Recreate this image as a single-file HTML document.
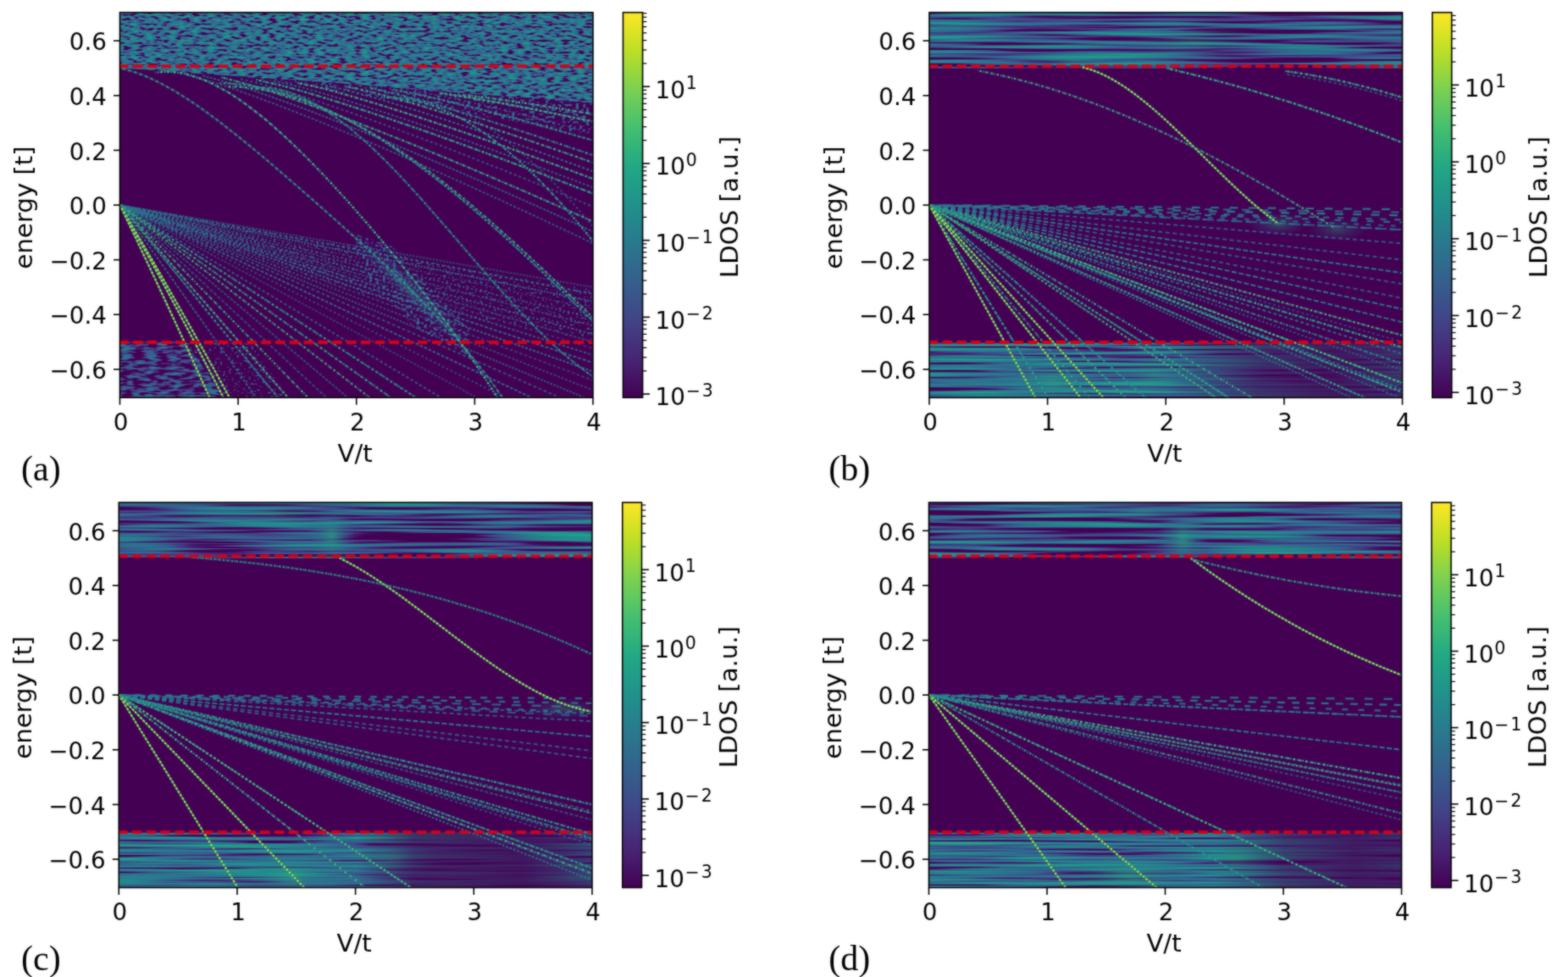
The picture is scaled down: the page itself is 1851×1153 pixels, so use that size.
<!DOCTYPE html>
<html><head><meta charset="utf-8"><title>LDOS</title>
<style>html,body{margin:0;padding:0;background:#fff;overflow:hidden}svg{display:block}</style>
</head><body>
<svg width="1851" height="1153" viewBox="0 0 1851 1153">
<defs><filter id="soft" x="0" y="0" width="1851" height="1153" filterUnits="userSpaceOnUse" color-interpolation-filters="sRGB"><feGaussianBlur stdDeviation="0.8" result="b"/><feComposite in="SourceGraphic" in2="b" operator="arithmetic" k2="0.4" k3="0.6"/></filter>
<linearGradient id="cba" x1="0" y1="1" x2="0" y2="0"><stop offset="0.0" stop-color="#440154"/><stop offset="0.1" stop-color="#482475"/><stop offset="0.2" stop-color="#414487"/><stop offset="0.3" stop-color="#355f8d"/><stop offset="0.4" stop-color="#2a788e"/><stop offset="0.5" stop-color="#21918c"/><stop offset="0.6" stop-color="#22a884"/><stop offset="0.7" stop-color="#44bf70"/><stop offset="0.8" stop-color="#7ad151"/><stop offset="0.9" stop-color="#bddf26"/><stop offset="1.0" stop-color="#fde725"/></linearGradient>
<clipPath id="clipa"><rect x="141.5" y="14.7" width="558.5" height="454.5"/></clipPath>
<linearGradient id="cbb" x1="0" y1="1" x2="0" y2="0"><stop offset="0.0" stop-color="#440154"/><stop offset="0.1" stop-color="#482475"/><stop offset="0.2" stop-color="#414487"/><stop offset="0.3" stop-color="#355f8d"/><stop offset="0.4" stop-color="#2a788e"/><stop offset="0.5" stop-color="#21918c"/><stop offset="0.6" stop-color="#22a884"/><stop offset="0.7" stop-color="#44bf70"/><stop offset="0.8" stop-color="#7ad151"/><stop offset="0.9" stop-color="#bddf26"/><stop offset="1.0" stop-color="#fde725"/></linearGradient>
<clipPath id="clipb"><rect x="1097.0" y="14.7" width="558.5" height="454.6"/></clipPath>
<linearGradient id="cbc" x1="0" y1="1" x2="0" y2="0"><stop offset="0.0" stop-color="#440154"/><stop offset="0.1" stop-color="#482475"/><stop offset="0.2" stop-color="#414487"/><stop offset="0.3" stop-color="#355f8d"/><stop offset="0.4" stop-color="#2a788e"/><stop offset="0.5" stop-color="#21918c"/><stop offset="0.6" stop-color="#22a884"/><stop offset="0.7" stop-color="#44bf70"/><stop offset="0.8" stop-color="#7ad151"/><stop offset="0.9" stop-color="#bddf26"/><stop offset="1.0" stop-color="#fde725"/></linearGradient>
<clipPath id="clipc"><rect x="140.3" y="593.0" width="558.7" height="454.5"/></clipPath>
<linearGradient id="cbd" x1="0" y1="1" x2="0" y2="0"><stop offset="0.0" stop-color="#440154"/><stop offset="0.1" stop-color="#482475"/><stop offset="0.2" stop-color="#414487"/><stop offset="0.3" stop-color="#355f8d"/><stop offset="0.4" stop-color="#2a788e"/><stop offset="0.5" stop-color="#21918c"/><stop offset="0.6" stop-color="#22a884"/><stop offset="0.7" stop-color="#44bf70"/><stop offset="0.8" stop-color="#7ad151"/><stop offset="0.9" stop-color="#bddf26"/><stop offset="1.0" stop-color="#fde725"/></linearGradient>
<clipPath id="clipd"><rect x="1096.5" y="593.0" width="558.0" height="454.5"/></clipPath>
<radialGradient id="glowA"><stop offset="0" stop-color="#2a9d8c" stop-opacity="0.8"/><stop offset="0.6" stop-color="#33638d" stop-opacity="0.35"/><stop offset="1" stop-color="#3b528b" stop-opacity="0"/></radialGradient>
<filter id="nzA" x="0" y="0" width="1" height="1" color-interpolation-filters="sRGB"><feTurbulence type="fractalNoise" baseFrequency="0.11 0.36" numOctaves="2" seed="7" result="t"/><feColorMatrix type="matrix" values="1 0 0 0 0  1 0 0 0 0  1 0 0 0 0  0 0 0 0 1"/><feComponentTransfer><feFuncR type="table" tableValues="0.267 0.267 0.267 0.267 0.267 0.267 0.267 0.267 0.275 0.267 0.224 0.189 0.171 0.155 0.146 0.136 0.129 0.123 0.120 0.120 0.123 0.128 0.137 0.150"/><feFuncG type="table" tableValues="0.005 0.005 0.005 0.005 0.005 0.005 0.005 0.005 0.038 0.228 0.335 0.411 0.453 0.493 0.515 0.541 0.563 0.585 0.604 0.622 0.637 0.648 0.662 0.677"/><feFuncB type="table" tableValues="0.329 0.329 0.329 0.329 0.329 0.329 0.329 0.329 0.365 0.514 0.548 0.556 0.558 0.558 0.557 0.554 0.551 0.547 0.541 0.535 0.529 0.523 0.516 0.507"/><feFuncA type="linear" slope="0" intercept="1"/></feComponentTransfer></filter>
<filter id="nzA2" x="0" y="0" width="1" height="1" color-interpolation-filters="sRGB"><feTurbulence type="fractalNoise" baseFrequency="0.07 0.3" numOctaves="2" seed="11" result="t"/><feColorMatrix type="matrix" values="1 0 0 0 0  1 0 0 0 0  1 0 0 0 0  0 0 0 0 1"/><feComponentTransfer><feFuncR type="table" tableValues="0.267 0.267 0.267 0.267 0.267 0.267 0.267 0.267 0.267 0.267 0.267 0.283 0.254 0.234 0.212 0.194 0.181 0.167 0.159 0.152 0.146 0.139 0.134 0.128"/><feFuncG type="table" tableValues="0.005 0.005 0.005 0.005 0.005 0.005 0.005 0.005 0.005 0.005 0.005 0.136 0.265 0.314 0.360 0.399 0.430 0.464 0.482 0.501 0.515 0.534 0.549 0.567"/><feFuncB type="table" tableValues="0.329 0.329 0.329 0.329 0.329 0.329 0.329 0.329 0.329 0.329 0.329 0.453 0.530 0.544 0.552 0.556 0.557 0.558 0.558 0.558 0.557 0.555 0.554 0.551"/><feFuncA type="linear" slope="0" intercept="1"/></feComponentTransfer></filter>
<filter id="nzH" x="0" y="0" width="1" height="1" color-interpolation-filters="sRGB"><feTurbulence type="fractalNoise" baseFrequency="0.3 0.4" numOctaves="1" seed="3" result="t"/><feColorMatrix type="matrix" values="1 0 0 0 0  1 0 0 0 0  1 0 0 0 0  0 0 0 0 1"/><feComponentTransfer><feFuncR type="table" tableValues="0.267 0.267 0.267 0.267 0.267 0.267 0.267 0.267 0.267 0.267 0.267 0.267 0.267 0.267 0.275 0.271 0.241 0.212 0.196 0.184 0.171 0.161 0.153 0.145"/><feFuncG type="table" tableValues="0.005 0.005 0.005 0.005 0.005 0.005 0.005 0.005 0.005 0.005 0.005 0.005 0.005 0.005 0.038 0.214 0.296 0.360 0.395 0.422 0.453 0.479 0.497 0.519"/><feFuncB type="table" tableValues="0.329 0.329 0.329 0.329 0.329 0.329 0.329 0.329 0.329 0.329 0.329 0.329 0.329 0.329 0.365 0.507 0.540 0.552 0.555 0.557 0.558 0.558 0.558 0.557"/><feFuncA type="linear" slope="0" intercept="1"/></feComponentTransfer></filter>
<filter id="nzH2" x="0" y="0" width="1" height="1" color-interpolation-filters="sRGB"><feTurbulence type="fractalNoise" baseFrequency="0.25 0.35" numOctaves="1" seed="4" result="t"/><feColorMatrix type="matrix" values="1 0 0 0 0  1 0 0 0 0  1 0 0 0 0  0 0 0 0 1"/><feComponentTransfer><feFuncR type="table" tableValues="0.267 0.267 0.267 0.267 0.267 0.267 0.267 0.267 0.267 0.267 0.267 0.267 0.269 0.281 0.249 0.222 0.194 0.182 0.171 0.162 0.152 0.143 0.135 0.128"/><feFuncG type="table" tableValues="0.005 0.005 0.005 0.005 0.005 0.005 0.005 0.005 0.005 0.005 0.005 0.005 0.010 0.156 0.279 0.339 0.399 0.426 0.453 0.475 0.501 0.523 0.545 0.567"/><feFuncB type="table" tableValues="0.329 0.329 0.329 0.329 0.329 0.329 0.329 0.329 0.329 0.329 0.329 0.329 0.335 0.469 0.535 0.549 0.556 0.557 0.558 0.558 0.558 0.556 0.554 0.551"/><feFuncA type="linear" slope="0" intercept="1"/></feComponentTransfer></filter>
<filter id="nzSb" x="0" y="0" width="1" height="1" color-interpolation-filters="sRGB"><feTurbulence type="fractalNoise" baseFrequency="0.005 0.26" numOctaves="2" seed="21" result="t"/><feColorMatrix type="matrix" values="1 0 0 0 0  1 0 0 0 0  1 0 0 0 0  0 0 0 0 1"/><feComponentTransfer><feFuncR type="table" tableValues="0.267 0.267 0.267 0.267 0.267 0.267 0.267 0.267 0.267 0.275 0.280 0.249 0.212 0.184 0.162 0.145 0.131 0.122 0.120 0.126 0.143 0.176 0.214 0.267"/><feFuncG type="table" tableValues="0.005 0.005 0.005 0.005 0.005 0.005 0.005 0.005 0.005 0.038 0.171 0.279 0.360 0.422 0.475 0.519 0.556 0.589 0.618 0.644 0.669 0.698 0.722 0.749"/><feFuncB type="table" tableValues="0.329 0.329 0.329 0.329 0.329 0.329 0.329 0.329 0.329 0.365 0.480 0.535 0.552 0.557 0.558 0.557 0.552 0.546 0.536 0.525 0.511 0.491 0.470 0.441"/><feFuncA type="linear" slope="0" intercept="1"/></feComponentTransfer></filter>
<filter id="nzLb" x="0" y="0" width="1" height="1" color-interpolation-filters="sRGB"><feTurbulence type="fractalNoise" baseFrequency="0.005 0.34" numOctaves="2" seed="26" result="t"/><feColorMatrix type="matrix" values="1 0 0 0 0  1 0 0 0 0  1 0 0 0 0  0 0 0 0 1"/><feComponentTransfer><feFuncR type="table" tableValues="0.267 0.267 0.267 0.267 0.267 0.267 0.267 0.270 0.282 0.254 0.222 0.192 0.171 0.155 0.139 0.128 0.120 0.120 0.126 0.140 0.166 0.202 0.246 0.304"/><feFuncG type="table" tableValues="0.005 0.005 0.005 0.005 0.005 0.005 0.005 0.015 0.146 0.265 0.339 0.403 0.453 0.493 0.534 0.567 0.600 0.622 0.644 0.666 0.691 0.715 0.739 0.765"/><feFuncB type="table" tableValues="0.329 0.329 0.329 0.329 0.329 0.329 0.329 0.341 0.462 0.530 0.549 0.556 0.558 0.558 0.555 0.551 0.543 0.535 0.525 0.513 0.497 0.476 0.452 0.420"/><feFuncA type="linear" slope="0" intercept="1"/></feComponentTransfer></filter>
<filter id="nzSc" x="0" y="0" width="1" height="1" color-interpolation-filters="sRGB"><feTurbulence type="fractalNoise" baseFrequency="0.005 0.26" numOctaves="2" seed="33" result="t"/><feColorMatrix type="matrix" values="1 0 0 0 0  1 0 0 0 0  1 0 0 0 0  0 0 0 0 1"/><feComponentTransfer><feFuncR type="table" tableValues="0.267 0.267 0.267 0.267 0.267 0.267 0.267 0.267 0.267 0.275 0.280 0.249 0.212 0.184 0.162 0.145 0.131 0.122 0.120 0.126 0.143 0.176 0.214 0.267"/><feFuncG type="table" tableValues="0.005 0.005 0.005 0.005 0.005 0.005 0.005 0.005 0.005 0.038 0.171 0.279 0.360 0.422 0.475 0.519 0.556 0.589 0.618 0.644 0.669 0.698 0.722 0.749"/><feFuncB type="table" tableValues="0.329 0.329 0.329 0.329 0.329 0.329 0.329 0.329 0.329 0.365 0.480 0.535 0.552 0.557 0.558 0.557 0.552 0.546 0.536 0.525 0.511 0.491 0.470 0.441"/><feFuncA type="linear" slope="0" intercept="1"/></feComponentTransfer></filter>
<filter id="nzLc" x="0" y="0" width="1" height="1" color-interpolation-filters="sRGB"><feTurbulence type="fractalNoise" baseFrequency="0.005 0.34" numOctaves="2" seed="38" result="t"/><feColorMatrix type="matrix" values="1 0 0 0 0  1 0 0 0 0  1 0 0 0 0  0 0 0 0 1"/><feComponentTransfer><feFuncR type="table" tableValues="0.267 0.267 0.267 0.267 0.267 0.267 0.267 0.270 0.282 0.254 0.222 0.192 0.171 0.155 0.139 0.128 0.120 0.120 0.126 0.140 0.166 0.202 0.246 0.304"/><feFuncG type="table" tableValues="0.005 0.005 0.005 0.005 0.005 0.005 0.005 0.015 0.146 0.265 0.339 0.403 0.453 0.493 0.534 0.567 0.600 0.622 0.644 0.666 0.691 0.715 0.739 0.765"/><feFuncB type="table" tableValues="0.329 0.329 0.329 0.329 0.329 0.329 0.329 0.341 0.462 0.530 0.549 0.556 0.558 0.558 0.555 0.551 0.543 0.535 0.525 0.513 0.497 0.476 0.452 0.420"/><feFuncA type="linear" slope="0" intercept="1"/></feComponentTransfer></filter>
<filter id="nzSd" x="0" y="0" width="1" height="1" color-interpolation-filters="sRGB"><feTurbulence type="fractalNoise" baseFrequency="0.005 0.26" numOctaves="2" seed="45" result="t"/><feColorMatrix type="matrix" values="1 0 0 0 0  1 0 0 0 0  1 0 0 0 0  0 0 0 0 1"/><feComponentTransfer><feFuncR type="table" tableValues="0.267 0.267 0.267 0.267 0.267 0.267 0.267 0.267 0.267 0.275 0.280 0.249 0.212 0.184 0.162 0.145 0.131 0.122 0.120 0.126 0.143 0.176 0.214 0.267"/><feFuncG type="table" tableValues="0.005 0.005 0.005 0.005 0.005 0.005 0.005 0.005 0.005 0.038 0.171 0.279 0.360 0.422 0.475 0.519 0.556 0.589 0.618 0.644 0.669 0.698 0.722 0.749"/><feFuncB type="table" tableValues="0.329 0.329 0.329 0.329 0.329 0.329 0.329 0.329 0.329 0.365 0.480 0.535 0.552 0.557 0.558 0.557 0.552 0.546 0.536 0.525 0.511 0.491 0.470 0.441"/><feFuncA type="linear" slope="0" intercept="1"/></feComponentTransfer></filter>
<filter id="nzLd" x="0" y="0" width="1" height="1" color-interpolation-filters="sRGB"><feTurbulence type="fractalNoise" baseFrequency="0.005 0.34" numOctaves="2" seed="50" result="t"/><feColorMatrix type="matrix" values="1 0 0 0 0  1 0 0 0 0  1 0 0 0 0  0 0 0 0 1"/><feComponentTransfer><feFuncR type="table" tableValues="0.267 0.267 0.267 0.267 0.267 0.267 0.267 0.270 0.282 0.254 0.222 0.192 0.171 0.155 0.139 0.128 0.120 0.120 0.126 0.140 0.166 0.202 0.246 0.304"/><feFuncG type="table" tableValues="0.005 0.005 0.005 0.005 0.005 0.005 0.005 0.015 0.146 0.265 0.339 0.403 0.453 0.493 0.534 0.567 0.600 0.622 0.644 0.666 0.691 0.715 0.739 0.765"/><feFuncB type="table" tableValues="0.329 0.329 0.329 0.329 0.329 0.329 0.329 0.341 0.462 0.530 0.549 0.556 0.558 0.558 0.555 0.551 0.543 0.535 0.525 0.513 0.497 0.476 0.452 0.420"/><feFuncA type="linear" slope="0" intercept="1"/></feComponentTransfer></filter>
<clipPath id="cl11"><path d="M141.5 9.4 L714.0 9.4 L714.0 122.5 L630.2 116.0 L560.4 111.1 L490.6 106.3 L420.8 99.8 L350.9 95.0 L281.1 90.1 L211.3 85.3 L169.4 82.1 L141.5 80.4 Z"/></clipPath>
<clipPath id="cl12"><path d="M281.1 90.1 L420.8 99.8 L560.4 111.1 L714.0 122.5 L714.0 161.2 L630.2 148.3 L560.4 135.4 L448.7 116.0 L350.9 99.8 Z"/></clipPath>
<clipPath id="cl13"><path d="M141.5 403.6 L219.7 403.6 L246.2 435.9 L283.9 474.6 L141.5 474.6 Z"/></clipPath>
<clipPath id="cl14"><path d="M219.7 403.6 L295.1 403.6 L344.0 474.6 L267.2 474.6 Z"/></clipPath>
<clipPath id="cl15"><path d="M141.5 242.0 L420.8 290.5 L560.4 319.5 L714.0 342.2 L714.0 403.6 L490.6 364.8 L350.9 326.0 L211.3 267.8 Z"/></clipPath>
<clipPath id="cl16"><path d="M141.5 242.0 L281.1 266.2 L420.8 290.5 L490.6 306.6 L350.9 306.6 L211.3 274.3 Z"/></clipPath>
<clipPath id="cl17"><path d="M413.8 274.3 L462.6 290.5 L553.4 387.4 L553.4 419.7 L490.6 387.4 L427.7 322.8 Z"/></clipPath>
<radialGradient id="glow"><stop offset="0" stop-color="#26ad81" stop-opacity="0.75"/><stop offset="0.5" stop-color="#21918c" stop-opacity="0.35"/><stop offset="1" stop-color="#25848e" stop-opacity="0"/></radialGradient>
<clipPath id="cl19"><path d="M1097.0 9.4 L1669.5 9.4 L1669.5 80.6 L1097.0 80.6 Z"/></clipPath>
<clipPath id="cl20"><path d="M1097.0 404.5 L1669.5 404.5 L1669.5 474.6 L1097.0 474.6 Z"/></clipPath>
<linearGradient id="fdb" x1="0" x2="1" y1="0" y2="0"><stop offset="0" stop-color="#440154" stop-opacity="0.0"/><stop offset="0.5" stop-color="#440154" stop-opacity="0.0"/><stop offset="0.7" stop-color="#440154" stop-opacity="0.6"/><stop offset="0.85" stop-color="#440154" stop-opacity="0.8"/><stop offset="1" stop-color="#440154" stop-opacity="0.6"/></linearGradient>
<clipPath id="cbb"><rect x="1097.0" y="404.5" width="558.5" height="70.1"/></clipPath>
<clipPath id="cub"><rect x="1097.0" y="9.4" width="558.5" height="71.2"/></clipPath>
<clipPath id="cl24"><path d="M140.3 587.6 L713.0 587.6 L713.0 658.8 L140.3 658.8 Z"/></clipPath>
<clipPath id="cl25"><path d="M140.3 982.7 L713.0 982.7 L713.0 1052.8 L140.3 1052.8 Z"/></clipPath>
<linearGradient id="fdc" x1="0" x2="1" y1="0" y2="0"><stop offset="0" stop-color="#440154" stop-opacity="0.0"/><stop offset="0.5" stop-color="#440154" stop-opacity="0.0"/><stop offset="0.62" stop-color="#440154" stop-opacity="0.65"/><stop offset="0.85" stop-color="#440154" stop-opacity="0.8"/><stop offset="1" stop-color="#440154" stop-opacity="0.45"/></linearGradient>
<clipPath id="cbc"><rect x="140.3" y="982.7" width="558.7" height="70.1"/></clipPath>
<clipPath id="cuc"><rect x="140.3" y="587.6" width="558.7" height="71.2"/></clipPath>
<clipPath id="cl29"><path d="M1096.5 587.6 L1668.4 587.6 L1668.4 658.8 L1096.5 658.8 Z"/></clipPath>
<clipPath id="cl30"><path d="M1096.5 982.7 L1668.4 982.7 L1668.4 1052.8 L1096.5 1052.8 Z"/></clipPath>
<linearGradient id="fdd" x1="0" x2="1" y1="0" y2="0"><stop offset="0" stop-color="#440154" stop-opacity="0.0"/><stop offset="0.6" stop-color="#440154" stop-opacity="0.0"/><stop offset="0.75" stop-color="#440154" stop-opacity="0.55"/><stop offset="0.9" stop-color="#440154" stop-opacity="0.75"/><stop offset="1" stop-color="#440154" stop-opacity="0.65"/></linearGradient>
<clipPath id="cbd"><rect x="1096.5" y="982.7" width="558.0" height="70.1"/></clipPath>
<clipPath id="cud"><rect x="1096.5" y="587.6" width="558.0" height="71.2"/></clipPath></defs><g filter="url(#soft)">
<rect width="1851" height="1153" fill="#fff"/>
<g clip-path="url(#clipa)">
<rect x="141.5" y="14.7" width="558.5" height="454.5" fill="#440154"/>
<g clip-path="url(#cl11)"><rect x="141.5" y="14.7" width="558.5" height="454.5" filter="url(#nzA)" /></g>
<g clip-path="url(#cl12)"><rect x="141.5" y="14.7" width="558.5" height="454.5" filter="url(#nzH2)" /></g>
<g clip-path="url(#cl13)"><rect x="141.5" y="14.7" width="558.5" height="454.5" filter="url(#nzA2)" /></g>
<g clip-path="url(#cl14)"><rect x="141.5" y="14.7" width="558.5" height="454.5" filter="url(#nzH)" /></g>
<g clip-path="url(#cl15)"><rect x="141.5" y="14.7" width="558.5" height="454.5" filter="url(#nzH)" /></g>
<g clip-path="url(#cl16)"><rect x="141.5" y="14.7" width="558.5" height="454.5" filter="url(#nzH)" /></g>
<g clip-path="url(#cl17)"><rect x="141.5" y="14.7" width="558.5" height="454.5" filter="url(#nzH2)" /></g>
<ellipse cx="483.6" cy="342.2" rx="100" ry="13" transform="rotate(44.3 483.6 342.2)" fill="url(#glowA)" opacity="0.6"/>
<path d="M546.4 112.0 C548.8 112.3 556.1 113.0 561.0 113.6 C565.8 114.1 570.7 114.8 575.5 115.4 C580.3 116.0 585.2 116.7 590.0 117.4 C594.9 118.1 599.7 118.8 604.6 119.5 C609.4 120.2 614.3 120.9 619.1 121.6 C624.0 122.4 628.8 123.1 633.7 123.9 C638.5 124.6 643.4 125.4 648.2 126.2 C653.1 127.0 657.9 127.7 662.8 128.5 C667.6 129.3 672.5 130.1 677.3 130.9 C682.2 131.7 687.0 132.5 691.9 133.4 C696.7 134.2 701.6 135.0 706.4 135.8 C711.2 136.6 718.5 137.9 720.9 138.3" fill="none" stroke="#228d8d" stroke-width="2.3" stroke-opacity="0.9542301210811697" stroke-dasharray="2.5 1.5" stroke-dashoffset="2.2"/><path d="M546.4 112.0 C548.8 112.3 556.1 113.0 561.0 113.6 C565.8 114.1 570.7 114.8 575.5 115.4 C580.3 116.0 585.2 116.7 590.0 117.4 C594.9 118.1 599.7 118.8 604.6 119.5 C609.4 120.2 614.3 120.9 619.1 121.6 C624.0 122.4 628.8 123.1 633.7 123.9 C638.5 124.6 643.4 125.4 648.2 126.2 C653.1 127.0 657.9 127.7 662.8 128.5 C667.6 129.3 672.5 130.1 677.3 130.9 C682.2 131.7 687.0 132.5 691.9 133.4 C696.7 134.2 701.6 135.0 706.4 135.8 C711.2 136.6 718.5 137.9 720.9 138.3" fill="none" stroke="#42be71" stroke-width="2.3" stroke-opacity="0.9542301210811697" stroke-dasharray="2 5.4" stroke-dashoffset="0.5"/>
<path d="M518.5 110.0 C521.3 110.3 529.7 111.4 535.4 112.2 C541.0 113.0 546.6 113.9 552.2 114.8 C557.9 115.7 563.5 116.7 569.1 117.7 C574.7 118.7 580.3 119.7 586.0 120.7 C591.6 121.7 597.2 122.8 602.8 123.8 C608.5 124.9 614.1 126.0 619.7 127.1 C625.3 128.2 631.0 129.3 636.6 130.4 C642.2 131.5 647.8 132.6 653.5 133.8 C659.1 134.9 664.7 136.1 670.3 137.2 C676.0 138.4 681.6 139.6 687.2 140.8 C692.8 141.9 698.4 143.1 704.1 144.3 C709.7 145.5 718.1 147.3 720.9 147.9" fill="none" stroke="#26828e" stroke-width="2.3" stroke-opacity="0.9507295311759609" stroke-dasharray="3.5 1.0" stroke-dashoffset="2.2"/><path d="M518.5 110.0 C521.3 110.3 529.7 111.4 535.4 112.2 C541.0 113.0 546.6 113.9 552.2 114.8 C557.9 115.7 563.5 116.7 569.1 117.7 C574.7 118.7 580.3 119.7 586.0 120.7 C591.6 121.7 597.2 122.8 602.8 123.8 C608.5 124.9 614.1 126.0 619.7 127.1 C625.3 128.2 631.0 129.3 636.6 130.4 C642.2 131.5 647.8 132.6 653.5 133.8 C659.1 134.9 664.7 136.1 670.3 137.2 C676.0 138.4 681.6 139.6 687.2 140.8 C692.8 141.9 698.4 143.1 704.1 144.3 C709.7 145.5 718.1 147.3 720.9 147.9" fill="none" stroke="#48c16e" stroke-width="2.3" stroke-opacity="0.9507295311759609" stroke-dasharray="2 3.7" stroke-dashoffset="4.7"/>
<path d="M490.6 107.9 C493.8 108.4 503.4 109.9 509.8 111.1 C516.2 112.3 522.6 113.6 529.0 114.9 C535.4 116.3 541.8 117.7 548.2 119.1 C554.6 120.5 561.0 122.0 567.4 123.5 C573.8 125.0 580.2 126.5 586.6 128.1 C593.0 129.6 599.4 131.2 605.8 132.8 C612.2 134.4 618.6 136.0 625.0 137.6 C631.4 139.2 637.8 140.9 644.2 142.5 C650.5 144.2 656.9 145.8 663.3 147.5 C669.7 149.2 676.1 150.9 682.5 152.6 C688.9 154.4 695.3 156.1 701.7 157.8 C708.1 159.6 717.7 162.2 720.9 163.1" fill="none" stroke="#306a8e" stroke-width="2.0" stroke-opacity="0.6076337582980382" stroke-dasharray="3.1 2.9" stroke-dashoffset="1.9"/>
<path d="M462.6 105.8 C466.2 106.5 477.0 108.2 484.2 109.6 C491.3 111.0 498.5 112.7 505.7 114.3 C512.9 115.9 520.0 117.5 527.2 119.3 C534.4 121.0 541.6 122.7 548.7 124.5 C555.9 126.3 563.1 128.1 570.3 130.0 C577.4 131.8 584.6 133.7 591.8 135.6 C599.0 137.5 606.1 139.4 613.3 141.4 C620.5 143.3 627.7 145.3 634.8 147.3 C642.0 149.2 649.2 151.3 656.4 153.3 C663.5 155.3 670.7 157.3 677.9 159.4 C685.1 161.4 692.2 163.5 699.4 165.6 C706.6 167.7 717.4 170.8 720.9 171.9" fill="none" stroke="#2b748e" stroke-width="2.3" stroke-opacity="0.8266349726748151" stroke-dasharray="2.4 1.4" stroke-dashoffset="2.5"/><path d="M462.6 105.8 C466.2 106.5 477.0 108.2 484.2 109.6 C491.3 111.0 498.5 112.7 505.7 114.3 C512.9 115.9 520.0 117.5 527.2 119.3 C534.4 121.0 541.6 122.7 548.7 124.5 C555.9 126.3 563.1 128.1 570.3 130.0 C577.4 131.8 584.6 133.7 591.8 135.6 C599.0 137.5 606.1 139.4 613.3 141.4 C620.5 143.3 627.7 145.3 634.8 147.3 C642.0 149.2 649.2 151.3 656.4 153.3 C663.5 155.3 670.7 157.3 677.9 159.4 C685.1 161.4 692.2 163.5 699.4 165.6 C706.6 167.7 717.4 170.8 720.9 171.9" fill="none" stroke="#2ab07f" stroke-width="2.3" stroke-opacity="0.8266349726748151" stroke-dasharray="2 3.7" stroke-dashoffset="1.1"/>
<path d="M434.7 103.8 C438.7 104.6 450.6 106.9 458.6 108.8 C466.5 110.6 474.5 112.7 482.4 114.8 C490.4 116.9 498.3 119.1 506.3 121.4 C514.2 123.6 522.2 125.9 530.1 128.3 C538.1 130.6 546.0 133.0 554.0 135.4 C561.9 137.9 569.9 140.3 577.8 142.8 C585.8 145.3 593.7 147.9 601.7 150.4 C609.6 153.0 617.6 155.5 625.5 158.1 C633.5 160.8 641.4 163.4 649.4 166.0 C657.3 168.7 665.3 171.4 673.2 174.1 C681.2 176.7 689.1 179.5 697.1 182.2 C705.0 184.9 717.0 189.1 720.9 190.4" fill="none" stroke="#2b748e" stroke-width="2.3" stroke-opacity="0.7869344843771456" stroke-dasharray="3.7 1.6" stroke-dashoffset="3.2"/><path d="M434.7 103.8 C438.7 104.6 450.6 106.9 458.6 108.8 C466.5 110.6 474.5 112.7 482.4 114.8 C490.4 116.9 498.3 119.1 506.3 121.4 C514.2 123.6 522.2 125.9 530.1 128.3 C538.1 130.6 546.0 133.0 554.0 135.4 C561.9 137.9 569.9 140.3 577.8 142.8 C585.8 145.3 593.7 147.9 601.7 150.4 C609.6 153.0 617.6 155.5 625.5 158.1 C633.5 160.8 641.4 163.4 649.4 166.0 C657.3 168.7 665.3 171.4 673.2 174.1 C681.2 176.7 689.1 179.5 697.1 182.2 C705.0 184.9 717.0 189.1 720.9 190.4" fill="none" stroke="#28ae80" stroke-width="2.3" stroke-opacity="0.7869344843771456" stroke-dasharray="2 6.0" stroke-dashoffset="4.3"/>
<path d="M406.8 101.7 C411.2 102.6 424.2 105.2 433.0 107.3 C441.7 109.4 450.4 111.8 459.1 114.2 C467.9 116.5 476.6 119.0 485.3 121.5 C494.1 124.1 502.8 126.7 511.5 129.3 C520.2 132.0 529.0 134.7 537.7 137.4 C546.4 140.1 555.1 142.9 563.9 145.7 C572.6 148.5 581.3 151.4 590.0 154.3 C598.8 157.1 607.5 160.0 616.2 163.0 C625.0 165.9 633.7 168.9 642.4 171.9 C651.1 174.8 659.9 177.9 668.6 180.9 C677.3 183.9 686.0 187.0 694.8 190.1 C703.5 193.1 716.6 197.8 720.9 199.4" fill="none" stroke="#228c8d" stroke-width="2.3" stroke-opacity="0.7998085556080387" stroke-dasharray="3.4 1.9" stroke-dashoffset="2.1"/><path d="M406.8 101.7 C411.2 102.6 424.2 105.2 433.0 107.3 C441.7 109.4 450.4 111.8 459.1 114.2 C467.9 116.5 476.6 119.0 485.3 121.5 C494.1 124.1 502.8 126.7 511.5 129.3 C520.2 132.0 529.0 134.7 537.7 137.4 C546.4 140.1 555.1 142.9 563.9 145.7 C572.6 148.5 581.3 151.4 590.0 154.3 C598.8 157.1 607.5 160.0 616.2 163.0 C625.0 165.9 633.7 168.9 642.4 171.9 C651.1 174.8 659.9 177.9 668.6 180.9 C677.3 183.9 686.0 187.0 694.8 190.1 C703.5 193.1 716.6 197.8 720.9 199.4" fill="none" stroke="#50c46a" stroke-width="2.3" stroke-opacity="0.7998085556080387" stroke-dasharray="2 5.0" stroke-dashoffset="1.5"/>
<path d="M378.9 99.6 C383.6 100.7 397.9 103.6 407.4 106.0 C416.9 108.3 426.4 111.0 435.9 113.7 C445.4 116.4 454.9 119.2 464.4 122.1 C473.9 124.9 483.4 127.9 492.9 130.8 C502.4 133.8 511.9 136.9 521.4 140.0 C530.9 143.1 540.4 146.2 549.9 149.4 C559.4 152.5 568.9 155.8 578.4 159.0 C587.9 162.3 597.4 165.6 606.9 168.9 C616.4 172.2 625.9 175.5 635.4 178.9 C644.9 182.3 654.4 185.7 663.9 189.1 C673.4 192.5 682.9 196.0 692.4 199.5 C701.9 203.0 716.2 208.2 720.9 210.0" fill="none" stroke="#25838e" stroke-width="2.0" stroke-opacity="0.8538592255284938" stroke-dasharray="3.0 2.4" stroke-dashoffset="0.2"/>
<path d="M350.9 97.6 C356.1 98.7 371.5 102.0 381.8 104.5 C392.0 107.1 402.3 110.1 412.6 113.0 C422.9 116.0 433.2 119.1 443.4 122.2 C453.7 125.3 464.0 128.6 474.3 131.9 C484.6 135.1 494.8 138.5 505.1 141.9 C515.4 145.3 525.7 148.7 535.9 152.2 C546.2 155.7 556.5 159.2 566.8 162.8 C577.1 166.4 587.3 170.0 597.6 173.6 C607.9 177.3 618.2 181.0 628.4 184.7 C638.7 188.4 649.0 192.1 659.3 195.9 C669.6 199.7 679.8 203.5 690.1 207.3 C700.4 211.1 715.8 216.9 720.9 218.8" fill="none" stroke="#26828e" stroke-width="2.3" stroke-opacity="0.9392212742662908" stroke-dasharray="2.3 1.5" stroke-dashoffset="3.5"/><path d="M350.9 97.6 C356.1 98.7 371.5 102.0 381.8 104.5 C392.0 107.1 402.3 110.1 412.6 113.0 C422.9 116.0 433.2 119.1 443.4 122.2 C453.7 125.3 464.0 128.6 474.3 131.9 C484.6 135.1 494.8 138.5 505.1 141.9 C515.4 145.3 525.7 148.7 535.9 152.2 C546.2 155.7 556.5 159.2 566.8 162.8 C577.1 166.4 587.3 170.0 597.6 173.6 C607.9 177.3 618.2 181.0 628.4 184.7 C638.7 188.4 649.0 192.1 659.3 195.9 C669.6 199.7 679.8 203.5 690.1 207.3 C700.4 211.1 715.8 216.9 720.9 218.8" fill="none" stroke="#44bf70" stroke-width="2.3" stroke-opacity="0.9392212742662908" stroke-dasharray="2 4.1" stroke-dashoffset="2.2"/>
<path d="M323.0 95.5 C328.5 96.8 345.1 100.3 356.2 103.2 C367.2 106.0 378.3 109.3 389.3 112.6 C400.4 115.8 411.4 119.2 422.5 122.7 C433.5 126.2 444.6 129.7 455.7 133.4 C466.7 137.0 477.8 140.7 488.8 144.4 C499.9 148.2 510.9 152.0 522.0 155.8 C533.0 159.7 544.1 163.6 555.1 167.5 C566.2 171.5 577.2 175.5 588.3 179.5 C599.4 183.5 610.4 187.6 621.5 191.7 C632.5 195.8 643.6 199.9 654.6 204.1 C665.7 208.2 676.7 212.4 687.8 216.6 C698.8 220.9 715.4 227.3 720.9 229.4" fill="none" stroke="#27808e" stroke-width="2.0" stroke-opacity="0.7562815252839435" stroke-dasharray="2.8 2.2" stroke-dashoffset="0.1"/>
<path d="M302.1 94.0 C307.9 95.3 325.3 99.1 337.0 102.1 C348.6 105.2 360.2 108.7 371.9 112.1 C383.5 115.6 395.2 119.2 406.8 122.9 C418.4 126.6 430.1 130.4 441.7 134.3 C453.3 138.1 465.0 142.1 476.6 146.1 C488.2 150.1 499.9 154.1 511.5 158.2 C523.1 162.3 534.8 166.5 546.4 170.7 C558.0 174.9 569.7 179.2 581.3 183.4 C593.0 187.7 604.6 192.1 616.2 196.4 C627.9 200.8 639.5 205.2 651.1 209.6 C662.8 214.1 674.4 218.5 686.0 223.0 C697.7 227.5 715.1 234.3 720.9 236.6" fill="none" stroke="#1f948c" stroke-width="2.3" stroke-opacity="0.9110146265811507" stroke-dasharray="3.2 1.4" stroke-dashoffset="0.9"/><path d="M302.1 94.0 C307.9 95.3 325.3 99.1 337.0 102.1 C348.6 105.2 360.2 108.7 371.9 112.1 C383.5 115.6 395.2 119.2 406.8 122.9 C418.4 126.6 430.1 130.4 441.7 134.3 C453.3 138.1 465.0 142.1 476.6 146.1 C488.2 150.1 499.9 154.1 511.5 158.2 C523.1 162.3 534.8 166.5 546.4 170.7 C558.0 174.9 569.7 179.2 581.3 183.4 C593.0 187.7 604.6 192.1 616.2 196.4 C627.9 200.8 639.5 205.2 651.1 209.6 C662.8 214.1 674.4 218.5 686.0 223.0 C697.7 227.5 715.1 234.3 720.9 236.6" fill="none" stroke="#38b977" stroke-width="2.3" stroke-opacity="0.9110146265811507" stroke-dasharray="2 5.9" stroke-dashoffset="3.9"/>
<path d="M281.1 92.4 C287.2 93.9 305.6 98.2 317.8 101.6 C330.0 105.0 342.2 108.9 354.4 112.8 C366.6 116.7 378.9 120.8 391.1 125.0 C403.3 129.1 415.5 133.4 427.7 137.7 C439.9 142.1 452.2 146.5 464.4 151.0 C476.6 155.5 488.8 160.0 501.0 164.6 C513.3 169.2 525.5 173.9 537.7 178.6 C549.9 183.4 562.1 188.1 574.3 193.0 C586.6 197.8 598.8 202.6 611.0 207.5 C623.2 212.4 635.4 217.4 647.6 222.4 C659.9 227.3 672.1 232.4 684.3 237.4 C696.5 242.5 714.8 250.1 720.9 252.7" fill="none" stroke="#26828e" stroke-width="2.0" stroke-opacity="0.6696528384189043" stroke-dasharray="3.0 2.9" stroke-dashoffset="2.9"/>
<path d="M260.2 90.9 C266.6 92.6 285.8 97.4 298.6 101.2 C311.4 105.0 324.2 109.4 337.0 113.8 C349.8 118.1 362.6 122.7 375.4 127.4 C388.2 132.0 401.0 136.8 413.8 141.7 C426.6 146.6 439.4 151.6 452.2 156.6 C465.0 161.6 477.8 166.7 490.6 171.9 C503.4 177.1 516.2 182.3 529.0 187.6 C541.8 192.9 554.6 198.3 567.4 203.7 C580.2 209.1 593.0 214.6 605.8 220.1 C618.6 225.6 631.4 231.1 644.2 236.7 C656.9 242.3 669.7 248.0 682.5 253.6 C695.3 259.3 714.5 267.9 720.9 270.8" fill="none" stroke="#25858e" stroke-width="2.3" stroke-opacity="0.7807838432324263" stroke-dasharray="3.9 1.0" stroke-dashoffset="3.9"/><path d="M260.2 90.9 C266.6 92.6 285.8 97.4 298.6 101.2 C311.4 105.0 324.2 109.4 337.0 113.8 C349.8 118.1 362.6 122.7 375.4 127.4 C388.2 132.0 401.0 136.8 413.8 141.7 C426.6 146.6 439.4 151.6 452.2 156.6 C465.0 161.6 477.8 166.7 490.6 171.9 C503.4 177.1 516.2 182.3 529.0 187.6 C541.8 192.9 554.6 198.3 567.4 203.7 C580.2 209.1 593.0 214.6 605.8 220.1 C618.6 225.6 631.4 231.1 644.2 236.7 C656.9 242.3 669.7 248.0 682.5 253.6 C695.3 259.3 714.5 267.9 720.9 270.8" fill="none" stroke="#50c46a" stroke-width="2.3" stroke-opacity="0.7807838432324263" stroke-dasharray="2 5.7" stroke-dashoffset="3.7"/>
<path d="M239.2 89.3 C245.9 91.2 266.0 96.3 279.4 100.4 C292.8 104.5 306.1 109.3 319.5 114.0 C332.9 118.7 346.3 123.6 359.7 128.6 C373.0 133.6 386.4 138.8 399.8 144.1 C413.2 149.3 426.6 154.7 439.9 160.1 C453.3 165.5 466.7 171.0 480.1 176.6 C493.5 182.2 506.9 187.8 520.2 193.5 C533.6 199.2 547.0 205.0 560.4 210.8 C573.8 216.6 587.1 222.5 600.5 228.4 C613.9 234.4 627.3 240.3 640.7 246.4 C654.0 252.4 667.4 258.4 680.8 264.6 C694.2 270.7 714.3 279.9 720.9 283.0" fill="none" stroke="#2a788e" stroke-width="2.0" stroke-opacity="0.7684073594335137" stroke-dasharray="2.9 1.6" stroke-dashoffset="4.4"/>
<path d="M218.3 87.8 C225.3 89.8 246.2 95.3 260.2 99.8 C274.1 104.2 288.1 109.4 302.1 114.4 C316.0 119.5 330.0 124.9 344.0 130.3 C357.9 135.7 371.9 141.3 385.8 147.0 C399.8 152.6 413.8 158.4 427.7 164.3 C441.7 170.2 455.7 176.1 469.6 182.2 C483.6 188.2 497.5 194.3 511.5 200.5 C525.5 206.6 539.4 212.9 553.4 219.2 C567.4 225.5 581.3 231.8 595.3 238.2 C609.2 244.6 623.2 251.1 637.2 257.6 C651.1 264.1 665.1 270.7 679.1 277.3 C693.0 283.9 714.0 293.9 720.9 297.2" fill="none" stroke="#2d708e" stroke-width="2.0" stroke-opacity="0.751416140228659" stroke-dasharray="3.0 2.0" stroke-dashoffset="1.7"/>
<path d="M141.5 242.0 C149.4 243.4 172.9 247.5 188.6 250.2 C204.3 252.9 220.0 255.6 235.7 258.4 C251.5 261.1 267.2 263.8 282.9 266.5 C298.6 269.3 314.3 272.0 330.0 274.7 C345.7 277.4 361.4 280.2 377.1 282.9 C392.8 285.6 408.5 288.3 424.2 291.1 C439.9 293.8 455.7 296.5 471.4 299.2 C487.1 302.0 502.8 304.7 518.5 307.4 C534.2 310.2 549.9 312.9 565.6 315.6 C581.3 318.3 597.0 321.1 612.7 323.8 C628.4 326.5 644.2 329.2 659.9 332.0 C675.6 334.7 699.1 338.8 707.0 340.1" fill="none" stroke="#2d718e" stroke-width="1.9" stroke-opacity="0.6337357394348178" stroke-dasharray="2.4 1.6" stroke-dashoffset="1.1"/>
<path d="M141.5 242.0 C149.4 243.5 172.9 247.9 188.6 250.8 C204.3 253.8 220.0 256.7 235.7 259.7 C251.5 262.6 267.2 265.6 282.9 268.5 C298.6 271.4 314.3 274.4 330.0 277.3 C345.7 280.3 361.4 283.2 377.1 286.2 C392.8 289.1 408.5 292.1 424.2 295.0 C439.9 297.9 455.7 300.9 471.4 303.8 C487.1 306.8 502.8 309.7 518.5 312.7 C534.2 315.6 549.9 318.6 565.6 321.5 C581.3 324.4 597.0 327.4 612.7 330.3 C628.4 333.3 644.2 336.2 659.9 339.2 C675.6 342.1 699.1 346.5 707.0 348.0" fill="none" stroke="#297a8e" stroke-width="2.0" stroke-opacity="0.8583026582559974" stroke-dasharray="3.6 2.7" stroke-dashoffset="4.1"/>
<path d="M141.5 242.0 C149.4 243.6 172.9 248.4 188.6 251.6 C204.3 254.8 220.0 258.0 235.7 261.2 C251.5 264.4 267.2 267.6 282.9 270.8 C298.6 274.0 314.3 277.2 330.0 280.4 C345.7 283.6 361.4 286.8 377.1 290.0 C392.8 293.2 408.5 296.4 424.2 299.6 C439.9 302.8 455.7 306.0 471.4 309.2 C487.1 312.4 502.8 315.6 518.5 318.8 C534.2 322.0 549.9 325.2 565.6 328.4 C581.3 331.6 597.0 334.8 612.7 338.0 C628.4 341.2 644.2 344.4 659.9 347.6 C675.6 350.8 699.1 355.6 707.0 357.2" fill="none" stroke="#26828e" stroke-width="2.0" stroke-opacity="0.8019340576316121" stroke-dasharray="2.2 1.5" stroke-dashoffset="0.1"/>
<path d="M141.5 242.0 C149.4 243.7 172.9 248.9 188.6 252.4 C204.3 255.8 220.0 259.3 235.7 262.7 C251.5 266.2 267.2 269.6 282.9 273.1 C298.6 276.5 314.3 280.0 330.0 283.4 C345.7 286.9 361.4 290.3 377.1 293.8 C392.8 297.3 408.5 300.7 424.2 304.2 C439.9 307.6 455.7 311.1 471.4 314.5 C487.1 318.0 502.8 321.4 518.5 324.9 C534.2 328.3 549.9 331.8 565.6 335.2 C581.3 338.7 597.0 342.1 612.7 345.6 C628.4 349.0 644.2 352.5 659.9 356.0 C675.6 359.4 699.1 364.6 707.0 366.3" fill="none" stroke="#33638d" stroke-width="1.9" stroke-opacity="0.48284658818830783" stroke-dasharray="2.7 2.2" stroke-dashoffset="0.3"/>
<path d="M141.5 242.0 C149.4 243.9 172.9 249.5 188.6 253.2 C204.3 257.0 220.0 260.7 235.7 264.5 C251.5 268.2 267.2 272.0 282.9 275.7 C298.6 279.4 314.3 283.2 330.0 286.9 C345.7 290.7 361.4 294.4 377.1 298.2 C392.8 301.9 408.5 305.6 424.2 309.4 C439.9 313.1 455.7 316.9 471.4 320.6 C487.1 324.4 502.8 328.1 518.5 331.9 C534.2 335.6 549.9 339.3 565.6 343.1 C581.3 346.8 597.0 350.6 612.7 354.3 C628.4 358.1 644.2 361.8 659.9 365.5 C675.6 369.3 699.1 374.9 707.0 376.8" fill="none" stroke="#29798e" stroke-width="2.0" stroke-opacity="0.6504434838667285" stroke-dasharray="2.5 2.6" stroke-dashoffset="2.3"/>
<path d="M141.5 242.0 C149.4 244.0 172.9 250.0 188.6 254.0 C204.3 258.0 220.0 262.0 235.7 266.0 C251.5 270.0 267.2 274.0 282.9 278.0 C298.6 282.0 314.3 286.0 330.0 290.0 C345.7 294.0 361.4 298.0 377.1 302.0 C392.8 306.0 408.5 310.0 424.2 314.0 C439.9 318.0 455.7 322.0 471.4 326.0 C487.1 330.0 502.8 334.0 518.5 338.0 C534.2 342.0 549.9 346.0 565.6 350.0 C581.3 354.0 597.0 358.0 612.7 362.0 C628.4 365.9 644.2 369.9 659.9 373.9 C675.6 377.9 699.1 383.9 707.0 385.9" fill="none" stroke="#2a778e" stroke-width="2.0" stroke-opacity="0.6070903732895961" stroke-dasharray="2.8 2.1" stroke-dashoffset="0.9"/>
<path d="M141.5 242.0 C149.4 244.1 172.9 250.6 188.6 254.9 C204.3 259.2 220.0 263.4 235.7 267.7 C251.5 272.0 267.2 276.3 282.9 280.6 C298.6 284.9 314.3 289.2 330.0 293.5 C345.7 297.8 361.4 302.0 377.1 306.3 C392.8 310.6 408.5 314.9 424.2 319.2 C439.9 323.5 455.7 327.8 471.4 332.1 C487.1 336.4 502.8 340.7 518.5 344.9 C534.2 349.2 549.9 353.5 565.6 357.8 C581.3 362.1 597.0 366.4 612.7 370.7 C628.4 375.0 644.2 379.3 659.9 383.5 C675.6 387.8 699.1 394.3 707.0 396.4" fill="none" stroke="#25838e" stroke-width="2.0" stroke-opacity="0.7530347942786029" stroke-dasharray="2.4 2.4" stroke-dashoffset="4.1"/>
<path d="M141.5 242.0 C149.4 244.3 172.9 251.1 188.6 255.6 C204.3 260.2 220.0 264.7 235.7 269.3 C251.5 273.8 267.2 278.3 282.9 282.9 C298.6 287.4 314.3 292.0 330.0 296.5 C345.7 301.1 361.4 305.6 377.1 310.2 C392.8 314.7 408.5 319.2 424.2 323.8 C439.9 328.3 455.7 332.9 471.4 337.4 C487.1 342.0 502.8 346.5 518.5 351.0 C534.2 355.6 549.9 360.1 565.6 364.7 C581.3 369.2 597.0 373.8 612.7 378.3 C628.4 382.9 644.2 387.4 659.9 391.9 C675.6 396.5 699.1 403.3 707.0 405.6" fill="none" stroke="#306a8e" stroke-width="2.0" stroke-opacity="0.6439385221198037" stroke-dasharray="3.4 1.7" stroke-dashoffset="3.5"/>
<path d="M141.5 242.0 C149.4 244.4 172.9 251.5 188.6 256.3 C204.3 261.0 220.0 265.8 235.7 270.6 C251.5 275.3 267.2 280.1 282.9 284.9 C298.6 289.6 314.3 294.4 330.0 299.1 C345.7 303.9 361.4 308.7 377.1 313.4 C392.8 318.2 408.5 322.9 424.2 327.7 C439.9 332.5 455.7 337.2 471.4 342.0 C487.1 346.8 502.8 351.5 518.5 356.3 C534.2 361.0 549.9 365.8 565.6 370.6 C581.3 375.3 597.0 380.1 612.7 384.9 C628.4 389.6 644.2 394.4 659.9 399.1 C675.6 403.9 699.1 411.0 707.0 413.4" fill="none" stroke="#2e6e8e" stroke-width="1.9" stroke-opacity="0.5161799244068029" stroke-dasharray="3.5 3.1" stroke-dashoffset="2.6"/>
<path d="M141.5 242.0 C149.4 244.5 172.9 252.0 188.6 256.9 C204.3 261.9 220.0 266.9 235.7 271.9 C251.5 276.9 267.2 281.8 282.9 286.8 C298.6 291.8 314.3 296.8 330.0 301.8 C345.7 306.7 361.4 311.7 377.1 316.7 C392.8 321.7 408.5 326.7 424.2 331.6 C439.9 336.6 455.7 341.6 471.4 346.6 C487.1 351.6 502.8 356.5 518.5 361.5 C534.2 366.5 549.9 371.5 565.6 376.5 C581.3 381.4 597.0 386.4 612.7 391.4 C628.4 396.4 644.2 401.4 659.9 406.3 C675.6 411.3 699.1 418.8 707.0 421.3" fill="none" stroke="#287c8e" stroke-width="2.0" stroke-opacity="0.7184694029574898" stroke-dasharray="3.2 2.0" stroke-dashoffset="3.2"/>
<path d="M141.5 242.0 C149.4 244.6 172.9 252.5 188.6 257.7 C204.3 262.9 220.0 268.2 235.7 273.4 C251.5 278.6 267.2 283.9 282.9 289.1 C298.6 294.3 314.3 299.6 330.0 304.8 C345.7 310.0 361.4 315.3 377.1 320.5 C392.8 325.7 408.5 331.0 424.2 336.2 C439.9 341.5 455.7 346.7 471.4 351.9 C487.1 357.2 502.8 362.4 518.5 367.6 C534.2 372.9 549.9 378.1 565.6 383.3 C581.3 388.6 597.0 393.8 612.7 399.0 C628.4 404.3 644.2 409.5 659.9 414.7 C675.6 420.0 699.1 427.8 707.0 430.4" fill="none" stroke="#2c728e" stroke-width="2.0" stroke-opacity="0.8903709930452668" stroke-dasharray="3.8 2.0" stroke-dashoffset="4.3"/>
<path d="M141.5 242.0 C149.4 244.8 172.9 253.1 188.6 258.6 C204.3 264.1 220.0 269.6 235.7 275.2 C251.5 280.7 267.2 286.2 282.9 291.7 C298.6 297.3 314.3 302.8 330.0 308.3 C345.7 313.8 361.4 319.4 377.1 324.9 C392.8 330.4 408.5 335.9 424.2 341.5 C439.9 347.0 455.7 352.5 471.4 358.0 C487.1 363.6 502.8 369.1 518.5 374.6 C534.2 380.1 549.9 385.7 565.6 391.2 C581.3 396.7 597.0 402.2 612.7 407.8 C628.4 413.3 644.2 418.8 659.9 424.3 C675.6 429.9 699.1 438.1 707.0 440.9" fill="none" stroke="#25848e" stroke-width="2.0" stroke-opacity="0.8231526356001363" stroke-dasharray="2.8 1.9" stroke-dashoffset="0.0"/>
<path d="M141.5 242.0 C149.4 244.9 172.9 253.6 188.6 259.4 C204.3 265.3 220.0 271.1 235.7 276.9 C251.5 282.7 267.2 288.5 282.9 294.3 C298.6 300.2 314.3 306.0 330.0 311.8 C345.7 317.6 361.4 323.4 377.1 329.2 C392.8 335.1 408.5 340.9 424.2 346.7 C439.9 352.5 455.7 358.3 471.4 364.1 C487.1 369.9 502.8 375.8 518.5 381.6 C534.2 387.4 549.9 393.2 565.6 399.0 C581.3 404.8 597.0 410.7 612.7 416.5 C628.4 422.3 644.2 428.1 659.9 433.9 C675.6 439.7 699.1 448.5 707.0 451.4" fill="none" stroke="#365c8d" stroke-width="1.9" stroke-opacity="0.6958242331838391" stroke-dasharray="3.4 2.6" stroke-dashoffset="0.9"/>
<path d="M141.5 242.0 C149.4 245.1 172.9 254.3 188.6 260.4 C204.3 266.6 220.0 272.7 235.7 278.9 C251.5 285.0 267.2 291.1 282.9 297.3 C298.6 303.4 314.3 309.6 330.0 315.7 C345.7 321.9 361.4 328.0 377.1 334.1 C392.8 340.3 408.5 346.4 424.2 352.6 C439.9 358.7 455.7 364.9 471.4 371.0 C487.1 377.1 502.8 383.3 518.5 389.4 C534.2 395.6 549.9 401.7 565.6 407.9 C581.3 414.0 597.0 420.1 612.7 426.3 C628.4 432.4 644.2 438.6 659.9 444.7 C675.6 450.9 699.1 460.1 707.0 463.1" fill="none" stroke="#287c8e" stroke-width="1.9" stroke-opacity="0.6612069426990215" stroke-dasharray="2.5 2.3" stroke-dashoffset="1.7"/>
<path d="M141.5 242.0 C149.4 245.3 172.9 255.0 188.6 261.5 C204.3 268.0 220.0 274.5 235.7 281.0 C251.5 287.5 267.2 294.1 282.9 300.6 C298.6 307.1 314.3 313.6 330.0 320.1 C345.7 326.6 361.4 333.1 377.1 339.6 C392.8 346.1 408.5 352.6 424.2 359.1 C439.9 365.6 455.7 372.1 471.4 378.6 C487.1 385.1 502.8 391.6 518.5 398.2 C534.2 404.7 549.9 411.2 565.6 417.7 C581.3 424.2 597.0 430.7 612.7 437.2 C628.4 443.7 644.2 450.2 659.9 456.7 C675.6 463.2 699.1 473.0 707.0 476.2" fill="none" stroke="#287d8e" stroke-width="2.0" stroke-opacity="0.7298850363300948" stroke-dasharray="2.4 1.7" stroke-dashoffset="3.3"/>
<path d="M141.5 242.0 C149.2 245.4 172.3 255.5 187.7 262.2 C203.1 268.9 218.5 275.7 233.8 282.4 C249.2 289.1 264.6 295.9 280.0 302.6 C295.4 309.3 310.8 316.0 326.2 322.8 C341.6 329.5 357.0 336.2 372.4 343.0 C387.8 349.7 403.1 356.4 418.5 363.2 C433.9 369.9 449.3 376.6 464.7 383.4 C480.1 390.1 495.5 396.8 510.9 403.6 C526.3 410.3 541.7 417.0 557.1 423.7 C572.4 430.5 587.8 437.2 603.2 443.9 C618.6 450.7 634.0 457.4 649.4 464.1 C664.8 470.9 687.9 481.0 695.6 484.3" fill="none" stroke="#2a788e" stroke-width="2.0" stroke-opacity="0.6976036964627989" stroke-dasharray="3.7 2.8" stroke-dashoffset="0.1"/>
<path d="M141.5 242.0 C148.7 245.4 170.3 255.5 184.7 262.2 C199.1 268.9 213.5 275.7 227.9 282.4 C242.3 289.1 256.7 295.9 271.1 302.6 C285.5 309.3 299.9 316.0 314.3 322.8 C328.7 329.5 343.1 336.2 357.5 343.0 C371.9 349.7 386.3 356.4 400.7 363.2 C415.1 369.9 429.5 376.6 443.9 383.4 C458.3 390.1 472.7 396.8 487.1 403.6 C501.5 410.3 515.9 417.0 530.3 423.7 C544.7 430.5 559.1 437.2 573.5 443.9 C587.9 450.7 602.3 457.4 616.7 464.1 C631.1 470.9 652.7 481.0 659.9 484.3" fill="none" stroke="#2c738e" stroke-width="2.0" stroke-opacity="0.8961149153784078" stroke-dasharray="3.6 2.0" stroke-dashoffset="1.1"/>
<path d="M141.5 242.0 C148.2 245.4 168.4 255.5 181.9 262.2 C195.4 268.9 208.8 275.7 222.3 282.4 C235.8 289.1 249.2 295.9 262.7 302.6 C276.2 309.3 289.6 316.0 303.1 322.8 C316.6 329.5 330.0 336.2 343.5 343.0 C357.0 349.7 370.4 356.4 383.9 363.2 C397.4 369.9 410.8 376.6 424.3 383.4 C437.8 390.1 451.2 396.8 464.7 403.6 C478.2 410.3 491.6 417.0 505.1 423.7 C518.6 430.5 532.0 437.2 545.5 443.9 C559.0 450.7 572.4 457.4 585.9 464.1 C599.4 470.9 619.6 481.0 626.3 484.3" fill="none" stroke="#2a778e" stroke-width="1.9" stroke-opacity="0.7296562415680882" stroke-dasharray="2.2 3.3" stroke-dashoffset="3.4"/>
<path d="M141.5 242.0 C147.7 245.4 166.5 255.5 179.0 262.2 C191.4 268.9 203.9 275.7 216.4 282.4 C228.9 289.1 241.4 295.9 253.9 302.6 C266.3 309.3 278.8 316.0 291.3 322.8 C303.8 329.5 316.3 336.2 328.8 343.0 C341.2 349.7 353.7 356.4 366.2 363.2 C378.7 369.9 391.2 376.6 403.7 383.4 C416.2 390.1 428.6 396.8 441.1 403.6 C453.6 410.3 466.1 417.0 478.6 423.7 C491.1 430.5 503.5 437.2 516.0 443.9 C528.5 450.7 541.0 457.4 553.5 464.1 C566.0 470.9 584.7 481.0 590.9 484.3" fill="none" stroke="#287d8e" stroke-width="1.9" stroke-opacity="0.5203921304613115" stroke-dasharray="3.0 1.7" stroke-dashoffset="0.8"/>
<path d="M141.5 242.0 C147.1 245.4 164.0 255.5 175.2 262.2 C186.4 268.9 197.7 275.7 208.9 282.4 C220.1 289.1 231.3 295.9 242.6 302.6 C253.8 309.3 265.0 316.0 276.3 322.8 C287.5 329.5 298.7 336.2 310.0 343.0 C321.2 349.7 332.4 356.4 343.7 363.2 C354.9 369.9 366.1 376.6 377.4 383.4 C388.6 390.1 399.8 396.8 411.0 403.6 C422.3 410.3 433.5 417.0 444.7 423.7 C456.0 430.5 467.2 437.2 478.4 443.9 C489.7 450.7 500.9 457.4 512.1 464.1 C523.4 470.9 540.2 481.0 545.8 484.3" fill="none" stroke="#2d708e" stroke-width="2.0" stroke-opacity="0.827734854814932" stroke-dasharray="3.2 2.8" stroke-dashoffset="1.8"/>
<path d="M141.5 242.0 C146.7 245.4 162.2 255.5 172.6 262.2 C182.9 268.9 193.3 275.7 203.6 282.4 C214.0 289.1 224.3 295.9 234.7 302.6 C245.0 309.3 255.4 316.0 265.7 322.8 C276.1 329.5 286.4 336.2 296.8 343.0 C307.1 349.7 317.5 356.4 327.8 363.2 C338.2 369.9 348.5 376.6 358.9 383.4 C369.2 390.1 379.6 396.8 389.9 403.6 C400.3 410.3 410.6 417.0 421.0 423.7 C431.4 430.5 441.7 437.2 452.1 443.9 C462.4 450.7 472.8 457.4 483.1 464.1 C493.5 470.9 509.0 481.0 514.2 484.3" fill="none" stroke="#21918c" stroke-width="2.3" stroke-opacity="0.7873645862233404" stroke-dasharray="3.2 2.0" stroke-dashoffset="4.4"/><path d="M141.5 242.0 C146.7 245.4 162.2 255.5 172.6 262.2 C182.9 268.9 193.3 275.7 203.6 282.4 C214.0 289.1 224.3 295.9 234.7 302.6 C245.0 309.3 255.4 316.0 265.7 322.8 C276.1 329.5 286.4 336.2 296.8 343.0 C307.1 349.7 317.5 356.4 327.8 363.2 C338.2 369.9 348.5 376.6 358.9 383.4 C369.2 390.1 379.6 396.8 389.9 403.6 C400.3 410.3 410.6 417.0 421.0 423.7 C431.4 430.5 441.7 437.2 452.1 443.9 C462.4 450.7 472.8 457.4 483.1 464.1 C493.5 470.9 509.0 481.0 514.2 484.3" fill="none" stroke="#26ad81" stroke-width="2.3" stroke-opacity="0.7873645862233404" stroke-dasharray="2 4.7" stroke-dashoffset="0.5"/>
<path d="M141.5 242.0 C146.2 245.4 160.5 255.5 169.9 262.2 C179.4 268.9 188.9 275.7 198.4 282.4 C207.8 289.1 217.3 295.9 226.8 302.6 C236.3 309.3 245.7 316.0 255.2 322.8 C264.7 329.5 274.2 336.2 283.6 343.0 C293.1 349.7 302.6 356.4 312.1 363.2 C321.5 369.9 331.0 376.6 340.5 383.4 C350.0 390.1 359.4 396.8 368.9 403.6 C378.4 410.3 387.9 417.0 397.3 423.7 C406.8 430.5 416.3 437.2 425.8 443.9 C435.2 450.7 444.7 457.4 454.2 464.1 C463.7 470.9 477.9 481.0 482.6 484.3" fill="none" stroke="#21918c" stroke-width="2.3" stroke-opacity="0.7219580256497045" stroke-dasharray="3.6 1.8" stroke-dashoffset="1.7"/><path d="M141.5 242.0 C146.2 245.4 160.5 255.5 169.9 262.2 C179.4 268.9 188.9 275.7 198.4 282.4 C207.8 289.1 217.3 295.9 226.8 302.6 C236.3 309.3 245.7 316.0 255.2 322.8 C264.7 329.5 274.2 336.2 283.6 343.0 C293.1 349.7 302.6 356.4 312.1 363.2 C321.5 369.9 331.0 376.6 340.5 383.4 C350.0 390.1 359.4 396.8 368.9 403.6 C378.4 410.3 387.9 417.0 397.3 423.7 C406.8 430.5 416.3 437.2 425.8 443.9 C435.2 450.7 444.7 457.4 454.2 464.1 C463.7 470.9 477.9 481.0 482.6 484.3" fill="none" stroke="#40bd72" stroke-width="2.3" stroke-opacity="0.7219580256497045" stroke-dasharray="2 5.3" stroke-dashoffset="1.9"/>
<path d="M141.5 242.0 C145.9 245.4 159.0 255.5 167.7 262.2 C176.4 268.9 185.2 275.7 193.9 282.4 C202.6 289.1 211.4 295.9 220.1 302.6 C228.9 309.3 237.6 316.0 246.3 322.8 C255.1 329.5 263.8 336.2 272.5 343.0 C281.3 349.7 290.0 356.4 298.7 363.2 C307.5 369.9 316.2 376.6 324.9 383.4 C333.7 390.1 342.4 396.8 351.1 403.6 C359.9 410.3 368.6 417.0 377.4 423.7 C386.1 430.5 394.8 437.2 403.6 443.9 C412.3 450.7 421.0 457.4 429.8 464.1 C438.5 470.9 451.6 481.0 456.0 484.3" fill="none" stroke="#2a768e" stroke-width="2.3" stroke-opacity="0.7671142218246307" stroke-dasharray="2.5 1.9" stroke-dashoffset="2.8"/><path d="M141.5 242.0 C145.9 245.4 159.0 255.5 167.7 262.2 C176.4 268.9 185.2 275.7 193.9 282.4 C202.6 289.1 211.4 295.9 220.1 302.6 C228.9 309.3 237.6 316.0 246.3 322.8 C255.1 329.5 263.8 336.2 272.5 343.0 C281.3 349.7 290.0 356.4 298.7 363.2 C307.5 369.9 316.2 376.6 324.9 383.4 C333.7 390.1 342.4 396.8 351.1 403.6 C359.9 410.3 368.6 417.0 377.4 423.7 C386.1 430.5 394.8 437.2 403.6 443.9 C412.3 450.7 421.0 457.4 429.8 464.1 C438.5 470.9 451.6 481.0 456.0 484.3" fill="none" stroke="#58c765" stroke-width="2.3" stroke-opacity="0.7671142218246307" stroke-dasharray="2 4.4" stroke-dashoffset="1.4"/>
<path d="M141.5 242.0 C145.5 245.4 157.4 255.5 165.4 262.2 C173.4 268.9 181.3 275.7 189.3 282.4 C197.3 289.1 205.3 295.9 213.2 302.6 C221.2 309.3 229.2 316.0 237.1 322.8 C245.1 329.5 253.1 336.2 261.0 343.0 C269.0 349.7 277.0 356.4 285.0 363.2 C292.9 369.9 300.9 376.6 308.9 383.4 C316.8 390.1 324.8 396.8 332.8 403.6 C340.7 410.3 348.7 417.0 356.7 423.7 C364.6 430.5 372.6 437.2 380.6 443.9 C388.6 450.7 396.5 457.4 404.5 464.1 C412.5 470.9 424.4 481.0 428.4 484.3" fill="none" stroke="#26828e" stroke-width="2.0" stroke-opacity="0.603714523346" stroke-dasharray="3.3 1.6" stroke-dashoffset="0.6"/>
<path d="M141.5 242.0 C145.1 245.4 155.9 255.5 163.2 262.2 C170.4 268.9 177.6 275.7 184.8 282.4 C192.0 289.1 199.2 295.9 206.5 302.6 C213.7 309.3 220.9 316.0 228.1 322.8 C235.3 329.5 242.6 336.2 249.8 343.0 C257.0 349.7 264.2 356.4 271.4 363.2 C278.6 369.9 285.9 376.6 293.1 383.4 C300.3 390.1 307.5 396.8 314.7 403.6 C322.0 410.3 329.2 417.0 336.4 423.7 C343.6 430.5 350.8 437.2 358.0 443.9 C365.3 450.7 372.5 457.4 379.7 464.1 C386.9 470.9 397.7 481.0 401.3 484.3" fill="none" stroke="#2f6b8e" stroke-width="2.0" stroke-opacity="0.6718900094602528" stroke-dasharray="4.0 2.1" stroke-dashoffset="0.6"/>
<path d="M141.5 242.0 C144.8 245.4 154.7 255.5 161.2 262.2 C167.8 268.9 174.4 275.7 181.0 282.4 C187.6 289.1 194.1 295.9 200.7 302.6 C207.3 309.3 213.9 316.0 220.5 322.8 C227.1 329.5 233.6 336.2 240.2 343.0 C246.8 349.7 253.4 356.4 260.0 363.2 C266.5 369.9 273.1 376.6 279.7 383.4 C286.3 390.1 292.9 396.8 299.4 403.6 C306.0 410.3 312.6 417.0 319.2 423.7 C325.8 430.5 332.4 437.2 338.9 443.9 C345.5 450.7 352.1 457.4 358.7 464.1 C365.3 470.9 375.1 481.0 378.4 484.3" fill="none" stroke="#228c8d" stroke-width="2.3" stroke-opacity="0.7724260855293529" stroke-dasharray="2.2 1.9" stroke-dashoffset="1.9"/><path d="M141.5 242.0 C144.8 245.4 154.7 255.5 161.2 262.2 C167.8 268.9 174.4 275.7 181.0 282.4 C187.6 289.1 194.1 295.9 200.7 302.6 C207.3 309.3 213.9 316.0 220.5 322.8 C227.1 329.5 233.6 336.2 240.2 343.0 C246.8 349.7 253.4 356.4 260.0 363.2 C266.5 369.9 273.1 376.6 279.7 383.4 C286.3 390.1 292.9 396.8 299.4 403.6 C306.0 410.3 312.6 417.0 319.2 423.7 C325.8 430.5 332.4 437.2 338.9 443.9 C345.5 450.7 352.1 457.4 358.7 464.1 C365.3 470.9 375.1 481.0 378.4 484.3" fill="none" stroke="#5ac864" stroke-width="2.3" stroke-opacity="0.7724260855293529" stroke-dasharray="2 5.7" stroke-dashoffset="1.5"/>
<path d="M141.5 242.0 C144.4 245.4 153.3 255.5 159.1 262.2 C165.0 268.9 170.9 275.7 176.8 282.4 C182.6 289.1 188.5 295.9 194.4 302.6 C200.3 309.3 206.1 316.0 212.0 322.8 C217.9 329.5 223.8 336.2 229.6 343.0 C235.5 349.7 241.4 356.4 247.3 363.2 C253.2 369.9 259.0 376.6 264.9 383.4 C270.8 390.1 276.7 396.8 282.5 403.6 C288.4 410.3 294.3 417.0 300.2 423.7 C306.0 430.5 311.9 437.2 317.8 443.9 C323.7 450.7 329.5 457.4 335.4 464.1 C341.3 470.9 350.1 481.0 353.1 484.3" fill="none" stroke="#2a768e" stroke-width="2.3" stroke-opacity="0.8431030287916803" stroke-dasharray="3.3 1.0" stroke-dashoffset="0.1"/><path d="M141.5 242.0 C144.4 245.4 153.3 255.5 159.1 262.2 C165.0 268.9 170.9 275.7 176.8 282.4 C182.6 289.1 188.5 295.9 194.4 302.6 C200.3 309.3 206.1 316.0 212.0 322.8 C217.9 329.5 223.8 336.2 229.6 343.0 C235.5 349.7 241.4 356.4 247.3 363.2 C253.2 369.9 259.0 376.6 264.9 383.4 C270.8 390.1 276.7 396.8 282.5 403.6 C288.4 410.3 294.3 417.0 300.2 423.7 C306.0 430.5 311.9 437.2 317.8 443.9 C323.7 450.7 329.5 457.4 335.4 464.1 C341.3 470.9 350.1 481.0 353.1 484.3" fill="none" stroke="#5cc863" stroke-width="2.3" stroke-opacity="0.8431030287916803" stroke-dasharray="2 3.9" stroke-dashoffset="3.0"/>
<path d="M141.5 242.0 C144.3 245.4 152.6 255.5 158.1 262.2 C163.6 268.9 169.2 275.7 174.7 282.4 C180.2 289.1 185.7 295.9 191.3 302.6 C196.8 309.3 202.3 316.0 207.9 322.8 C213.4 329.5 218.9 336.2 224.5 343.0 C230.0 349.7 235.5 356.4 241.0 363.2 C246.6 369.9 252.1 376.6 257.6 383.4 C263.2 390.1 268.7 396.8 274.2 403.6 C279.8 410.3 285.3 417.0 290.8 423.7 C296.3 430.5 301.9 437.2 307.4 443.9 C312.9 450.7 318.5 457.4 324.0 464.1 C329.5 470.9 337.8 481.0 340.6 484.3" fill="none" stroke="#2b758e" stroke-width="2.3" stroke-opacity="0.7939842583206783" stroke-dasharray="3.8 2.0" stroke-dashoffset="4.8"/><path d="M141.5 242.0 C144.3 245.4 152.6 255.5 158.1 262.2 C163.6 268.9 169.2 275.7 174.7 282.4 C180.2 289.1 185.7 295.9 191.3 302.6 C196.8 309.3 202.3 316.0 207.9 322.8 C213.4 329.5 218.9 336.2 224.5 343.0 C230.0 349.7 235.5 356.4 241.0 363.2 C246.6 369.9 252.1 376.6 257.6 383.4 C263.2 390.1 268.7 396.8 274.2 403.6 C279.8 410.3 285.3 417.0 290.8 423.7 C296.3 430.5 301.9 437.2 307.4 443.9 C312.9 450.7 318.5 457.4 324.0 464.1 C329.5 470.9 337.8 481.0 340.6 484.3" fill="none" stroke="#25ac82" stroke-width="2.3" stroke-opacity="0.7939842583206783" stroke-dasharray="2 3.6" stroke-dashoffset="3.1"/>
<path d="M141.5 242.0 C143.9 245.4 151.0 255.5 155.8 262.2 C160.6 268.9 165.3 275.7 170.1 282.4 C174.9 289.1 179.6 295.9 184.4 302.6 C189.2 309.3 194.0 316.0 198.7 322.8 C203.5 329.5 208.3 336.2 213.0 343.0 C217.8 349.7 222.6 356.4 227.3 363.2 C232.1 369.9 236.9 376.6 241.6 383.4 C246.4 390.1 251.2 396.8 255.9 403.6 C260.7 410.3 265.5 417.0 270.3 423.7 C275.0 430.5 279.8 437.2 284.6 443.9 C289.3 450.7 294.1 457.4 298.9 464.1 C303.6 470.9 310.8 481.0 313.2 484.3" fill="none" stroke="#29798e" stroke-width="2.0" stroke-opacity="0.8064569424143138" stroke-dasharray="3.3 1.9" stroke-dashoffset="2.7"/>
<path d="M141.5 242.0 C143.4 245.2 149.2 255.0 153.1 261.5 C156.9 268.0 160.8 274.5 164.6 281.1 C168.5 287.7 172.3 294.3 176.2 300.9 C180.0 307.5 183.9 314.2 187.7 320.8 C191.6 327.5 195.4 334.2 199.3 340.9 C203.1 347.7 207.0 354.4 210.8 361.2 C214.7 368.0 218.5 374.8 222.4 381.6 C226.2 388.5 230.1 395.3 233.9 402.2 C237.8 409.1 241.6 416.0 245.5 423.0 C249.3 429.9 253.2 436.9 257.1 443.9 C260.9 450.9 264.8 457.9 268.6 465.0 C272.5 472.0 278.2 482.6 280.2 486.2" fill="none" stroke="#21918c" stroke-width="2.3" stroke-opacity="0.95" /><path d="M141.5 242.0 C143.4 245.2 149.2 255.0 153.1 261.5 C156.9 268.0 160.8 274.5 164.6 281.1 C168.5 287.7 172.3 294.3 176.2 300.9 C180.0 307.5 183.9 314.2 187.7 320.8 C191.6 327.5 195.4 334.2 199.3 340.9 C203.1 347.7 207.0 354.4 210.8 361.2 C214.7 368.0 218.5 374.8 222.4 381.6 C226.2 388.5 230.1 395.3 233.9 402.2 C237.8 409.1 241.6 416.0 245.5 423.0 C249.3 429.9 253.2 436.9 257.1 443.9 C260.9 450.9 264.8 457.9 268.6 465.0 C272.5 472.0 278.2 482.6 280.2 486.2" fill="none" stroke="#d2e21b" stroke-width="2.3" stroke-dasharray="2 2.6" />
<path d="M141.5 242.0 C143.3 245.2 148.8 254.9 152.4 261.5 C156.0 268.0 159.7 274.5 163.3 281.1 C166.9 287.6 170.6 294.2 174.2 300.8 C177.8 307.5 181.4 314.1 185.1 320.8 C188.7 327.4 192.3 334.1 196.0 340.8 C199.6 347.5 203.2 354.3 206.9 361.0 C210.5 367.8 214.1 374.6 217.8 381.4 C221.4 388.2 225.0 395.1 228.7 401.9 C232.3 408.8 235.9 415.7 239.5 422.6 C243.2 429.5 246.8 436.5 250.4 443.4 C254.1 450.4 257.7 457.4 261.3 464.4 C265.0 471.4 270.4 482.0 272.2 485.5" fill="none" stroke="#21918c" stroke-width="2.3" stroke-opacity="0.95" /><path d="M141.5 242.0 C143.3 245.2 148.8 254.9 152.4 261.5 C156.0 268.0 159.7 274.5 163.3 281.1 C166.9 287.6 170.6 294.2 174.2 300.8 C177.8 307.5 181.4 314.1 185.1 320.8 C188.7 327.4 192.3 334.1 196.0 340.8 C199.6 347.5 203.2 354.3 206.9 361.0 C210.5 367.8 214.1 374.6 217.8 381.4 C221.4 388.2 225.0 395.1 228.7 401.9 C232.3 408.8 235.9 415.7 239.5 422.6 C243.2 429.5 246.8 436.5 250.4 443.4 C254.1 450.4 257.7 457.4 261.3 464.4 C265.0 471.4 270.4 482.0 272.2 485.5" fill="none" stroke="#d2e21b" stroke-width="2.3" stroke-dasharray="2 2.6" />
<path d="M141.5 242.0 C143.1 245.2 147.8 254.9 150.9 261.5 C154.0 268.0 157.1 274.5 160.3 281.0 C163.4 287.6 166.5 294.2 169.6 300.7 C172.8 307.3 175.9 314.0 179.0 320.6 C182.2 327.2 185.3 333.9 188.4 340.6 C191.5 347.2 194.7 353.9 197.8 360.7 C200.9 367.4 204.0 374.1 207.2 380.9 C210.3 387.7 213.4 394.4 216.6 401.3 C219.7 408.1 222.8 414.9 225.9 421.7 C229.1 428.6 232.2 435.5 235.3 442.4 C238.4 449.3 241.6 456.2 244.7 463.1 C247.8 470.1 252.5 480.5 254.1 484.0" fill="none" stroke="#21918c" stroke-width="2.3" stroke-opacity="0.95" /><path d="M141.5 242.0 C143.1 245.2 147.8 254.9 150.9 261.5 C154.0 268.0 157.1 274.5 160.3 281.0 C163.4 287.6 166.5 294.2 169.6 300.7 C172.8 307.3 175.9 314.0 179.0 320.6 C182.2 327.2 185.3 333.9 188.4 340.6 C191.5 347.2 194.7 353.9 197.8 360.7 C200.9 367.4 204.0 374.1 207.2 380.9 C210.3 387.7 213.4 394.4 216.6 401.3 C219.7 408.1 222.8 414.9 225.9 421.7 C229.1 428.6 232.2 435.5 235.3 442.4 C238.4 449.3 241.6 456.2 244.7 463.1 C247.8 470.1 252.5 480.5 254.1 484.0" fill="none" stroke="#d2e21b" stroke-width="2.3" stroke-dasharray="2 2.6" />
<path d="M141.5 80.2 C144.7 81.2 154.3 83.5 160.7 85.7 C167.1 87.9 173.5 90.5 179.9 93.5 C186.3 96.5 192.7 99.8 199.1 103.4 C205.5 107.0 211.9 110.9 218.3 115.0 C224.7 119.0 231.1 123.4 237.5 127.9 C243.9 132.4 250.3 137.1 256.7 141.9 C263.1 146.8 269.5 151.8 275.9 156.9 C282.3 161.9 288.7 167.1 295.1 172.4 C301.5 177.7 307.9 183.0 314.3 188.4 C320.7 193.8 327.1 199.3 333.5 204.8 C339.9 210.3 346.3 215.9 352.7 221.4 C359.1 227.0 365.5 232.6 371.9 238.2 C378.3 243.9 384.7 249.5 391.1 255.2 C397.5 260.9 403.9 266.6 410.3 272.4 C416.7 278.1 423.1 283.9 429.5 289.8 C435.9 295.6 442.3 301.5 448.7 307.5 C455.1 313.4 461.5 319.5 467.9 325.6 C474.3 331.7 480.7 338.0 487.1 344.3 C493.5 350.7 499.9 357.2 506.3 363.8 C512.7 370.5 519.1 377.3 525.5 384.4 C531.9 391.4 538.3 398.6 544.7 406.2 C551.1 413.7 557.5 421.4 563.9 429.6 C570.3 437.7 576.7 446.1 583.1 454.9 C589.5 463.7 599.1 477.9 602.3 482.5" fill="none" stroke="#287c8e" stroke-width="2.3" stroke-opacity="0.792196335343754" stroke-dasharray="2.2 1.3" stroke-dashoffset="4.9"/><path d="M141.5 80.2 C144.7 81.2 154.3 83.5 160.7 85.7 C167.1 87.9 173.5 90.5 179.9 93.5 C186.3 96.5 192.7 99.8 199.1 103.4 C205.5 107.0 211.9 110.9 218.3 115.0 C224.7 119.0 231.1 123.4 237.5 127.9 C243.9 132.4 250.3 137.1 256.7 141.9 C263.1 146.8 269.5 151.8 275.9 156.9 C282.3 161.9 288.7 167.1 295.1 172.4 C301.5 177.7 307.9 183.0 314.3 188.4 C320.7 193.8 327.1 199.3 333.5 204.8 C339.9 210.3 346.3 215.9 352.7 221.4 C359.1 227.0 365.5 232.6 371.9 238.2 C378.3 243.9 384.7 249.5 391.1 255.2 C397.5 260.9 403.9 266.6 410.3 272.4 C416.7 278.1 423.1 283.9 429.5 289.8 C435.9 295.6 442.3 301.5 448.7 307.5 C455.1 313.4 461.5 319.5 467.9 325.6 C474.3 331.7 480.7 338.0 487.1 344.3 C493.5 350.7 499.9 357.2 506.3 363.8 C512.7 370.5 519.1 377.3 525.5 384.4 C531.9 391.4 538.3 398.6 544.7 406.2 C551.1 413.7 557.5 421.4 563.9 429.6 C570.3 437.7 576.7 446.1 583.1 454.9 C589.5 463.7 599.1 477.9 602.3 482.5" fill="none" stroke="#35b779" stroke-width="2.3" stroke-opacity="0.792196335343754" stroke-dasharray="2 5.0" stroke-dashoffset="3.2"/>
<path d="M183.4 85.4 C186.3 85.3 195.0 84.5 200.8 84.8 C206.7 85.1 212.5 86.0 218.3 87.2 C224.1 88.5 229.9 90.3 235.7 92.4 C241.6 94.6 247.4 97.2 253.2 100.1 C259.0 103.0 264.8 106.3 270.7 109.8 C276.5 113.4 282.3 117.3 288.1 121.5 C293.9 125.6 299.7 130.1 305.6 134.7 C311.4 139.3 317.2 144.2 323.0 149.3 C328.8 154.4 334.6 159.7 340.5 165.1 C346.3 170.6 352.1 176.2 357.9 182.0 C363.7 187.7 369.6 193.7 375.4 199.7 C381.2 205.7 387.0 211.9 392.8 218.2 C398.6 224.5 404.5 230.9 410.3 237.4 C416.1 243.9 421.9 250.5 427.7 257.2 C433.5 263.9 439.4 270.7 445.2 277.5 C451.0 284.4 456.8 291.4 462.6 298.5 C468.5 305.6 474.3 312.7 480.1 320.0 C485.9 327.3 491.7 334.7 497.5 342.2 C503.4 349.7 509.2 357.3 515.0 365.0 C520.8 372.8 526.6 380.6 532.5 388.6 C538.3 396.7 544.1 404.8 549.9 413.2 C555.7 421.5 561.5 430.0 567.4 438.8 C573.2 447.5 579.0 456.4 584.8 465.6 C590.6 474.7 599.4 489.1 602.3 493.8" fill="none" stroke="#26818e" stroke-width="2.3" stroke-opacity="0.9822203566746999" stroke-dasharray="2.6 1.3" stroke-dashoffset="1.6"/><path d="M183.4 85.4 C186.3 85.3 195.0 84.5 200.8 84.8 C206.7 85.1 212.5 86.0 218.3 87.2 C224.1 88.5 229.9 90.3 235.7 92.4 C241.6 94.6 247.4 97.2 253.2 100.1 C259.0 103.0 264.8 106.3 270.7 109.8 C276.5 113.4 282.3 117.3 288.1 121.5 C293.9 125.6 299.7 130.1 305.6 134.7 C311.4 139.3 317.2 144.2 323.0 149.3 C328.8 154.4 334.6 159.7 340.5 165.1 C346.3 170.6 352.1 176.2 357.9 182.0 C363.7 187.7 369.6 193.7 375.4 199.7 C381.2 205.7 387.0 211.9 392.8 218.2 C398.6 224.5 404.5 230.9 410.3 237.4 C416.1 243.9 421.9 250.5 427.7 257.2 C433.5 263.9 439.4 270.7 445.2 277.5 C451.0 284.4 456.8 291.4 462.6 298.5 C468.5 305.6 474.3 312.7 480.1 320.0 C485.9 327.3 491.7 334.7 497.5 342.2 C503.4 349.7 509.2 357.3 515.0 365.0 C520.8 372.8 526.6 380.6 532.5 388.6 C538.3 396.7 544.1 404.8 549.9 413.2 C555.7 421.5 561.5 430.0 567.4 438.8 C573.2 447.5 579.0 456.4 584.8 465.6 C590.6 474.7 599.4 489.1 602.3 493.8" fill="none" stroke="#52c569" stroke-width="2.3" stroke-opacity="0.9822203566746999" stroke-dasharray="2 5.7" stroke-dashoffset="1.5"/>
<path d="M259.6 98.2 C262.8 98.3 272.2 98.6 278.6 99.1 C284.9 99.7 291.2 100.5 297.5 101.5 C303.8 102.5 310.1 103.7 316.4 105.2 C322.7 106.6 329.0 108.3 335.3 110.2 C341.7 112.1 348.0 114.2 354.3 116.4 C360.6 118.7 366.9 121.2 373.2 123.9 C379.5 126.5 385.8 129.4 392.1 132.4 C398.4 135.5 404.8 138.7 411.1 142.0 C417.4 145.4 423.7 149.0 430.0 152.7 C436.3 156.4 442.6 160.2 448.9 164.2 C455.2 168.2 461.6 172.4 467.9 176.7 C474.2 181.0 480.5 185.4 486.8 190.0 C493.1 194.6 499.4 199.3 505.7 204.1 C512.0 208.9 518.3 213.8 524.7 218.8 C531.0 223.9 537.3 229.0 543.6 234.3 C549.9 239.5 556.2 244.9 562.5 250.3 C568.8 255.7 575.1 261.3 581.4 266.9 C587.8 272.5 594.1 278.2 600.4 283.9 C606.7 289.7 613.0 295.5 619.3 301.4 C625.6 307.3 631.9 313.2 638.2 319.2 C644.5 325.2 650.9 331.3 657.2 337.4 C663.5 343.5 669.8 349.6 676.1 355.8 C682.4 361.9 688.7 368.1 695.0 374.3 C701.3 380.6 710.8 389.9 714.0 393.0" fill="none" stroke="#25858e" stroke-width="2.3" stroke-opacity="0.8003000216952285" stroke-dasharray="3.2 1.6" stroke-dashoffset="1.2"/><path d="M259.6 98.2 C262.8 98.3 272.2 98.6 278.6 99.1 C284.9 99.7 291.2 100.5 297.5 101.5 C303.8 102.5 310.1 103.7 316.4 105.2 C322.7 106.6 329.0 108.3 335.3 110.2 C341.7 112.1 348.0 114.2 354.3 116.4 C360.6 118.7 366.9 121.2 373.2 123.9 C379.5 126.5 385.8 129.4 392.1 132.4 C398.4 135.5 404.8 138.7 411.1 142.0 C417.4 145.4 423.7 149.0 430.0 152.7 C436.3 156.4 442.6 160.2 448.9 164.2 C455.2 168.2 461.6 172.4 467.9 176.7 C474.2 181.0 480.5 185.4 486.8 190.0 C493.1 194.6 499.4 199.3 505.7 204.1 C512.0 208.9 518.3 213.8 524.7 218.8 C531.0 223.9 537.3 229.0 543.6 234.3 C549.9 239.5 556.2 244.9 562.5 250.3 C568.8 255.7 575.1 261.3 581.4 266.9 C587.8 272.5 594.1 278.2 600.4 283.9 C606.7 289.7 613.0 295.5 619.3 301.4 C625.6 307.3 631.9 313.2 638.2 319.2 C644.5 325.2 650.9 331.3 657.2 337.4 C663.5 343.5 669.8 349.6 676.1 355.8 C682.4 361.9 688.7 368.1 695.0 374.3 C701.3 380.6 710.8 389.9 714.0 393.0" fill="none" stroke="#23a983" stroke-width="2.3" stroke-opacity="0.8003000216952285" stroke-dasharray="2 3.7" stroke-dashoffset="0.4"/>
<path d="M268.0 102.1 C271.2 102.2 280.6 102.5 286.9 103.0 C293.2 103.6 299.6 104.3 305.9 105.4 C312.2 106.4 318.5 107.6 324.8 109.1 C331.1 110.5 337.4 112.2 343.7 114.1 C350.0 116.0 356.3 118.0 362.7 120.3 C369.0 122.6 375.3 125.1 381.6 127.8 C387.9 130.4 394.2 133.3 400.5 136.3 C406.8 139.3 413.1 142.6 419.4 145.9 C425.8 149.3 432.1 152.9 438.4 156.6 C444.7 160.2 451.0 164.1 457.3 168.1 C463.6 172.1 469.9 176.3 476.2 180.6 C482.5 184.9 488.9 189.3 495.2 193.9 C501.5 198.4 507.8 203.1 514.1 207.9 C520.4 212.7 526.7 217.7 533.0 222.7 C539.3 227.8 545.7 232.9 552.0 238.1 C558.3 243.4 564.6 248.7 570.9 254.2 C577.2 259.6 583.5 265.1 589.8 270.8 C596.1 276.4 602.4 282.0 608.8 287.8 C615.1 293.6 621.4 299.4 627.7 305.3 C634.0 311.2 640.3 317.1 646.6 323.1 C652.9 329.1 659.2 335.2 665.5 341.3 C671.9 347.3 678.2 353.5 684.5 359.6 C690.8 365.8 697.1 372.0 703.4 378.2 C709.7 384.4 719.2 393.8 722.3 396.9" fill="none" stroke="#2b758e" stroke-width="2.3" stroke-opacity="0.8653614264746518" stroke-dasharray="2.2 1.6" stroke-dashoffset="1.5"/><path d="M268.0 102.1 C271.2 102.2 280.6 102.5 286.9 103.0 C293.2 103.6 299.6 104.3 305.9 105.4 C312.2 106.4 318.5 107.6 324.8 109.1 C331.1 110.5 337.4 112.2 343.7 114.1 C350.0 116.0 356.3 118.0 362.7 120.3 C369.0 122.6 375.3 125.1 381.6 127.8 C387.9 130.4 394.2 133.3 400.5 136.3 C406.8 139.3 413.1 142.6 419.4 145.9 C425.8 149.3 432.1 152.9 438.4 156.6 C444.7 160.2 451.0 164.1 457.3 168.1 C463.6 172.1 469.9 176.3 476.2 180.6 C482.5 184.9 488.9 189.3 495.2 193.9 C501.5 198.4 507.8 203.1 514.1 207.9 C520.4 212.7 526.7 217.7 533.0 222.7 C539.3 227.8 545.7 232.9 552.0 238.1 C558.3 243.4 564.6 248.7 570.9 254.2 C577.2 259.6 583.5 265.1 589.8 270.8 C596.1 276.4 602.4 282.0 608.8 287.8 C615.1 293.6 621.4 299.4 627.7 305.3 C634.0 311.2 640.3 317.1 646.6 323.1 C652.9 329.1 659.2 335.2 665.5 341.3 C671.9 347.3 678.2 353.5 684.5 359.6 C690.8 365.8 697.1 372.0 703.4 378.2 C709.7 384.4 719.2 393.8 722.3 396.9" fill="none" stroke="#4ec36b" stroke-width="2.3" stroke-opacity="0.8653614264746518" stroke-dasharray="2 4.5" stroke-dashoffset="4.3"/>
<path d="M300.0 103.2 C302.8 103.3 311.5 103.1 317.2 103.8 C323.0 104.4 328.7 105.6 334.5 107.1 C340.2 108.7 346.0 110.7 351.7 113.0 C357.5 115.4 363.2 118.2 369.0 121.2 C374.7 124.3 380.5 127.8 386.2 131.6 C392.0 135.3 397.7 139.5 403.5 143.8 C409.2 148.2 415.0 152.9 420.7 157.8 C426.5 162.7 432.2 167.9 438.0 173.2 C443.7 178.6 449.5 184.2 455.2 189.9 C461.0 195.7 466.7 201.7 472.5 207.8 C478.2 213.8 484.0 220.1 489.7 226.4 C495.5 232.8 501.2 239.2 507.0 245.8 C512.7 252.3 518.5 258.9 524.2 265.5 C530.0 272.2 535.7 278.9 541.5 285.5 C547.2 292.2 553.0 298.9 558.7 305.6 C564.5 312.3 570.2 318.9 576.0 325.5 C581.7 332.0 587.5 338.6 593.2 345.0 C599.0 351.4 604.7 357.7 610.5 363.8 C616.2 370.0 622.0 376.1 627.7 381.9 C633.5 387.8 639.2 393.5 645.0 399.0 C650.7 404.5 656.5 409.8 662.2 414.9 C668.0 419.9 673.7 424.8 679.5 429.3 C685.2 433.8 691.0 438.1 696.7 442.1 C702.5 446.0 711.1 451.2 714.0 453.0" fill="none" stroke="#25848e" stroke-width="2.3" stroke-opacity="0.7462538788488532" stroke-dasharray="3.6 1.1" stroke-dashoffset="4.7"/><path d="M300.0 103.2 C302.8 103.3 311.5 103.1 317.2 103.8 C323.0 104.4 328.7 105.6 334.5 107.1 C340.2 108.7 346.0 110.7 351.7 113.0 C357.5 115.4 363.2 118.2 369.0 121.2 C374.7 124.3 380.5 127.8 386.2 131.6 C392.0 135.3 397.7 139.5 403.5 143.8 C409.2 148.2 415.0 152.9 420.7 157.8 C426.5 162.7 432.2 167.9 438.0 173.2 C443.7 178.6 449.5 184.2 455.2 189.9 C461.0 195.7 466.7 201.7 472.5 207.8 C478.2 213.8 484.0 220.1 489.7 226.4 C495.5 232.8 501.2 239.2 507.0 245.8 C512.7 252.3 518.5 258.9 524.2 265.5 C530.0 272.2 535.7 278.9 541.5 285.5 C547.2 292.2 553.0 298.9 558.7 305.6 C564.5 312.3 570.2 318.9 576.0 325.5 C581.7 332.0 587.5 338.6 593.2 345.0 C599.0 351.4 604.7 357.7 610.5 363.8 C616.2 370.0 622.0 376.1 627.7 381.9 C633.5 387.8 639.2 393.5 645.0 399.0 C650.7 404.5 656.5 409.8 662.2 414.9 C668.0 419.9 673.7 424.8 679.5 429.3 C685.2 433.8 691.0 438.1 696.7 442.1 C702.5 446.0 711.1 451.2 714.0 453.0" fill="none" stroke="#28ae80" stroke-width="2.3" stroke-opacity="0.7462538788488532" stroke-dasharray="2 5.3" stroke-dashoffset="4.9"/>
<path d="M449.9 115.2 C451.8 115.1 457.3 115.0 460.9 115.1 C464.6 115.2 468.3 115.5 471.9 115.9 C475.6 116.3 479.3 116.8 482.9 117.5 C486.6 118.1 490.3 118.9 493.9 119.8 C497.6 120.7 501.3 121.8 504.9 122.9 C508.6 124.1 512.3 125.4 515.9 126.8 C519.6 128.2 523.3 129.7 526.9 131.4 C530.6 133.0 534.3 134.8 537.9 136.7 C541.6 138.5 545.3 140.5 548.9 142.6 C552.6 144.7 556.3 147.0 559.9 149.3 C563.6 151.6 567.3 154.0 570.9 156.6 C574.6 159.1 578.3 161.8 581.9 164.5 C585.6 167.3 589.3 170.1 592.9 173.1 C596.6 176.0 600.3 179.1 603.9 182.2 C607.6 185.4 611.3 188.6 615.0 191.9 C618.6 195.3 622.3 198.7 626.0 202.2 C629.6 205.7 633.3 209.4 637.0 213.1 C640.6 216.8 644.3 220.5 648.0 224.4 C651.6 228.3 655.3 232.2 659.0 236.3 C662.6 240.3 666.3 244.4 670.0 248.6 C673.6 252.8 677.3 257.1 681.0 261.4 C684.6 265.8 688.3 270.2 692.0 274.7 C695.6 279.2 699.3 283.7 703.0 288.4 C706.6 293.0 712.1 300.1 714.0 302.5" fill="none" stroke="#277e8e" stroke-width="2.3" stroke-opacity="0.9464650434230543" stroke-dasharray="2.2 1.5" stroke-dashoffset="4.6"/><path d="M449.9 115.2 C451.8 115.1 457.3 115.0 460.9 115.1 C464.6 115.2 468.3 115.5 471.9 115.9 C475.6 116.3 479.3 116.8 482.9 117.5 C486.6 118.1 490.3 118.9 493.9 119.8 C497.6 120.7 501.3 121.8 504.9 122.9 C508.6 124.1 512.3 125.4 515.9 126.8 C519.6 128.2 523.3 129.7 526.9 131.4 C530.6 133.0 534.3 134.8 537.9 136.7 C541.6 138.5 545.3 140.5 548.9 142.6 C552.6 144.7 556.3 147.0 559.9 149.3 C563.6 151.6 567.3 154.0 570.9 156.6 C574.6 159.1 578.3 161.8 581.9 164.5 C585.6 167.3 589.3 170.1 592.9 173.1 C596.6 176.0 600.3 179.1 603.9 182.2 C607.6 185.4 611.3 188.6 615.0 191.9 C618.6 195.3 622.3 198.7 626.0 202.2 C629.6 205.7 633.3 209.4 637.0 213.1 C640.6 216.8 644.3 220.5 648.0 224.4 C651.6 228.3 655.3 232.2 659.0 236.3 C662.6 240.3 666.3 244.4 670.0 248.6 C673.6 252.8 677.3 257.1 681.0 261.4 C684.6 265.8 688.3 270.2 692.0 274.7 C695.6 279.2 699.3 283.7 703.0 288.4 C706.6 293.0 712.1 300.1 714.0 302.5" fill="none" stroke="#2db27d" stroke-width="2.3" stroke-opacity="0.9464650434230543" stroke-dasharray="2 5.7" stroke-dashoffset="0.7"/>
<path d="M463.9 115.2 C465.7 115.1 471.2 115.0 474.9 115.1 C478.6 115.2 482.2 115.5 485.9 115.9 C489.6 116.3 493.2 116.8 496.9 117.5 C500.6 118.1 504.2 118.9 507.9 119.8 C511.6 120.7 515.2 121.8 518.9 122.9 C522.6 124.1 526.2 125.4 529.9 126.8 C533.6 128.2 537.2 129.7 540.9 131.4 C544.6 133.0 548.2 134.8 551.9 136.7 C555.6 138.5 559.2 140.5 562.9 142.6 C566.6 144.7 570.2 147.0 573.9 149.3 C577.6 151.6 581.2 154.0 584.9 156.6 C588.6 159.1 592.2 161.8 595.9 164.5 C599.6 167.3 603.2 170.1 606.9 173.1 C610.6 176.0 614.2 179.1 617.9 182.2 C621.6 185.4 625.2 188.6 628.9 191.9 C632.6 195.3 636.2 198.7 639.9 202.2 C643.6 205.7 647.2 209.4 650.9 213.1 C654.6 216.8 658.3 220.5 661.9 224.4 C665.6 228.3 669.3 232.2 672.9 236.3 C676.6 240.3 680.3 244.4 683.9 248.6 C687.6 252.8 691.3 257.1 694.9 261.4 C698.6 265.8 702.3 270.2 705.9 274.7 C709.6 279.2 713.3 283.7 716.9 288.4 C720.6 293.0 726.1 300.1 727.9 302.5" fill="none" stroke="#25848e" stroke-width="2.0" stroke-opacity="0.6095279837692009" stroke-dasharray="2.6 2.9" stroke-dashoffset="4.0"/>
<line x1="140.2" x2="702.0" y1="78.2" y2="78.2" stroke="#d80018" stroke-width="3.8" stroke-dasharray="11.6 5.2"/>
<line x1="140.2" x2="702.0" y1="404.0" y2="404.0" stroke="#d80018" stroke-width="3.8" stroke-dasharray="11.6 5.2"/>
</g>
<rect x="141.5" y="14.7" width="558.5" height="454.5" fill="none" stroke="#000" stroke-width="1.6"/>
<line x1="134.0" x2="141.5" y1="48.14" y2="48.14" stroke="#000" stroke-width="1.6"/>
<text x="126.0" y="59.3" text-anchor="end" style="font-family:'DejaVu Sans',sans-serif;font-size:27.8px">0.6</text>
<line x1="134.0" x2="141.5" y1="112.76" y2="112.76" stroke="#000" stroke-width="1.6"/>
<text x="126.0" y="124.0" text-anchor="end" style="font-family:'DejaVu Sans',sans-serif;font-size:27.8px">0.4</text>
<line x1="134.0" x2="141.5" y1="177.38" y2="177.38" stroke="#000" stroke-width="1.6"/>
<text x="126.0" y="188.6" text-anchor="end" style="font-family:'DejaVu Sans',sans-serif;font-size:27.8px">0.2</text>
<line x1="134.0" x2="141.5" y1="242.00" y2="242.00" stroke="#000" stroke-width="1.6"/>
<text x="126.0" y="253.2" text-anchor="end" style="font-family:'DejaVu Sans',sans-serif;font-size:27.8px">0.0</text>
<line x1="134.0" x2="141.5" y1="306.62" y2="306.62" stroke="#000" stroke-width="1.6"/>
<text x="126.0" y="317.8" text-anchor="end" style="font-family:'DejaVu Sans',sans-serif;font-size:27.8px">−0.2</text>
<line x1="134.0" x2="141.5" y1="371.24" y2="371.24" stroke="#000" stroke-width="1.6"/>
<text x="126.0" y="382.4" text-anchor="end" style="font-family:'DejaVu Sans',sans-serif;font-size:27.8px">−0.4</text>
<line x1="134.0" x2="141.5" y1="435.86" y2="435.86" stroke="#000" stroke-width="1.6"/>
<text x="126.0" y="447.1" text-anchor="end" style="font-family:'DejaVu Sans',sans-serif;font-size:27.8px">−0.6</text>
<line x1="141.50" x2="141.50" y1="469.2" y2="477.7" stroke="#000" stroke-width="1.6"/>
<text x="142.50" y="507.7" text-anchor="middle" style="font-family:'DejaVu Sans',sans-serif;font-size:27.8px">0</text>
<line x1="281.12" x2="281.12" y1="469.2" y2="477.7" stroke="#000" stroke-width="1.6"/>
<text x="282.12" y="507.7" text-anchor="middle" style="font-family:'DejaVu Sans',sans-serif;font-size:27.8px">1</text>
<line x1="420.75" x2="420.75" y1="469.2" y2="477.7" stroke="#000" stroke-width="1.6"/>
<text x="421.75" y="507.7" text-anchor="middle" style="font-family:'DejaVu Sans',sans-serif;font-size:27.8px">2</text>
<line x1="560.38" x2="560.38" y1="469.2" y2="477.7" stroke="#000" stroke-width="1.6"/>
<text x="561.38" y="507.7" text-anchor="middle" style="font-family:'DejaVu Sans',sans-serif;font-size:27.8px">3</text>
<line x1="700.00" x2="700.00" y1="469.2" y2="477.7" stroke="#000" stroke-width="1.6"/>
<text x="701.00" y="507.7" text-anchor="middle" style="font-family:'DejaVu Sans',sans-serif;font-size:27.8px">4</text>
<text x="419.2" y="544.8" text-anchor="middle" style="font-family:'DejaVu Sans',sans-serif;font-size:29.2px">V/t</text>
<text transform="translate(38.1,244.9) rotate(-90)" text-anchor="middle" style="font-family:'DejaVu Sans',sans-serif;font-size:29.2px">energy [t]</text>
<rect x="735.5" y="14.7" width="23.1" height="454.5" fill="url(#cba)" stroke="#000" stroke-width="1.6"/>
<line x1="758.6" x2="767.1" y1="465.00" y2="465.00" stroke="#000" stroke-width="1.6"/>
<text x="773.6" y="478.4" style="font-family:'DejaVu Sans',sans-serif;font-size:27.8px">10<tspan dx="0.7" dy="-10.3" style="font-size:20.5px">−</tspan><tspan dx="2" style="font-size:20.5px">3</tspan></text>
<line x1="758.6" x2="763.4" y1="437.70" y2="437.70" stroke="#000" stroke-width="1.2"/>
<line x1="758.6" x2="763.4" y1="421.73" y2="421.73" stroke="#000" stroke-width="1.2"/>
<line x1="758.6" x2="763.4" y1="410.39" y2="410.39" stroke="#000" stroke-width="1.2"/>
<line x1="758.6" x2="763.4" y1="401.60" y2="401.60" stroke="#000" stroke-width="1.2"/>
<line x1="758.6" x2="763.4" y1="394.42" y2="394.42" stroke="#000" stroke-width="1.2"/>
<line x1="758.6" x2="763.4" y1="388.35" y2="388.35" stroke="#000" stroke-width="1.2"/>
<line x1="758.6" x2="763.4" y1="383.09" y2="383.09" stroke="#000" stroke-width="1.2"/>
<line x1="758.6" x2="763.4" y1="378.45" y2="378.45" stroke="#000" stroke-width="1.2"/>
<line x1="758.6" x2="767.1" y1="374.30" y2="374.30" stroke="#000" stroke-width="1.6"/>
<text x="773.6" y="387.7" style="font-family:'DejaVu Sans',sans-serif;font-size:27.8px">10<tspan dx="0.7" dy="-10.3" style="font-size:20.5px">−</tspan><tspan dx="2" style="font-size:20.5px">2</tspan></text>
<line x1="758.6" x2="763.4" y1="347.00" y2="347.00" stroke="#000" stroke-width="1.2"/>
<line x1="758.6" x2="763.4" y1="331.03" y2="331.03" stroke="#000" stroke-width="1.2"/>
<line x1="758.6" x2="763.4" y1="319.69" y2="319.69" stroke="#000" stroke-width="1.2"/>
<line x1="758.6" x2="763.4" y1="310.90" y2="310.90" stroke="#000" stroke-width="1.2"/>
<line x1="758.6" x2="763.4" y1="303.72" y2="303.72" stroke="#000" stroke-width="1.2"/>
<line x1="758.6" x2="763.4" y1="297.65" y2="297.65" stroke="#000" stroke-width="1.2"/>
<line x1="758.6" x2="763.4" y1="292.39" y2="292.39" stroke="#000" stroke-width="1.2"/>
<line x1="758.6" x2="763.4" y1="287.75" y2="287.75" stroke="#000" stroke-width="1.2"/>
<line x1="758.6" x2="767.1" y1="283.60" y2="283.60" stroke="#000" stroke-width="1.6"/>
<text x="773.6" y="297.0" style="font-family:'DejaVu Sans',sans-serif;font-size:27.8px">10<tspan dx="0.7" dy="-10.3" style="font-size:20.5px">−</tspan><tspan dx="2" style="font-size:20.5px">1</tspan></text>
<line x1="758.6" x2="763.4" y1="256.30" y2="256.30" stroke="#000" stroke-width="1.2"/>
<line x1="758.6" x2="763.4" y1="240.33" y2="240.33" stroke="#000" stroke-width="1.2"/>
<line x1="758.6" x2="763.4" y1="228.99" y2="228.99" stroke="#000" stroke-width="1.2"/>
<line x1="758.6" x2="763.4" y1="220.20" y2="220.20" stroke="#000" stroke-width="1.2"/>
<line x1="758.6" x2="763.4" y1="213.02" y2="213.02" stroke="#000" stroke-width="1.2"/>
<line x1="758.6" x2="763.4" y1="206.95" y2="206.95" stroke="#000" stroke-width="1.2"/>
<line x1="758.6" x2="763.4" y1="201.69" y2="201.69" stroke="#000" stroke-width="1.2"/>
<line x1="758.6" x2="763.4" y1="197.05" y2="197.05" stroke="#000" stroke-width="1.2"/>
<line x1="758.6" x2="767.1" y1="192.90" y2="192.90" stroke="#000" stroke-width="1.6"/>
<text x="773.6" y="206.3" style="font-family:'DejaVu Sans',sans-serif;font-size:27.8px">10<tspan dx="0.8" dy="-10.3" style="font-size:20.5px">0</tspan></text>
<line x1="758.6" x2="763.4" y1="165.60" y2="165.60" stroke="#000" stroke-width="1.2"/>
<line x1="758.6" x2="763.4" y1="149.63" y2="149.63" stroke="#000" stroke-width="1.2"/>
<line x1="758.6" x2="763.4" y1="138.29" y2="138.29" stroke="#000" stroke-width="1.2"/>
<line x1="758.6" x2="763.4" y1="129.50" y2="129.50" stroke="#000" stroke-width="1.2"/>
<line x1="758.6" x2="763.4" y1="122.32" y2="122.32" stroke="#000" stroke-width="1.2"/>
<line x1="758.6" x2="763.4" y1="116.25" y2="116.25" stroke="#000" stroke-width="1.2"/>
<line x1="758.6" x2="763.4" y1="110.99" y2="110.99" stroke="#000" stroke-width="1.2"/>
<line x1="758.6" x2="763.4" y1="106.35" y2="106.35" stroke="#000" stroke-width="1.2"/>
<line x1="758.6" x2="767.1" y1="102.20" y2="102.20" stroke="#000" stroke-width="1.6"/>
<text x="773.6" y="115.6" style="font-family:'DejaVu Sans',sans-serif;font-size:27.8px">10<tspan dx="0.8" dy="-10.3" style="font-size:20.5px">1</tspan></text>
<line x1="758.6" x2="763.4" y1="74.90" y2="74.90" stroke="#000" stroke-width="1.2"/>
<line x1="758.6" x2="763.4" y1="58.93" y2="58.93" stroke="#000" stroke-width="1.2"/>
<line x1="758.6" x2="763.4" y1="47.59" y2="47.59" stroke="#000" stroke-width="1.2"/>
<line x1="758.6" x2="763.4" y1="38.80" y2="38.80" stroke="#000" stroke-width="1.2"/>
<line x1="758.6" x2="763.4" y1="31.62" y2="31.62" stroke="#000" stroke-width="1.2"/>
<line x1="758.6" x2="763.4" y1="25.55" y2="25.55" stroke="#000" stroke-width="1.2"/>
<line x1="758.6" x2="763.4" y1="20.29" y2="20.29" stroke="#000" stroke-width="1.2"/>
<line x1="758.6" x2="763.4" y1="15.65" y2="15.65" stroke="#000" stroke-width="1.2"/>
<text transform="translate(870.6,244.3) rotate(-90)" text-anchor="middle" style="font-family:'DejaVu Sans',sans-serif;font-size:29.2px">LDOS [a.u.]</text>
<text x="25.0" y="567" style="font-family:'Liberation Serif',serif;font-size:42px">(a)</text>
<g clip-path="url(#clipb)">
<rect x="1097.0" y="14.7" width="558.5" height="454.6" fill="#440154"/>
<g clip-path="url(#cl19)"><rect x="1097.0" y="14.7" width="558.5" height="454.6" filter="url(#nzSb)" /></g>
<g clip-path="url(#cl20)"><rect x="1097.0" y="14.7" width="558.5" height="454.6" filter="url(#nzLb)" /></g>
<rect x="1097.0" y="404.5" width="561.3" height="70.1" fill="url(#fdb)"/>
<g clip-path="url(#cbb)"><ellipse cx="1243.6" cy="452.0" rx="69.8" ry="32.3" fill="url(#glow)" opacity="0.7"/><ellipse cx="1362.3" cy="442.3" rx="55.8" ry="25.8" fill="url(#glow)" opacity="0.5"/></g>
<g clip-path="url(#cub)"><ellipse cx="1264.5" cy="74.0" rx="48.9" ry="12.9" fill="url(#glow)" opacity="0.5"/><ellipse cx="1404.2" cy="48.1" rx="83.8" ry="25.8" fill="url(#glow)" opacity="0.35"/></g>
<path d="M1097.0 242.0 C1104.8 242.1 1128.0 242.3 1143.5 242.4 C1159.1 242.6 1174.6 242.7 1190.1 242.8 C1205.6 243.0 1221.1 243.1 1236.6 243.3 C1252.1 243.4 1267.7 243.5 1283.2 243.7 C1298.7 243.8 1314.2 244.0 1329.7 244.1 C1345.2 244.2 1360.7 244.4 1376.2 244.5 C1391.8 244.7 1407.3 244.8 1422.8 244.9 C1438.3 245.1 1453.8 245.2 1469.3 245.4 C1484.8 245.5 1500.4 245.6 1515.9 245.8 C1531.4 245.9 1546.9 246.1 1562.4 246.2 C1577.9 246.3 1593.4 246.5 1609.0 246.6 C1624.5 246.8 1647.7 247.0 1655.5 247.0" fill="none" stroke="#23888e" stroke-width="2.2" stroke-opacity="0.85" stroke-dasharray="9.5 12.9" stroke-dashoffset="3.6"/>
<path d="M1097.0 242.0 C1104.8 242.1 1128.0 242.5 1143.5 242.7 C1159.1 243.0 1174.6 243.2 1190.1 243.4 C1205.6 243.7 1221.1 243.9 1236.6 244.1 C1252.1 244.4 1267.7 244.6 1283.2 244.9 C1298.7 245.1 1314.2 245.3 1329.7 245.6 C1345.2 245.8 1360.7 246.0 1376.2 246.3 C1391.8 246.5 1407.3 246.8 1422.8 247.0 C1438.3 247.2 1453.8 247.5 1469.3 247.7 C1484.8 248.0 1500.4 248.2 1515.9 248.4 C1531.4 248.7 1546.9 248.9 1562.4 249.1 C1577.9 249.4 1593.4 249.6 1609.0 249.9 C1624.5 250.1 1647.7 250.5 1655.5 250.6" fill="none" stroke="#31678e" stroke-width="2.2" stroke-opacity="0.85" stroke-dasharray="9.3 12.7" stroke-dashoffset="5.1"/>
<path d="M1097.0 242.0 C1104.8 242.2 1128.0 242.7 1143.5 243.0 C1159.1 243.4 1174.6 243.7 1190.1 244.0 C1205.6 244.4 1221.1 244.7 1236.6 245.1 C1252.1 245.4 1267.7 245.7 1283.2 246.1 C1298.7 246.4 1314.2 246.8 1329.7 247.1 C1345.2 247.4 1360.7 247.8 1376.2 248.1 C1391.8 248.5 1407.3 248.8 1422.8 249.1 C1438.3 249.5 1453.8 249.8 1469.3 250.2 C1484.8 250.5 1500.4 250.8 1515.9 251.2 C1531.4 251.5 1546.9 251.9 1562.4 252.2 C1577.9 252.5 1593.4 252.9 1609.0 253.2 C1624.5 253.6 1647.7 254.1 1655.5 254.2" fill="none" stroke="#218f8d" stroke-width="2.2" stroke-opacity="0.85" stroke-dasharray="9.8 11.5" stroke-dashoffset="10.8"/>
<path d="M1097.0 242.0 C1104.8 242.2 1128.0 243.0 1143.5 243.4 C1159.1 243.9 1174.6 244.4 1190.1 244.9 C1205.6 245.4 1221.1 245.9 1236.6 246.3 C1252.1 246.8 1267.7 247.3 1283.2 247.8 C1298.7 248.3 1314.2 248.8 1329.7 249.2 C1345.2 249.7 1360.7 250.2 1376.2 250.7 C1391.8 251.2 1407.3 251.7 1422.8 252.1 C1438.3 252.6 1453.8 253.1 1469.3 253.6 C1484.8 254.1 1500.4 254.6 1515.9 255.0 C1531.4 255.5 1546.9 256.0 1562.4 256.5 C1577.9 257.0 1593.4 257.5 1609.0 257.9 C1624.5 258.4 1647.7 259.1 1655.5 259.4" fill="none" stroke="#2a768e" stroke-width="2.2" stroke-opacity="0.85" stroke-dasharray="7.4 9.4" stroke-dashoffset="5.2"/>
<path d="M1097.0 242.0 C1104.8 242.3 1128.0 243.1 1143.5 243.7 C1159.1 244.3 1174.6 244.8 1190.1 245.4 C1205.6 246.0 1221.1 246.5 1236.6 247.1 C1252.1 247.7 1267.7 248.2 1283.2 248.8 C1298.7 249.4 1314.2 250.0 1329.7 250.5 C1345.2 251.1 1360.7 251.7 1376.2 252.2 C1391.8 252.8 1407.3 253.4 1422.8 253.9 C1438.3 254.5 1453.8 255.1 1469.3 255.6 C1484.8 256.2 1500.4 256.8 1515.9 257.3 C1531.4 257.9 1546.9 258.5 1562.4 259.0 C1577.9 259.6 1593.4 260.2 1609.0 260.7 C1624.5 261.3 1647.7 262.2 1655.5 262.5" fill="none" stroke="#277f8e" stroke-width="2.2" stroke-opacity="0.85" stroke-dasharray="7.5 11.7" stroke-dashoffset="1.2"/>
<path d="M1097.0 242.0 C1104.8 242.3 1128.0 243.4 1143.5 244.1 C1159.1 244.8 1174.6 245.5 1190.1 246.2 C1205.6 246.9 1221.1 247.6 1236.6 248.3 C1252.1 248.9 1267.7 249.6 1283.2 250.3 C1298.7 251.0 1314.2 251.7 1329.7 252.4 C1345.2 253.1 1360.7 253.8 1376.2 254.5 C1391.8 255.2 1407.3 255.9 1422.8 256.6 C1438.3 257.3 1453.8 258.0 1469.3 258.7 C1484.8 259.4 1500.4 260.1 1515.9 260.8 C1531.4 261.5 1546.9 262.2 1562.4 262.8 C1577.9 263.5 1593.4 264.2 1609.0 264.9 C1624.5 265.6 1647.7 266.7 1655.5 267.0" fill="none" stroke="#31668e" stroke-width="2.2" stroke-opacity="0.85" stroke-dasharray="5.8 8.6" stroke-dashoffset="16.6"/>
<path d="M1097.0 242.0 C1104.8 242.4 1128.0 243.6 1143.5 244.4 C1159.1 245.2 1174.6 246.1 1190.1 246.9 C1205.6 247.7 1221.1 248.5 1236.6 249.3 C1252.1 250.1 1267.7 250.9 1283.2 251.7 C1298.7 252.5 1314.2 253.4 1329.7 254.2 C1345.2 255.0 1360.7 255.8 1376.2 256.6 C1391.8 257.4 1407.3 258.2 1422.8 259.0 C1438.3 259.8 1453.8 260.7 1469.3 261.5 C1484.8 262.3 1500.4 263.1 1515.9 263.9 C1531.4 264.7 1546.9 265.5 1562.4 266.3 C1577.9 267.1 1593.4 268.0 1609.0 268.8 C1624.5 269.6 1647.7 270.8 1655.5 271.2" fill="none" stroke="#2c738e" stroke-width="2.2" stroke-opacity="0.85" stroke-dasharray="8.7 8.3" stroke-dashoffset="0.1"/>
<ellipse cx="1508.9" cy="264.6" rx="34.9" ry="12.9" fill="url(#glow)" opacity="0.6"/>
<ellipse cx="1578.7" cy="271.1" rx="34.9" ry="12.9" fill="url(#glow)" opacity="0.5"/>
<path d="M1097.0 242.0 C1104.8 242.4 1128.0 243.6 1143.5 244.4 C1159.1 245.2 1174.6 246.0 1190.1 246.8 C1205.6 247.7 1221.1 248.5 1236.6 249.3 C1252.1 250.1 1267.7 250.9 1283.2 251.7 C1298.7 252.5 1314.2 253.3 1329.7 254.1 C1345.2 254.9 1360.7 255.7 1376.2 256.5 C1391.8 257.3 1407.3 258.2 1422.8 259.0 C1438.3 259.8 1453.8 260.6 1469.3 261.4 C1484.8 262.2 1500.4 263.0 1515.9 263.8 C1531.4 264.6 1546.9 265.4 1562.4 266.2 C1577.9 267.0 1593.4 267.8 1609.0 268.7 C1624.5 269.5 1647.7 270.7 1655.5 271.1" fill="none" stroke="#2c738e" stroke-width="1.8" stroke-opacity="0.85" stroke-dasharray="5 3.5" />
<path d="M1097.0 242.0 C1104.8 242.6 1128.0 244.5 1143.5 245.8 C1159.1 247.0 1174.6 248.3 1190.1 249.5 C1205.6 250.8 1221.1 252.1 1236.6 253.3 C1252.1 254.6 1267.7 255.8 1283.2 257.1 C1298.7 258.3 1314.2 259.6 1329.7 260.8 C1345.2 262.1 1360.7 263.4 1376.2 264.6 C1391.8 265.9 1407.3 267.1 1422.8 268.4 C1438.3 269.6 1453.8 270.9 1469.3 272.2 C1484.8 273.4 1500.4 274.7 1515.9 275.9 C1531.4 277.2 1546.9 278.4 1562.4 279.7 C1577.9 281.0 1593.4 282.2 1609.0 283.5 C1624.5 284.7 1647.7 286.6 1655.5 287.2" fill="none" stroke="#2c738e" stroke-width="1.8" stroke-opacity="0.85" stroke-dasharray="5 3.5" />
<path d="M1097.0 242.0 C1104.8 242.9 1128.0 245.6 1143.5 247.4 C1159.1 249.2 1174.6 251.0 1190.1 252.8 C1205.6 254.6 1221.1 256.4 1236.6 258.2 C1252.1 259.9 1267.7 261.7 1283.2 263.5 C1298.7 265.3 1314.2 267.1 1329.7 268.9 C1345.2 270.7 1360.7 272.5 1376.2 274.3 C1391.8 276.1 1407.3 277.9 1422.8 279.7 C1438.3 281.5 1453.8 283.3 1469.3 285.1 C1484.8 286.9 1500.4 288.7 1515.9 290.5 C1531.4 292.3 1546.9 294.1 1562.4 295.9 C1577.9 297.6 1593.4 299.4 1609.0 301.2 C1624.5 303.0 1647.7 305.7 1655.5 306.6" fill="none" stroke="#2c738e" stroke-width="1.8" stroke-opacity="0.85" stroke-dasharray="5 3.5" />
<path d="M1097.0 242.0 C1104.8 243.1 1128.0 246.5 1143.5 248.7 C1159.1 250.9 1174.6 253.1 1190.1 255.4 C1205.6 257.6 1221.1 259.8 1236.6 262.0 C1252.1 264.3 1267.7 266.5 1283.2 268.7 C1298.7 270.9 1314.2 273.2 1329.7 275.4 C1345.2 277.6 1360.7 279.8 1376.2 282.1 C1391.8 284.3 1407.3 286.5 1422.8 288.7 C1438.3 291.0 1453.8 293.2 1469.3 295.4 C1484.8 297.6 1500.4 299.9 1515.9 302.1 C1531.4 304.3 1546.9 306.5 1562.4 308.8 C1577.9 311.0 1593.4 313.2 1609.0 315.5 C1624.5 317.7 1647.7 321.0 1655.5 322.1" fill="none" stroke="#25848e" stroke-width="1.9" stroke-opacity="0.95" stroke-dasharray="6 2.5" />
<path d="M1097.0 242.0 C1104.8 243.3 1128.0 247.2 1143.5 249.8 C1159.1 252.3 1174.6 254.9 1190.1 257.5 C1205.6 260.1 1221.1 262.7 1236.6 265.3 C1252.1 267.8 1267.7 270.4 1283.2 273.0 C1298.7 275.6 1314.2 278.2 1329.7 280.8 C1345.2 283.4 1360.7 285.9 1376.2 288.5 C1391.8 291.1 1407.3 293.7 1422.8 296.3 C1438.3 298.9 1453.8 301.5 1469.3 304.0 C1484.8 306.6 1500.4 309.2 1515.9 311.8 C1531.4 314.4 1546.9 317.0 1562.4 319.5 C1577.9 322.1 1593.4 324.7 1609.0 327.3 C1624.5 329.9 1647.7 333.8 1655.5 335.1" fill="none" stroke="#2c738e" stroke-width="1.8" stroke-opacity="0.85" stroke-dasharray="5 3.5" />
<path d="M1097.0 242.0 C1104.8 243.5 1128.0 248.1 1143.5 251.2 C1159.1 254.2 1174.6 257.3 1190.1 260.3 C1205.6 263.4 1221.1 266.4 1236.6 269.5 C1252.1 272.5 1267.7 275.6 1283.2 278.6 C1298.7 281.7 1314.2 284.7 1329.7 287.8 C1345.2 290.8 1360.7 293.9 1376.2 296.9 C1391.8 300.0 1407.3 303.0 1422.8 306.1 C1438.3 309.1 1453.8 312.2 1469.3 315.2 C1484.8 318.3 1500.4 321.3 1515.9 324.4 C1531.4 327.4 1546.9 330.5 1562.4 333.5 C1577.9 336.6 1593.4 339.6 1609.0 342.7 C1624.5 345.8 1647.7 350.3 1655.5 351.9" fill="none" stroke="#2c738e" stroke-width="1.8" stroke-opacity="0.85" stroke-dasharray="5 3.5" />
<path d="M1097.0 242.0 C1104.8 243.7 1128.0 248.8 1143.5 252.2 C1159.1 255.6 1174.6 259.1 1190.1 262.5 C1205.6 265.9 1221.1 269.3 1236.6 272.7 C1252.1 276.1 1267.7 279.5 1283.2 282.9 C1298.7 286.3 1314.2 289.7 1329.7 293.2 C1345.2 296.6 1360.7 300.0 1376.2 303.4 C1391.8 306.8 1407.3 310.2 1422.8 313.6 C1438.3 317.0 1453.8 320.4 1469.3 323.9 C1484.8 327.3 1500.4 330.7 1515.9 334.1 C1531.4 337.5 1546.9 340.9 1562.4 344.3 C1577.9 347.7 1593.4 351.1 1609.0 354.5 C1624.5 358.0 1647.7 363.1 1655.5 364.8" fill="none" stroke="#25848e" stroke-width="1.9" stroke-opacity="0.95" stroke-dasharray="6 2.5" />
<path d="M1097.0 242.0 C1104.8 243.9 1128.0 249.7 1143.5 253.5 C1159.1 257.4 1174.6 261.2 1190.1 265.0 C1205.6 268.9 1221.1 272.7 1236.6 276.6 C1252.1 280.4 1267.7 284.3 1283.2 288.1 C1298.7 291.9 1314.2 295.8 1329.7 299.6 C1345.2 303.5 1360.7 307.3 1376.2 311.1 C1391.8 315.0 1407.3 318.8 1422.8 322.7 C1438.3 326.5 1453.8 330.3 1469.3 334.2 C1484.8 338.0 1500.4 341.9 1515.9 345.7 C1531.4 349.6 1546.9 353.4 1562.4 357.2 C1577.9 361.1 1593.4 364.9 1609.0 368.8 C1624.5 372.6 1647.7 378.4 1655.5 380.3" fill="none" stroke="#25848e" stroke-width="1.9" stroke-opacity="0.95" stroke-dasharray="6 2.5" />
<path d="M1097.0 242.0 C1104.9 244.2 1128.4 250.7 1144.1 255.0 C1159.8 259.3 1175.5 263.6 1191.2 268.0 C1207.0 272.3 1222.7 276.6 1238.4 280.9 C1254.1 285.3 1269.8 289.6 1285.5 293.9 C1301.2 298.2 1316.9 302.6 1332.6 306.9 C1348.3 311.2 1364.0 315.5 1379.7 319.9 C1395.4 324.2 1411.2 328.5 1426.9 332.8 C1442.6 337.2 1458.3 341.5 1474.0 345.8 C1489.7 350.1 1505.4 354.5 1521.1 358.8 C1536.8 363.1 1552.5 367.4 1568.2 371.8 C1583.9 376.1 1599.6 380.4 1615.4 384.7 C1631.1 389.1 1654.6 395.6 1662.5 397.7" fill="none" stroke="#297b8e" stroke-width="2.3" stroke-opacity="0.8436480662745379" stroke-dasharray="2.8 1.6" stroke-dashoffset="4.5"/><path d="M1097.0 242.0 C1104.9 244.2 1128.4 250.7 1144.1 255.0 C1159.8 259.3 1175.5 263.6 1191.2 268.0 C1207.0 272.3 1222.7 276.6 1238.4 280.9 C1254.1 285.3 1269.8 289.6 1285.5 293.9 C1301.2 298.2 1316.9 302.6 1332.6 306.9 C1348.3 311.2 1364.0 315.5 1379.7 319.9 C1395.4 324.2 1411.2 328.5 1426.9 332.8 C1442.6 337.2 1458.3 341.5 1474.0 345.8 C1489.7 350.1 1505.4 354.5 1521.1 358.8 C1536.8 363.1 1552.5 367.4 1568.2 371.8 C1583.9 376.1 1599.6 380.4 1615.4 384.7 C1631.1 389.1 1654.6 395.6 1662.5 397.7" fill="none" stroke="#56c667" stroke-width="2.3" stroke-opacity="0.8436480662745379" stroke-dasharray="2 3.8" stroke-dashoffset="3.2"/><path d="M1097.0 242.0 C1104.9 244.3 1128.4 251.1 1144.1 255.6 C1159.8 260.2 1175.5 264.7 1191.2 269.3 C1207.0 273.8 1222.7 278.3 1238.4 282.9 C1254.1 287.4 1269.8 292.0 1285.5 296.5 C1301.2 301.1 1316.9 305.6 1332.6 310.2 C1348.3 314.7 1364.0 319.2 1379.7 323.8 C1395.4 328.3 1411.2 332.9 1426.9 337.4 C1442.6 342.0 1458.3 346.5 1474.0 351.0 C1489.7 355.6 1505.4 360.1 1521.1 364.7 C1536.8 369.2 1552.5 373.8 1568.2 378.3 C1583.9 382.9 1599.6 387.4 1615.4 391.9 C1631.1 396.5 1654.6 403.3 1662.5 405.6" fill="none" stroke="#2f6b8e" stroke-width="2.0" stroke-opacity="0.6214654164683691" stroke-dasharray="3.0 2.8" stroke-dashoffset="0.8"/>
<path d="M1097.0 242.0 C1104.9 244.4 1128.4 251.5 1144.1 256.2 C1159.8 260.9 1175.5 265.6 1191.2 270.4 C1207.0 275.1 1222.7 279.8 1238.4 284.5 C1254.1 289.3 1269.8 294.0 1285.5 298.7 C1301.2 303.4 1316.9 308.2 1332.6 312.9 C1348.3 317.6 1364.0 322.3 1379.7 327.1 C1395.4 331.8 1411.2 336.5 1426.9 341.2 C1442.6 346.0 1458.3 350.7 1474.0 355.4 C1489.7 360.1 1505.4 364.9 1521.1 369.6 C1536.8 374.3 1552.5 379.0 1568.2 383.8 C1583.9 388.5 1599.6 393.2 1615.4 397.9 C1631.1 402.7 1654.6 409.7 1662.5 412.1" fill="none" stroke="#21918c" stroke-width="2.3" stroke-opacity="0.9298083576391936" stroke-dasharray="2.6 1.7" stroke-dashoffset="4.2"/><path d="M1097.0 242.0 C1104.9 244.4 1128.4 251.5 1144.1 256.2 C1159.8 260.9 1175.5 265.6 1191.2 270.4 C1207.0 275.1 1222.7 279.8 1238.4 284.5 C1254.1 289.3 1269.8 294.0 1285.5 298.7 C1301.2 303.4 1316.9 308.2 1332.6 312.9 C1348.3 317.6 1364.0 322.3 1379.7 327.1 C1395.4 331.8 1411.2 336.5 1426.9 341.2 C1442.6 346.0 1458.3 350.7 1474.0 355.4 C1489.7 360.1 1505.4 364.9 1521.1 369.6 C1536.8 374.3 1552.5 379.0 1568.2 383.8 C1583.9 388.5 1599.6 393.2 1615.4 397.9 C1631.1 402.7 1654.6 409.7 1662.5 412.1" fill="none" stroke="#31b57b" stroke-width="2.3" stroke-opacity="0.9298083576391936" stroke-dasharray="2 5.1" stroke-dashoffset="3.7"/><path d="M1097.0 242.0 C1104.9 244.5 1128.4 251.9 1144.1 256.8 C1159.8 261.8 1175.5 266.7 1191.2 271.7 C1207.0 276.6 1222.7 281.5 1238.4 286.5 C1254.1 291.4 1269.8 296.4 1285.5 301.3 C1301.2 306.3 1316.9 311.2 1332.6 316.2 C1348.3 321.1 1364.0 326.0 1379.7 331.0 C1395.4 335.9 1411.2 340.9 1426.9 345.8 C1442.6 350.8 1458.3 355.7 1474.0 360.6 C1489.7 365.6 1505.4 370.5 1521.1 375.5 C1536.8 380.4 1552.5 385.4 1568.2 390.3 C1583.9 395.2 1599.6 400.2 1615.4 405.1 C1631.1 410.1 1654.6 417.5 1662.5 420.0" fill="none" stroke="#297b8e" stroke-width="2.0" stroke-opacity="0.8568831416739013" stroke-dasharray="3.8 2.9" stroke-dashoffset="2.9"/>
<path d="M1097.0 242.0 C1104.9 244.6 1128.4 252.5 1144.1 257.8 C1159.8 263.1 1175.5 268.4 1191.2 273.6 C1207.0 278.9 1222.7 284.2 1238.4 289.4 C1254.1 294.7 1269.8 300.0 1285.5 305.2 C1301.2 310.5 1316.9 315.8 1332.6 321.1 C1348.3 326.3 1364.0 331.6 1379.7 336.9 C1395.4 342.1 1411.2 347.4 1426.9 352.7 C1442.6 358.0 1458.3 363.2 1474.0 368.5 C1489.7 373.8 1505.4 379.0 1521.1 384.3 C1536.8 389.6 1552.5 394.8 1568.2 400.1 C1583.9 405.4 1599.6 410.7 1615.4 415.9 C1631.1 421.2 1654.6 429.1 1662.5 431.7" fill="none" stroke="#287c8e" stroke-width="2.3" stroke-opacity="0.7528827685619426" stroke-dasharray="2.4 1.6" stroke-dashoffset="3.8"/><path d="M1097.0 242.0 C1104.9 244.6 1128.4 252.5 1144.1 257.8 C1159.8 263.1 1175.5 268.4 1191.2 273.6 C1207.0 278.9 1222.7 284.2 1238.4 289.4 C1254.1 294.7 1269.8 300.0 1285.5 305.2 C1301.2 310.5 1316.9 315.8 1332.6 321.1 C1348.3 326.3 1364.0 331.6 1379.7 336.9 C1395.4 342.1 1411.2 347.4 1426.9 352.7 C1442.6 358.0 1458.3 363.2 1474.0 368.5 C1489.7 373.8 1505.4 379.0 1521.1 384.3 C1536.8 389.6 1552.5 394.8 1568.2 400.1 C1583.9 405.4 1599.6 410.7 1615.4 415.9 C1631.1 421.2 1654.6 429.1 1662.5 431.7" fill="none" stroke="#24aa83" stroke-width="2.3" stroke-opacity="0.7528827685619426" stroke-dasharray="2 5.0" stroke-dashoffset="3.6"/><path d="M1097.0 242.0 C1104.9 244.7 1128.4 253.0 1144.1 258.5 C1159.8 264.0 1175.5 269.4 1191.2 274.9 C1207.0 280.4 1222.7 285.9 1238.4 291.4 C1254.1 296.9 1269.8 302.4 1285.5 307.9 C1301.2 313.4 1316.9 318.8 1332.6 324.3 C1348.3 329.8 1364.0 335.3 1379.7 340.8 C1395.4 346.3 1411.2 351.8 1426.9 357.3 C1442.6 362.8 1458.3 368.2 1474.0 373.7 C1489.7 379.2 1505.4 384.7 1521.1 390.2 C1536.8 395.7 1552.5 401.2 1568.2 406.7 C1583.9 412.1 1599.6 417.6 1615.4 423.1 C1631.1 428.6 1654.6 436.8 1662.5 439.6" fill="none" stroke="#2c738e" stroke-width="2.0" stroke-opacity="0.7545167412880025" stroke-dasharray="2.3 2.6" stroke-dashoffset="0.2"/>
<path d="M1097.0 242.0 C1104.9 245.0 1128.4 253.8 1144.1 259.7 C1159.8 265.6 1175.5 271.5 1191.2 277.4 C1207.0 283.3 1222.7 289.3 1238.4 295.2 C1254.1 301.1 1269.8 307.0 1285.5 312.9 C1301.2 318.8 1316.9 324.7 1332.6 330.6 C1348.3 336.5 1364.0 342.4 1379.7 348.3 C1395.4 354.2 1411.2 360.1 1426.9 366.0 C1442.6 371.9 1458.3 377.9 1474.0 383.8 C1489.7 389.7 1505.4 395.6 1521.1 401.5 C1536.8 407.4 1552.5 413.3 1568.2 419.2 C1583.9 425.1 1599.6 431.0 1615.4 436.9 C1631.1 442.8 1654.6 451.7 1662.5 454.6" fill="none" stroke="#218f8d" stroke-width="2.3" stroke-opacity="0.9943663174444477" stroke-dasharray="3.3 1.3" stroke-dashoffset="4.6"/><path d="M1097.0 242.0 C1104.9 245.0 1128.4 253.8 1144.1 259.7 C1159.8 265.6 1175.5 271.5 1191.2 277.4 C1207.0 283.3 1222.7 289.3 1238.4 295.2 C1254.1 301.1 1269.8 307.0 1285.5 312.9 C1301.2 318.8 1316.9 324.7 1332.6 330.6 C1348.3 336.5 1364.0 342.4 1379.7 348.3 C1395.4 354.2 1411.2 360.1 1426.9 366.0 C1442.6 371.9 1458.3 377.9 1474.0 383.8 C1489.7 389.7 1505.4 395.6 1521.1 401.5 C1536.8 407.4 1552.5 413.3 1568.2 419.2 C1583.9 425.1 1599.6 431.0 1615.4 436.9 C1631.1 442.8 1654.6 451.7 1662.5 454.6" fill="none" stroke="#5ac864" stroke-width="2.3" stroke-opacity="0.9943663174444477" stroke-dasharray="2 3.4" stroke-dashoffset="3.9"/><path d="M1097.0 242.0 C1104.9 245.1 1128.4 254.2 1144.1 260.4 C1159.8 266.5 1175.5 272.6 1191.2 278.7 C1207.0 284.9 1222.7 291.0 1238.4 297.1 C1254.1 303.2 1269.8 309.4 1285.5 315.5 C1301.2 321.6 1316.9 327.7 1332.6 333.9 C1348.3 340.0 1364.0 346.1 1379.7 352.2 C1395.4 358.4 1411.2 364.5 1426.9 370.6 C1442.6 376.7 1458.3 382.9 1474.0 389.0 C1489.7 395.1 1505.4 401.2 1521.1 407.4 C1536.8 413.5 1552.5 419.6 1568.2 425.7 C1583.9 431.9 1599.6 438.0 1615.4 444.1 C1631.1 450.2 1654.6 459.4 1662.5 462.5" fill="none" stroke="#26828e" stroke-width="2.0" stroke-opacity="0.7979152068941947" stroke-dasharray="3.4 2.2" stroke-dashoffset="4.6"/>
<path d="M1097.0 242.0 C1104.9 245.1 1128.4 254.4 1144.1 260.6 C1159.8 266.9 1175.5 273.1 1191.2 279.3 C1207.0 285.5 1222.7 291.7 1238.4 297.9 C1254.1 304.2 1269.8 310.4 1285.5 316.6 C1301.2 322.8 1316.9 329.0 1332.6 335.2 C1348.3 341.5 1364.0 347.7 1379.7 353.9 C1395.4 360.1 1411.2 366.3 1426.9 372.5 C1442.6 378.7 1458.3 385.0 1474.0 391.2 C1489.7 397.4 1505.4 403.6 1521.1 409.8 C1536.8 416.0 1552.5 422.3 1568.2 428.5 C1583.9 434.7 1599.6 440.9 1615.4 447.1 C1631.1 453.3 1654.6 462.7 1662.5 465.8" fill="none" stroke="#27808e" stroke-width="2.3" stroke-opacity="0.9913622584588844" stroke-dasharray="3.6 1.4" stroke-dashoffset="0.8"/><path d="M1097.0 242.0 C1104.9 245.1 1128.4 254.4 1144.1 260.6 C1159.8 266.9 1175.5 273.1 1191.2 279.3 C1207.0 285.5 1222.7 291.7 1238.4 297.9 C1254.1 304.2 1269.8 310.4 1285.5 316.6 C1301.2 322.8 1316.9 329.0 1332.6 335.2 C1348.3 341.5 1364.0 347.7 1379.7 353.9 C1395.4 360.1 1411.2 366.3 1426.9 372.5 C1442.6 378.7 1458.3 385.0 1474.0 391.2 C1489.7 397.4 1505.4 403.6 1521.1 409.8 C1536.8 416.0 1552.5 422.3 1568.2 428.5 C1583.9 434.7 1599.6 440.9 1615.4 447.1 C1631.1 453.3 1654.6 462.7 1662.5 465.8" fill="none" stroke="#2fb47c" stroke-width="2.3" stroke-opacity="0.9913622584588844" stroke-dasharray="2 3.4" stroke-dashoffset="4.5"/><path d="M1097.0 242.0 C1104.9 245.2 1128.4 254.9 1144.1 261.3 C1159.8 267.7 1175.5 274.2 1191.2 280.6 C1207.0 287.0 1222.7 293.5 1238.4 299.9 C1254.1 306.3 1269.8 312.8 1285.5 319.2 C1301.2 325.6 1316.9 332.1 1332.6 338.5 C1348.3 344.9 1364.0 351.4 1379.7 357.8 C1395.4 364.2 1411.2 370.7 1426.9 377.1 C1442.6 383.5 1458.3 390.0 1474.0 396.4 C1489.7 402.8 1505.4 409.3 1521.1 415.7 C1536.8 422.1 1552.5 428.6 1568.2 435.0 C1583.9 441.4 1599.6 447.9 1615.4 454.3 C1631.1 460.7 1654.6 470.4 1662.5 473.6" fill="none" stroke="#25858e" stroke-width="2.0" stroke-opacity="0.6357560197217624" stroke-dasharray="3.2 2.1" stroke-dashoffset="0.6"/>
<path d="M1097.0 242.0 C1104.9 245.5 1128.4 255.9 1144.1 262.8 C1159.8 269.8 1175.5 276.7 1191.2 283.7 C1207.0 290.6 1222.7 297.5 1238.4 304.5 C1254.1 311.4 1269.8 318.4 1285.5 325.3 C1301.2 332.3 1316.9 339.2 1332.6 346.1 C1348.3 353.1 1364.0 360.0 1379.7 367.0 C1395.4 373.9 1411.2 380.9 1426.9 387.8 C1442.6 394.7 1458.3 401.7 1474.0 408.6 C1489.7 415.6 1505.4 422.5 1521.1 429.5 C1536.8 436.4 1552.5 443.3 1568.2 450.3 C1583.9 457.2 1599.6 464.2 1615.4 471.1 C1631.1 478.0 1654.6 488.5 1662.5 491.9" fill="none" stroke="#287c8e" stroke-width="2.3" stroke-opacity="0.7886426544435451" stroke-dasharray="3.5 1.0" stroke-dashoffset="0.9"/><path d="M1097.0 242.0 C1104.9 245.5 1128.4 255.9 1144.1 262.8 C1159.8 269.8 1175.5 276.7 1191.2 283.7 C1207.0 290.6 1222.7 297.5 1238.4 304.5 C1254.1 311.4 1269.8 318.4 1285.5 325.3 C1301.2 332.3 1316.9 339.2 1332.6 346.1 C1348.3 353.1 1364.0 360.0 1379.7 367.0 C1395.4 373.9 1411.2 380.9 1426.9 387.8 C1442.6 394.7 1458.3 401.7 1474.0 408.6 C1489.7 415.6 1505.4 422.5 1521.1 429.5 C1536.8 436.4 1552.5 443.3 1568.2 450.3 C1583.9 457.2 1599.6 464.2 1615.4 471.1 C1631.1 478.0 1654.6 488.5 1662.5 491.9" fill="none" stroke="#35b779" stroke-width="2.3" stroke-opacity="0.7886426544435451" stroke-dasharray="2 3.1" stroke-dashoffset="3.1"/><path d="M1097.0 242.0 C1104.9 245.6 1128.4 256.3 1144.1 263.5 C1159.8 270.6 1175.5 277.8 1191.2 285.0 C1207.0 292.1 1222.7 299.3 1238.4 306.4 C1254.1 313.6 1269.8 320.8 1285.5 327.9 C1301.2 335.1 1316.9 342.2 1332.6 349.4 C1348.3 356.6 1364.0 363.7 1379.7 370.9 C1395.4 378.1 1411.2 385.2 1426.9 392.4 C1442.6 399.5 1458.3 406.7 1474.0 413.9 C1489.7 421.0 1505.4 428.2 1521.1 435.3 C1536.8 442.5 1552.5 449.7 1568.2 456.8 C1583.9 464.0 1599.6 471.1 1615.4 478.3 C1631.1 485.5 1654.6 496.2 1662.5 499.8" fill="none" stroke="#297b8e" stroke-width="2.0" stroke-opacity="0.8505997052648591" stroke-dasharray="2.4 1.9" stroke-dashoffset="2.7"/>
<path d="M1097.0 242.0 C1102.6 245.4 1119.5 255.5 1130.8 262.2 C1142.1 268.9 1153.4 275.7 1164.6 282.4 C1175.9 289.1 1187.2 295.9 1198.5 302.6 C1209.7 309.3 1221.0 316.0 1232.3 322.8 C1243.6 329.5 1254.8 336.2 1266.1 343.0 C1277.4 349.7 1288.7 356.4 1299.9 363.2 C1311.2 369.9 1322.5 376.6 1333.8 383.4 C1345.0 390.1 1356.3 396.8 1367.6 403.6 C1378.9 410.3 1390.1 417.0 1401.4 423.7 C1412.7 430.5 1424.0 437.2 1435.2 443.9 C1446.5 450.7 1457.8 457.4 1469.1 464.1 C1480.3 470.9 1497.2 481.0 1502.9 484.3" fill="none" stroke="#24878e" stroke-width="2.3" stroke-opacity="0.7819677091638795" stroke-dasharray="2.5 1.7" stroke-dashoffset="4.0"/><path d="M1097.0 242.0 C1102.6 245.4 1119.5 255.5 1130.8 262.2 C1142.1 268.9 1153.4 275.7 1164.6 282.4 C1175.9 289.1 1187.2 295.9 1198.5 302.6 C1209.7 309.3 1221.0 316.0 1232.3 322.8 C1243.6 329.5 1254.8 336.2 1266.1 343.0 C1277.4 349.7 1288.7 356.4 1299.9 363.2 C1311.2 369.9 1322.5 376.6 1333.8 383.4 C1345.0 390.1 1356.3 396.8 1367.6 403.6 C1378.9 410.3 1390.1 417.0 1401.4 423.7 C1412.7 430.5 1424.0 437.2 1435.2 443.9 C1446.5 450.7 1457.8 457.4 1469.1 464.1 C1480.3 470.9 1497.2 481.0 1502.9 484.3" fill="none" stroke="#4ec36b" stroke-width="2.3" stroke-opacity="0.7819677091638795" stroke-dasharray="2 5.9" stroke-dashoffset="2.7"/>
<path d="M1097.0 242.0 C1102.2 245.4 1117.9 255.5 1128.4 262.2 C1138.9 268.9 1149.3 275.7 1159.8 282.4 C1170.2 289.1 1180.7 295.9 1191.2 302.6 C1201.6 309.3 1212.1 316.0 1222.6 322.8 C1233.0 329.5 1243.5 336.2 1254.0 343.0 C1264.4 349.7 1274.9 356.4 1285.3 363.2 C1295.8 369.9 1306.3 376.6 1316.7 383.4 C1327.2 390.1 1337.7 396.8 1348.1 403.5 C1358.6 410.3 1369.1 417.0 1379.5 423.7 C1390.0 430.5 1400.4 437.2 1410.9 443.9 C1421.4 450.7 1431.8 457.4 1442.3 464.1 C1452.8 470.9 1468.5 481.0 1473.7 484.3" fill="none" stroke="#21908d" stroke-width="2.3" stroke-opacity="0.8472427839487042" stroke-dasharray="3.5 1.6" stroke-dashoffset="1.9"/><path d="M1097.0 242.0 C1102.2 245.4 1117.9 255.5 1128.4 262.2 C1138.9 268.9 1149.3 275.7 1159.8 282.4 C1170.2 289.1 1180.7 295.9 1191.2 302.6 C1201.6 309.3 1212.1 316.0 1222.6 322.8 C1233.0 329.5 1243.5 336.2 1254.0 343.0 C1264.4 349.7 1274.9 356.4 1285.3 363.2 C1295.8 369.9 1306.3 376.6 1316.7 383.4 C1327.2 390.1 1337.7 396.8 1348.1 403.5 C1358.6 410.3 1369.1 417.0 1379.5 423.7 C1390.0 430.5 1400.4 437.2 1410.9 443.9 C1421.4 450.7 1431.8 457.4 1442.3 464.1 C1452.8 470.9 1468.5 481.0 1473.7 484.3" fill="none" stroke="#2db27d" stroke-width="2.3" stroke-opacity="0.8472427839487042" stroke-dasharray="2 3.3" stroke-dashoffset="4.0"/>
<path d="M1097.0 242.0 C1102.0 245.4 1117.1 255.5 1127.1 262.2 C1137.1 268.9 1147.2 275.7 1157.2 282.4 C1167.2 289.1 1177.2 295.9 1187.3 302.6 C1197.3 309.3 1207.3 316.0 1217.4 322.8 C1227.4 329.5 1237.4 336.2 1247.5 343.0 C1257.5 349.7 1267.5 356.4 1277.5 363.2 C1287.6 369.9 1297.6 376.6 1307.6 383.4 C1317.7 390.1 1327.7 396.8 1337.7 403.6 C1347.8 410.3 1357.8 417.0 1367.8 423.7 C1377.9 430.5 1387.9 437.2 1397.9 443.9 C1407.9 450.7 1418.0 457.4 1428.0 464.1 C1438.0 470.9 1453.1 481.0 1458.1 484.3" fill="none" stroke="#228d8d" stroke-width="2.3" stroke-opacity="0.7354214591591997" stroke-dasharray="3.1 2.0" stroke-dashoffset="3.8"/><path d="M1097.0 242.0 C1102.0 245.4 1117.1 255.5 1127.1 262.2 C1137.1 268.9 1147.2 275.7 1157.2 282.4 C1167.2 289.1 1177.2 295.9 1187.3 302.6 C1197.3 309.3 1207.3 316.0 1217.4 322.8 C1227.4 329.5 1237.4 336.2 1247.5 343.0 C1257.5 349.7 1267.5 356.4 1277.5 363.2 C1287.6 369.9 1297.6 376.6 1307.6 383.4 C1317.7 390.1 1327.7 396.8 1337.7 403.6 C1347.8 410.3 1357.8 417.0 1367.8 423.7 C1377.9 430.5 1387.9 437.2 1397.9 443.9 C1407.9 450.7 1418.0 457.4 1428.0 464.1 C1438.0 470.9 1453.1 481.0 1458.1 484.3" fill="none" stroke="#5ac864" stroke-width="2.3" stroke-opacity="0.7354214591591997" stroke-dasharray="2 3.4" stroke-dashoffset="2.5"/>
<path d="M1097.0 242.0 C1100.8 245.4 1112.1 255.5 1119.7 262.2 C1127.2 268.9 1134.8 275.7 1142.3 282.4 C1149.9 289.1 1157.4 295.9 1165.0 302.6 C1172.6 309.3 1180.1 316.0 1187.7 322.8 C1195.2 329.5 1202.8 336.2 1210.3 343.0 C1217.9 349.7 1225.4 356.4 1233.0 363.2 C1240.6 369.9 1248.1 376.6 1255.7 383.4 C1263.2 390.1 1270.8 396.8 1278.3 403.6 C1285.9 410.3 1293.4 417.0 1301.0 423.7 C1308.6 430.5 1316.1 437.2 1323.7 443.9 C1331.2 450.7 1338.8 457.4 1346.3 464.1 C1353.9 470.9 1365.2 481.0 1369.0 484.3" fill="none" stroke="#277e8e" stroke-width="2.3" stroke-opacity="0.8717734861496363" stroke-dasharray="3.0 1.4" stroke-dashoffset="2.6"/><path d="M1097.0 242.0 C1100.8 245.4 1112.1 255.5 1119.7 262.2 C1127.2 268.9 1134.8 275.7 1142.3 282.4 C1149.9 289.1 1157.4 295.9 1165.0 302.6 C1172.6 309.3 1180.1 316.0 1187.7 322.8 C1195.2 329.5 1202.8 336.2 1210.3 343.0 C1217.9 349.7 1225.4 356.4 1233.0 363.2 C1240.6 369.9 1248.1 376.6 1255.7 383.4 C1263.2 390.1 1270.8 396.8 1278.3 403.6 C1285.9 410.3 1293.4 417.0 1301.0 423.7 C1308.6 430.5 1316.1 437.2 1323.7 443.9 C1331.2 450.7 1338.8 457.4 1346.3 464.1 C1353.9 470.9 1365.2 481.0 1369.0 484.3" fill="none" stroke="#22a884" stroke-width="2.3" stroke-opacity="0.8717734861496363" stroke-dasharray="2 4.3" stroke-dashoffset="2.2"/>
<path d="M1097.0 242.0 C1100.4 245.4 1110.7 255.5 1117.6 262.2 C1124.4 268.9 1131.3 275.7 1138.2 282.4 C1145.0 289.1 1151.9 295.9 1158.7 302.6 C1165.6 309.3 1172.5 316.0 1179.3 322.8 C1186.2 329.5 1193.0 336.2 1199.9 343.0 C1206.8 349.7 1213.6 356.4 1220.5 363.2 C1227.3 369.9 1234.2 376.6 1241.1 383.4 C1247.9 390.1 1254.8 396.8 1261.7 403.6 C1268.5 410.3 1275.4 417.0 1282.2 423.7 C1289.1 430.5 1296.0 437.2 1302.8 443.9 C1309.7 450.7 1316.5 457.4 1323.4 464.1 C1330.3 470.9 1340.5 481.0 1344.0 484.3" fill="none" stroke="#26818e" stroke-width="2.3" stroke-opacity="0.7914397564663633" stroke-dasharray="3.6 1.7" stroke-dashoffset="2.5"/><path d="M1097.0 242.0 C1100.4 245.4 1110.7 255.5 1117.6 262.2 C1124.4 268.9 1131.3 275.7 1138.2 282.4 C1145.0 289.1 1151.9 295.9 1158.7 302.6 C1165.6 309.3 1172.5 316.0 1179.3 322.8 C1186.2 329.5 1193.0 336.2 1199.9 343.0 C1206.8 349.7 1213.6 356.4 1220.5 363.2 C1227.3 369.9 1234.2 376.6 1241.1 383.4 C1247.9 390.1 1254.8 396.8 1261.7 403.6 C1268.5 410.3 1275.4 417.0 1282.2 423.7 C1289.1 430.5 1296.0 437.2 1302.8 443.9 C1309.7 450.7 1316.5 457.4 1323.4 464.1 C1330.3 470.9 1340.5 481.0 1344.0 484.3" fill="none" stroke="#42be71" stroke-width="2.3" stroke-opacity="0.7914397564663633" stroke-dasharray="2 4.1" stroke-dashoffset="1.0"/>
<path d="M1097.0 242.0 C1099.8 245.4 1108.2 255.5 1113.8 262.2 C1119.4 268.9 1125.0 275.7 1130.6 282.4 C1136.2 289.1 1141.8 295.9 1147.3 302.6 C1152.9 309.3 1158.5 316.0 1164.1 322.8 C1169.7 329.5 1175.3 336.2 1180.9 343.0 C1186.5 349.7 1192.1 356.4 1197.7 363.2 C1203.3 369.9 1208.9 376.6 1214.5 383.4 C1220.1 390.1 1225.7 396.8 1231.3 403.6 C1236.8 410.3 1242.4 417.0 1248.0 423.7 C1253.6 430.5 1259.2 437.2 1264.8 443.9 C1270.4 450.7 1276.0 457.4 1281.6 464.1 C1287.2 470.9 1295.6 481.0 1298.4 484.3" fill="none" stroke="#287d8e" stroke-width="2.3" stroke-opacity="0.7011626973632666" stroke-dasharray="3.2 1.9" stroke-dashoffset="4.1"/><path d="M1097.0 242.0 C1099.8 245.4 1108.2 255.5 1113.8 262.2 C1119.4 268.9 1125.0 275.7 1130.6 282.4 C1136.2 289.1 1141.8 295.9 1147.3 302.6 C1152.9 309.3 1158.5 316.0 1164.1 322.8 C1169.7 329.5 1175.3 336.2 1180.9 343.0 C1186.5 349.7 1192.1 356.4 1197.7 363.2 C1203.3 369.9 1208.9 376.6 1214.5 383.4 C1220.1 390.1 1225.7 396.8 1231.3 403.6 C1236.8 410.3 1242.4 417.0 1248.0 423.7 C1253.6 430.5 1259.2 437.2 1264.8 443.9 C1270.4 450.7 1276.0 457.4 1281.6 464.1 C1287.2 470.9 1295.6 481.0 1298.4 484.3" fill="none" stroke="#3aba76" stroke-width="2.3" stroke-opacity="0.7011626973632666" stroke-dasharray="2 6.0" stroke-dashoffset="2.3"/>
<path d="M1097.0 242.0 C1099.1 245.4 1105.3 255.5 1109.5 262.2 C1113.6 268.9 1117.8 275.7 1121.9 282.4 C1126.1 289.1 1130.2 295.9 1134.4 302.6 C1138.6 309.3 1142.7 316.0 1146.9 322.8 C1151.0 329.5 1155.2 336.2 1159.3 343.0 C1163.5 349.7 1167.6 356.4 1171.8 363.2 C1176.0 369.9 1180.1 376.6 1184.3 383.4 C1188.4 390.1 1192.6 396.8 1196.7 403.6 C1200.9 410.3 1205.0 417.0 1209.2 423.7 C1213.4 430.5 1217.5 437.2 1221.7 443.9 C1225.8 450.7 1230.0 457.4 1234.1 464.1 C1238.3 470.9 1244.5 481.0 1246.6 484.3" fill="none" stroke="#26818e" stroke-width="2.3" stroke-opacity="0.9503780458500515" stroke-dasharray="3.5 2.0" stroke-dashoffset="1.5"/><path d="M1097.0 242.0 C1099.1 245.4 1105.3 255.5 1109.5 262.2 C1113.6 268.9 1117.8 275.7 1121.9 282.4 C1126.1 289.1 1130.2 295.9 1134.4 302.6 C1138.6 309.3 1142.7 316.0 1146.9 322.8 C1151.0 329.5 1155.2 336.2 1159.3 343.0 C1163.5 349.7 1167.6 356.4 1171.8 363.2 C1176.0 369.9 1180.1 376.6 1184.3 383.4 C1188.4 390.1 1192.6 396.8 1196.7 403.6 C1200.9 410.3 1205.0 417.0 1209.2 423.7 C1213.4 430.5 1217.5 437.2 1221.7 443.9 C1225.8 450.7 1230.0 457.4 1234.1 464.1 C1238.3 470.9 1244.5 481.0 1246.6 484.3" fill="none" stroke="#28ae80" stroke-width="2.3" stroke-opacity="0.9503780458500515" stroke-dasharray="2 4.9" stroke-dashoffset="2.7"/>
<path d="M1097.0 242.0 C1100.0 245.4 1109.2 255.5 1115.3 262.2 C1121.3 268.9 1127.4 275.7 1133.5 282.4 C1139.6 289.1 1145.7 295.9 1151.8 302.6 C1157.9 309.3 1163.9 316.0 1170.0 322.8 C1176.1 329.5 1182.2 336.2 1188.3 343.0 C1194.4 349.7 1200.5 356.4 1206.5 363.2 C1212.6 369.9 1218.7 376.6 1224.8 383.4 C1230.9 390.1 1237.0 396.8 1243.1 403.6 C1249.1 410.3 1255.2 417.0 1261.3 423.7 C1267.4 430.5 1273.5 437.2 1279.6 443.9 C1285.6 450.7 1291.7 457.4 1297.8 464.1 C1303.9 470.9 1313.0 481.0 1316.1 484.3" fill="none" stroke="#21918c" stroke-width="2.3" stroke-opacity="0.95" /><path d="M1097.0 242.0 C1100.0 245.4 1109.2 255.5 1115.3 262.2 C1121.3 268.9 1127.4 275.7 1133.5 282.4 C1139.6 289.1 1145.7 295.9 1151.8 302.6 C1157.9 309.3 1163.9 316.0 1170.0 322.8 C1176.1 329.5 1182.2 336.2 1188.3 343.0 C1194.4 349.7 1200.5 356.4 1206.5 363.2 C1212.6 369.9 1218.7 376.6 1224.8 383.4 C1230.9 390.1 1237.0 396.8 1243.1 403.6 C1249.1 410.3 1255.2 417.0 1261.3 423.7 C1267.4 430.5 1273.5 437.2 1279.6 443.9 C1285.6 450.7 1291.7 457.4 1297.8 464.1 C1303.9 470.9 1313.0 481.0 1316.1 484.3" fill="none" stroke="#d2e21b" stroke-width="2.3" stroke-dasharray="2 2.6" />
<path d="M1097.0 242.0 C1099.6 245.4 1107.6 255.5 1112.9 262.2 C1118.2 268.9 1123.4 275.7 1128.7 282.4 C1134.0 289.1 1139.3 295.9 1144.6 302.6 C1149.9 309.3 1155.2 316.0 1160.5 322.8 C1165.8 329.5 1171.0 336.2 1176.3 343.0 C1181.6 349.7 1186.9 356.4 1192.2 363.2 C1197.5 369.9 1202.8 376.6 1208.1 383.4 C1213.4 390.1 1218.6 396.8 1223.9 403.6 C1229.2 410.3 1234.5 417.0 1239.8 423.7 C1245.1 430.5 1250.4 437.2 1255.7 443.9 C1261.0 450.7 1266.2 457.4 1271.5 464.1 C1276.8 470.9 1284.8 481.0 1287.4 484.3" fill="none" stroke="#21918c" stroke-width="2.3" stroke-opacity="0.95" /><path d="M1097.0 242.0 C1099.6 245.4 1107.6 255.5 1112.9 262.2 C1118.2 268.9 1123.4 275.7 1128.7 282.4 C1134.0 289.1 1139.3 295.9 1144.6 302.6 C1149.9 309.3 1155.2 316.0 1160.5 322.8 C1165.8 329.5 1171.0 336.2 1176.3 343.0 C1181.6 349.7 1186.9 356.4 1192.2 363.2 C1197.5 369.9 1202.8 376.6 1208.1 383.4 C1213.4 390.1 1218.6 396.8 1223.9 403.6 C1229.2 410.3 1234.5 417.0 1239.8 423.7 C1245.1 430.5 1250.4 437.2 1255.7 443.9 C1261.0 450.7 1266.2 457.4 1271.5 464.1 C1276.8 470.9 1284.8 481.0 1287.4 484.3" fill="none" stroke="#d2e21b" stroke-width="2.3" stroke-dasharray="2 2.6" />
<path d="M1097.0 242.0 C1098.9 245.4 1104.4 255.5 1108.1 262.2 C1111.8 268.9 1115.5 275.7 1119.2 282.4 C1122.9 289.1 1126.6 295.9 1130.3 302.6 C1134.1 309.3 1137.8 316.0 1141.5 322.8 C1145.2 329.5 1148.9 336.2 1152.6 343.0 C1156.3 349.7 1160.0 356.4 1163.7 363.2 C1167.4 369.9 1171.1 376.6 1174.8 383.4 C1178.5 390.1 1182.2 396.8 1185.9 403.6 C1189.6 410.3 1193.3 417.0 1197.0 423.7 C1200.8 430.5 1204.5 437.2 1208.2 443.9 C1211.9 450.7 1215.6 457.4 1219.3 464.1 C1223.0 470.9 1228.5 481.0 1230.4 484.3" fill="none" stroke="#21918c" stroke-width="2.3" stroke-opacity="0.95" /><path d="M1097.0 242.0 C1098.9 245.4 1104.4 255.5 1108.1 262.2 C1111.8 268.9 1115.5 275.7 1119.2 282.4 C1122.9 289.1 1126.6 295.9 1130.3 302.6 C1134.1 309.3 1137.8 316.0 1141.5 322.8 C1145.2 329.5 1148.9 336.2 1152.6 343.0 C1156.3 349.7 1160.0 356.4 1163.7 363.2 C1167.4 369.9 1171.1 376.6 1174.8 383.4 C1178.5 390.1 1182.2 396.8 1185.9 403.6 C1189.6 410.3 1193.3 417.0 1197.0 423.7 C1200.8 430.5 1204.5 437.2 1208.2 443.9 C1211.9 450.7 1215.6 457.4 1219.3 464.1 C1223.0 470.9 1228.5 481.0 1230.4 484.3" fill="none" stroke="#d2e21b" stroke-width="2.3" stroke-dasharray="2 2.6" />
<path d="M1278.0 79.3 C1279.5 79.8 1284.3 81.0 1287.5 82.1 C1290.7 83.1 1293.9 84.4 1297.1 85.7 C1300.3 87.1 1303.5 88.6 1306.7 90.2 C1309.9 91.8 1313.0 93.6 1316.2 95.5 C1319.4 97.3 1322.6 99.3 1325.8 101.4 C1329.0 103.5 1332.2 105.7 1335.4 108.0 C1338.6 110.3 1341.8 112.7 1344.9 115.2 C1348.1 117.7 1351.3 120.2 1354.5 122.9 C1357.7 125.5 1360.9 128.2 1364.1 131.0 C1367.3 133.8 1370.5 136.6 1373.7 139.5 C1376.8 142.4 1380.0 145.3 1383.2 148.3 C1386.4 151.3 1389.6 154.4 1392.8 157.4 C1396.0 160.5 1399.2 163.6 1402.4 166.7 C1405.6 169.8 1408.7 172.9 1411.9 176.1 C1415.1 179.2 1418.3 182.4 1421.5 185.5 C1424.7 188.7 1427.9 191.8 1431.1 195.0 C1434.3 198.1 1437.5 201.2 1440.6 204.3 C1443.8 207.4 1447.0 210.5 1450.2 213.6 C1453.4 216.6 1456.6 219.7 1459.8 222.6 C1463.0 225.6 1466.2 228.5 1469.4 231.4 C1472.5 234.3 1475.7 237.1 1478.9 239.9 C1482.1 242.6 1485.3 245.3 1488.5 248.0 C1491.7 250.6 1494.9 253.1 1498.1 255.6 C1501.3 258.0 1506.0 261.5 1507.6 262.7" fill="none" stroke="#21918c" stroke-width="2.3" stroke-opacity="0.95" /><path d="M1278.0 79.3 C1279.5 79.8 1284.3 81.0 1287.5 82.1 C1290.7 83.1 1293.9 84.4 1297.1 85.7 C1300.3 87.1 1303.5 88.6 1306.7 90.2 C1309.9 91.8 1313.0 93.6 1316.2 95.5 C1319.4 97.3 1322.6 99.3 1325.8 101.4 C1329.0 103.5 1332.2 105.7 1335.4 108.0 C1338.6 110.3 1341.8 112.7 1344.9 115.2 C1348.1 117.7 1351.3 120.2 1354.5 122.9 C1357.7 125.5 1360.9 128.2 1364.1 131.0 C1367.3 133.8 1370.5 136.6 1373.7 139.5 C1376.8 142.4 1380.0 145.3 1383.2 148.3 C1386.4 151.3 1389.6 154.4 1392.8 157.4 C1396.0 160.5 1399.2 163.6 1402.4 166.7 C1405.6 169.8 1408.7 172.9 1411.9 176.1 C1415.1 179.2 1418.3 182.4 1421.5 185.5 C1424.7 188.7 1427.9 191.8 1431.1 195.0 C1434.3 198.1 1437.5 201.2 1440.6 204.3 C1443.8 207.4 1447.0 210.5 1450.2 213.6 C1453.4 216.6 1456.6 219.7 1459.8 222.6 C1463.0 225.6 1466.2 228.5 1469.4 231.4 C1472.5 234.3 1475.7 237.1 1478.9 239.9 C1482.1 242.6 1485.3 245.3 1488.5 248.0 C1491.7 250.6 1494.9 253.1 1498.1 255.6 C1501.3 258.0 1506.0 261.5 1507.6 262.7" fill="none" stroke="#d2e21b" stroke-width="2.3" stroke-dasharray="2 2.6" />
<path d="M1153.8 83.3 C1156.8 83.9 1165.5 85.5 1171.4 86.8 C1177.2 88.0 1183.1 89.3 1189.0 90.7 C1194.8 92.1 1200.7 93.6 1206.5 95.1 C1212.4 96.6 1218.2 98.2 1224.1 99.9 C1229.9 101.6 1235.8 103.3 1241.6 105.1 C1247.5 107.0 1253.4 108.8 1259.2 110.8 C1265.1 112.7 1270.9 114.7 1276.8 116.8 C1282.6 118.9 1288.5 121.0 1294.3 123.2 C1300.2 125.4 1306.0 127.7 1311.9 130.0 C1317.8 132.3 1323.6 134.7 1329.5 137.1 C1335.3 139.6 1341.2 142.1 1347.0 144.6 C1352.9 147.2 1358.7 149.8 1364.6 152.5 C1370.4 155.1 1376.3 157.9 1382.2 160.6 C1388.0 163.4 1393.9 166.3 1399.7 169.1 C1405.6 172.0 1411.4 174.9 1417.3 177.9 C1423.1 180.9 1429.0 183.9 1434.8 187.0 C1440.7 190.1 1446.6 193.2 1452.4 196.4 C1458.3 199.5 1464.1 202.8 1470.0 206.0 C1475.8 209.3 1481.7 212.6 1487.5 215.9 C1493.4 219.3 1499.2 222.6 1505.1 226.1 C1511.0 229.5 1516.8 233.0 1522.7 236.5 C1528.5 240.0 1534.4 243.5 1540.2 247.1 C1546.1 250.7 1551.9 254.3 1557.8 257.9 C1563.6 261.6 1572.4 267.1 1575.4 269.0" fill="none" stroke="#2c738e" stroke-width="2.3" stroke-opacity="0.8078266095955462" stroke-dasharray="2.8 1.4" stroke-dashoffset="2.0"/><path d="M1153.8 83.3 C1156.8 83.9 1165.5 85.5 1171.4 86.8 C1177.2 88.0 1183.1 89.3 1189.0 90.7 C1194.8 92.1 1200.7 93.6 1206.5 95.1 C1212.4 96.6 1218.2 98.2 1224.1 99.9 C1229.9 101.6 1235.8 103.3 1241.6 105.1 C1247.5 107.0 1253.4 108.8 1259.2 110.8 C1265.1 112.7 1270.9 114.7 1276.8 116.8 C1282.6 118.9 1288.5 121.0 1294.3 123.2 C1300.2 125.4 1306.0 127.7 1311.9 130.0 C1317.8 132.3 1323.6 134.7 1329.5 137.1 C1335.3 139.6 1341.2 142.1 1347.0 144.6 C1352.9 147.2 1358.7 149.8 1364.6 152.5 C1370.4 155.1 1376.3 157.9 1382.2 160.6 C1388.0 163.4 1393.9 166.3 1399.7 169.1 C1405.6 172.0 1411.4 174.9 1417.3 177.9 C1423.1 180.9 1429.0 183.9 1434.8 187.0 C1440.7 190.1 1446.6 193.2 1452.4 196.4 C1458.3 199.5 1464.1 202.8 1470.0 206.0 C1475.8 209.3 1481.7 212.6 1487.5 215.9 C1493.4 219.3 1499.2 222.6 1505.1 226.1 C1511.0 229.5 1516.8 233.0 1522.7 236.5 C1528.5 240.0 1534.4 243.5 1540.2 247.1 C1546.1 250.7 1551.9 254.3 1557.8 257.9 C1563.6 261.6 1572.4 267.1 1575.4 269.0" fill="none" stroke="#52c569" stroke-width="2.3" stroke-opacity="0.8078266095955462" stroke-dasharray="2 4.8" stroke-dashoffset="3.7"/>
<path d="M1376.2 80.2 C1378.3 80.7 1384.4 82.1 1388.5 83.1 C1392.5 84.1 1396.6 85.1 1400.7 86.1 C1404.8 87.1 1408.8 88.1 1412.9 89.1 C1417.0 90.1 1421.0 91.2 1425.1 92.3 C1429.2 93.3 1433.3 94.4 1437.3 95.5 C1441.4 96.6 1445.5 97.7 1449.6 98.8 C1453.6 99.9 1457.7 101.1 1461.8 102.2 C1465.8 103.4 1469.9 104.5 1474.0 105.7 C1478.1 106.9 1482.1 108.1 1486.2 109.3 C1490.3 110.5 1494.3 111.8 1498.4 113.0 C1502.5 114.2 1506.6 115.5 1510.6 116.8 C1514.7 118.0 1518.8 119.3 1522.9 120.6 C1526.9 121.9 1531.0 123.3 1535.1 124.6 C1539.1 125.9 1543.2 127.3 1547.3 128.6 C1551.4 130.0 1555.4 131.4 1559.5 132.8 C1563.6 134.2 1567.7 135.6 1571.7 137.0 C1575.8 138.4 1579.9 139.9 1583.9 141.3 C1588.0 142.8 1592.1 144.3 1596.2 145.8 C1600.2 147.2 1604.3 148.7 1608.4 150.3 C1612.4 151.8 1616.5 153.3 1620.6 154.8 C1624.7 156.4 1628.7 158.0 1632.8 159.5 C1636.9 161.1 1641.0 162.7 1645.0 164.3 C1649.1 165.9 1653.2 167.5 1657.2 169.2 C1661.3 170.8 1667.4 173.3 1669.5 174.1" fill="none" stroke="#228d8d" stroke-width="2.3" stroke-opacity="0.969372751491133" stroke-dasharray="3.0 1.7" stroke-dashoffset="3.2"/><path d="M1376.2 80.2 C1378.3 80.7 1384.4 82.1 1388.5 83.1 C1392.5 84.1 1396.6 85.1 1400.7 86.1 C1404.8 87.1 1408.8 88.1 1412.9 89.1 C1417.0 90.1 1421.0 91.2 1425.1 92.3 C1429.2 93.3 1433.3 94.4 1437.3 95.5 C1441.4 96.6 1445.5 97.7 1449.6 98.8 C1453.6 99.9 1457.7 101.1 1461.8 102.2 C1465.8 103.4 1469.9 104.5 1474.0 105.7 C1478.1 106.9 1482.1 108.1 1486.2 109.3 C1490.3 110.5 1494.3 111.8 1498.4 113.0 C1502.5 114.2 1506.6 115.5 1510.6 116.8 C1514.7 118.0 1518.8 119.3 1522.9 120.6 C1526.9 121.9 1531.0 123.3 1535.1 124.6 C1539.1 125.9 1543.2 127.3 1547.3 128.6 C1551.4 130.0 1555.4 131.4 1559.5 132.8 C1563.6 134.2 1567.7 135.6 1571.7 137.0 C1575.8 138.4 1579.9 139.9 1583.9 141.3 C1588.0 142.8 1592.1 144.3 1596.2 145.8 C1600.2 147.2 1604.3 148.7 1608.4 150.3 C1612.4 151.8 1616.5 153.3 1620.6 154.8 C1624.7 156.4 1628.7 158.0 1632.8 159.5 C1636.9 161.1 1641.0 162.7 1645.0 164.3 C1649.1 165.9 1653.2 167.5 1657.2 169.2 C1661.3 170.8 1667.4 173.3 1669.5 174.1" fill="none" stroke="#42be71" stroke-width="2.3" stroke-opacity="0.969372751491133" stroke-dasharray="2 4.9" stroke-dashoffset="2.0"/>
<path d="M1515.9 83.7 C1516.9 83.8 1520.1 84.3 1522.3 84.6 C1524.4 84.9 1526.5 85.2 1528.7 85.5 C1530.8 85.8 1532.9 86.1 1535.1 86.5 C1537.2 86.8 1539.3 87.2 1541.5 87.5 C1543.6 87.9 1545.7 88.2 1547.9 88.6 C1550.0 89.0 1552.1 89.4 1554.3 89.8 C1556.4 90.2 1558.5 90.6 1560.7 91.0 C1562.8 91.4 1564.9 91.8 1567.1 92.2 C1569.2 92.7 1571.3 93.1 1573.5 93.5 C1575.6 94.0 1577.7 94.4 1579.9 94.9 C1582.0 95.4 1584.1 95.8 1586.3 96.3 C1588.4 96.8 1590.5 97.3 1592.7 97.8 C1594.8 98.3 1596.9 98.8 1599.1 99.3 C1601.2 99.9 1603.3 100.4 1605.5 100.9 C1607.6 101.5 1609.7 102.0 1611.9 102.6 C1614.0 103.1 1616.1 103.7 1618.3 104.3 C1620.4 104.8 1622.5 105.4 1624.7 106.0 C1626.8 106.6 1628.9 107.2 1631.1 107.8 C1633.2 108.4 1635.3 109.0 1637.5 109.7 C1639.6 110.3 1641.7 110.9 1643.9 111.6 C1646.0 112.2 1648.1 112.9 1650.3 113.5 C1652.4 114.2 1654.5 114.9 1656.7 115.6 C1658.8 116.2 1660.9 116.9 1663.1 117.6 C1665.2 118.3 1668.4 119.4 1669.5 119.8" fill="none" stroke="#23888e" stroke-width="2.3" stroke-opacity="0.8887786093862764" stroke-dasharray="3.9 1.8" stroke-dashoffset="4.2"/><path d="M1515.9 83.7 C1516.9 83.8 1520.1 84.3 1522.3 84.6 C1524.4 84.9 1526.5 85.2 1528.7 85.5 C1530.8 85.8 1532.9 86.1 1535.1 86.5 C1537.2 86.8 1539.3 87.2 1541.5 87.5 C1543.6 87.9 1545.7 88.2 1547.9 88.6 C1550.0 89.0 1552.1 89.4 1554.3 89.8 C1556.4 90.2 1558.5 90.6 1560.7 91.0 C1562.8 91.4 1564.9 91.8 1567.1 92.2 C1569.2 92.7 1571.3 93.1 1573.5 93.5 C1575.6 94.0 1577.7 94.4 1579.9 94.9 C1582.0 95.4 1584.1 95.8 1586.3 96.3 C1588.4 96.8 1590.5 97.3 1592.7 97.8 C1594.8 98.3 1596.9 98.8 1599.1 99.3 C1601.2 99.9 1603.3 100.4 1605.5 100.9 C1607.6 101.5 1609.7 102.0 1611.9 102.6 C1614.0 103.1 1616.1 103.7 1618.3 104.3 C1620.4 104.8 1622.5 105.4 1624.7 106.0 C1626.8 106.6 1628.9 107.2 1631.1 107.8 C1633.2 108.4 1635.3 109.0 1637.5 109.7 C1639.6 110.3 1641.7 110.9 1643.9 111.6 C1646.0 112.2 1648.1 112.9 1650.3 113.5 C1652.4 114.2 1654.5 114.9 1656.7 115.6 C1658.8 116.2 1660.9 116.9 1663.1 117.6 C1665.2 118.3 1668.4 119.4 1669.5 119.8" fill="none" stroke="#4cc26c" stroke-width="2.3" stroke-opacity="0.8887786093862764" stroke-dasharray="2 5.4" stroke-dashoffset="3.0"/>
<path d="M1515.9 87.6 C1516.9 87.7 1520.1 88.1 1522.3 88.4 C1524.4 88.7 1526.5 89.0 1528.7 89.4 C1530.8 89.7 1532.9 90.0 1535.1 90.4 C1537.2 90.7 1539.3 91.0 1541.5 91.4 C1543.6 91.8 1545.7 92.1 1547.9 92.5 C1550.0 92.9 1552.1 93.2 1554.3 93.6 C1556.4 94.0 1558.5 94.4 1560.7 94.8 C1562.8 95.3 1564.9 95.7 1567.1 96.1 C1569.2 96.5 1571.3 97.0 1573.5 97.4 C1575.6 97.9 1577.7 98.3 1579.9 98.8 C1582.0 99.2 1584.1 99.7 1586.3 100.2 C1588.4 100.7 1590.5 101.2 1592.7 101.7 C1594.8 102.2 1596.9 102.7 1599.1 103.2 C1601.2 103.7 1603.3 104.3 1605.5 104.8 C1607.6 105.3 1609.7 105.9 1611.9 106.4 C1614.0 107.0 1616.1 107.6 1618.3 108.1 C1620.4 108.7 1622.5 109.3 1624.7 109.9 C1626.8 110.5 1628.9 111.1 1631.1 111.7 C1633.2 112.3 1635.3 112.9 1637.5 113.5 C1639.6 114.2 1641.7 114.8 1643.9 115.4 C1646.0 116.1 1648.1 116.8 1650.3 117.4 C1652.4 118.1 1654.5 118.8 1656.7 119.4 C1658.8 120.1 1660.9 120.8 1663.1 121.5 C1665.2 122.2 1668.4 123.3 1669.5 123.6" fill="none" stroke="#2c738e" stroke-width="2.0" stroke-opacity="0.6793749774954408" stroke-dasharray="3.4 2.8" stroke-dashoffset="2.7"/>
<line x1="1095.7" x2="1657.5" y1="78.2" y2="78.2" stroke="#d80018" stroke-width="3.8" stroke-dasharray="11.6 5.2"/>
<line x1="1095.7" x2="1657.5" y1="404.0" y2="404.0" stroke="#d80018" stroke-width="3.8" stroke-dasharray="11.6 5.2"/>
</g>
<rect x="1097.0" y="14.7" width="558.5" height="454.6" fill="none" stroke="#000" stroke-width="1.6"/>
<line x1="1089.5" x2="1097.0" y1="48.14" y2="48.14" stroke="#000" stroke-width="1.6"/>
<text x="1081.5" y="59.3" text-anchor="end" style="font-family:'DejaVu Sans',sans-serif;font-size:27.8px">0.6</text>
<line x1="1089.5" x2="1097.0" y1="112.76" y2="112.76" stroke="#000" stroke-width="1.6"/>
<text x="1081.5" y="124.0" text-anchor="end" style="font-family:'DejaVu Sans',sans-serif;font-size:27.8px">0.4</text>
<line x1="1089.5" x2="1097.0" y1="177.38" y2="177.38" stroke="#000" stroke-width="1.6"/>
<text x="1081.5" y="188.6" text-anchor="end" style="font-family:'DejaVu Sans',sans-serif;font-size:27.8px">0.2</text>
<line x1="1089.5" x2="1097.0" y1="242.00" y2="242.00" stroke="#000" stroke-width="1.6"/>
<text x="1081.5" y="253.2" text-anchor="end" style="font-family:'DejaVu Sans',sans-serif;font-size:27.8px">0.0</text>
<line x1="1089.5" x2="1097.0" y1="306.62" y2="306.62" stroke="#000" stroke-width="1.6"/>
<text x="1081.5" y="317.8" text-anchor="end" style="font-family:'DejaVu Sans',sans-serif;font-size:27.8px">−0.2</text>
<line x1="1089.5" x2="1097.0" y1="371.24" y2="371.24" stroke="#000" stroke-width="1.6"/>
<text x="1081.5" y="382.4" text-anchor="end" style="font-family:'DejaVu Sans',sans-serif;font-size:27.8px">−0.4</text>
<line x1="1089.5" x2="1097.0" y1="435.86" y2="435.86" stroke="#000" stroke-width="1.6"/>
<text x="1081.5" y="447.1" text-anchor="end" style="font-family:'DejaVu Sans',sans-serif;font-size:27.8px">−0.6</text>
<line x1="1097.00" x2="1097.00" y1="469.3" y2="477.8" stroke="#000" stroke-width="1.6"/>
<text x="1098.00" y="507.8" text-anchor="middle" style="font-family:'DejaVu Sans',sans-serif;font-size:27.8px">0</text>
<line x1="1236.62" x2="1236.62" y1="469.3" y2="477.8" stroke="#000" stroke-width="1.6"/>
<text x="1237.62" y="507.8" text-anchor="middle" style="font-family:'DejaVu Sans',sans-serif;font-size:27.8px">1</text>
<line x1="1376.25" x2="1376.25" y1="469.3" y2="477.8" stroke="#000" stroke-width="1.6"/>
<text x="1377.25" y="507.8" text-anchor="middle" style="font-family:'DejaVu Sans',sans-serif;font-size:27.8px">2</text>
<line x1="1515.88" x2="1515.88" y1="469.3" y2="477.8" stroke="#000" stroke-width="1.6"/>
<text x="1516.88" y="507.8" text-anchor="middle" style="font-family:'DejaVu Sans',sans-serif;font-size:27.8px">3</text>
<line x1="1655.50" x2="1655.50" y1="469.3" y2="477.8" stroke="#000" stroke-width="1.6"/>
<text x="1656.50" y="507.8" text-anchor="middle" style="font-family:'DejaVu Sans',sans-serif;font-size:27.8px">4</text>
<text x="1374.8" y="544.9" text-anchor="middle" style="font-family:'DejaVu Sans',sans-serif;font-size:29.2px">V/t</text>
<text transform="translate(993.6,245.0) rotate(-90)" text-anchor="middle" style="font-family:'DejaVu Sans',sans-serif;font-size:29.2px">energy [t]</text>
<rect x="1690.8" y="14.7" width="22.9" height="454.6" fill="url(#cbb)" stroke="#000" stroke-width="1.6"/>
<line x1="1713.7" x2="1722.2" y1="463.10" y2="463.10" stroke="#000" stroke-width="1.6"/>
<text x="1728.7" y="476.5" style="font-family:'DejaVu Sans',sans-serif;font-size:27.8px">10<tspan dx="0.7" dy="-10.3" style="font-size:20.5px">−</tspan><tspan dx="2" style="font-size:20.5px">3</tspan></text>
<line x1="1713.7" x2="1718.5" y1="435.80" y2="435.80" stroke="#000" stroke-width="1.2"/>
<line x1="1713.7" x2="1718.5" y1="419.83" y2="419.83" stroke="#000" stroke-width="1.2"/>
<line x1="1713.7" x2="1718.5" y1="408.49" y2="408.49" stroke="#000" stroke-width="1.2"/>
<line x1="1713.7" x2="1718.5" y1="399.70" y2="399.70" stroke="#000" stroke-width="1.2"/>
<line x1="1713.7" x2="1718.5" y1="392.52" y2="392.52" stroke="#000" stroke-width="1.2"/>
<line x1="1713.7" x2="1718.5" y1="386.45" y2="386.45" stroke="#000" stroke-width="1.2"/>
<line x1="1713.7" x2="1718.5" y1="381.19" y2="381.19" stroke="#000" stroke-width="1.2"/>
<line x1="1713.7" x2="1718.5" y1="376.55" y2="376.55" stroke="#000" stroke-width="1.2"/>
<line x1="1713.7" x2="1722.2" y1="372.40" y2="372.40" stroke="#000" stroke-width="1.6"/>
<text x="1728.7" y="385.8" style="font-family:'DejaVu Sans',sans-serif;font-size:27.8px">10<tspan dx="0.7" dy="-10.3" style="font-size:20.5px">−</tspan><tspan dx="2" style="font-size:20.5px">2</tspan></text>
<line x1="1713.7" x2="1718.5" y1="345.10" y2="345.10" stroke="#000" stroke-width="1.2"/>
<line x1="1713.7" x2="1718.5" y1="329.13" y2="329.13" stroke="#000" stroke-width="1.2"/>
<line x1="1713.7" x2="1718.5" y1="317.79" y2="317.79" stroke="#000" stroke-width="1.2"/>
<line x1="1713.7" x2="1718.5" y1="309.00" y2="309.00" stroke="#000" stroke-width="1.2"/>
<line x1="1713.7" x2="1718.5" y1="301.82" y2="301.82" stroke="#000" stroke-width="1.2"/>
<line x1="1713.7" x2="1718.5" y1="295.75" y2="295.75" stroke="#000" stroke-width="1.2"/>
<line x1="1713.7" x2="1718.5" y1="290.49" y2="290.49" stroke="#000" stroke-width="1.2"/>
<line x1="1713.7" x2="1718.5" y1="285.85" y2="285.85" stroke="#000" stroke-width="1.2"/>
<line x1="1713.7" x2="1722.2" y1="281.70" y2="281.70" stroke="#000" stroke-width="1.6"/>
<text x="1728.7" y="295.1" style="font-family:'DejaVu Sans',sans-serif;font-size:27.8px">10<tspan dx="0.7" dy="-10.3" style="font-size:20.5px">−</tspan><tspan dx="2" style="font-size:20.5px">1</tspan></text>
<line x1="1713.7" x2="1718.5" y1="254.40" y2="254.40" stroke="#000" stroke-width="1.2"/>
<line x1="1713.7" x2="1718.5" y1="238.43" y2="238.43" stroke="#000" stroke-width="1.2"/>
<line x1="1713.7" x2="1718.5" y1="227.09" y2="227.09" stroke="#000" stroke-width="1.2"/>
<line x1="1713.7" x2="1718.5" y1="218.30" y2="218.30" stroke="#000" stroke-width="1.2"/>
<line x1="1713.7" x2="1718.5" y1="211.12" y2="211.12" stroke="#000" stroke-width="1.2"/>
<line x1="1713.7" x2="1718.5" y1="205.05" y2="205.05" stroke="#000" stroke-width="1.2"/>
<line x1="1713.7" x2="1718.5" y1="199.79" y2="199.79" stroke="#000" stroke-width="1.2"/>
<line x1="1713.7" x2="1718.5" y1="195.15" y2="195.15" stroke="#000" stroke-width="1.2"/>
<line x1="1713.7" x2="1722.2" y1="191.00" y2="191.00" stroke="#000" stroke-width="1.6"/>
<text x="1728.7" y="204.4" style="font-family:'DejaVu Sans',sans-serif;font-size:27.8px">10<tspan dx="0.8" dy="-10.3" style="font-size:20.5px">0</tspan></text>
<line x1="1713.7" x2="1718.5" y1="163.70" y2="163.70" stroke="#000" stroke-width="1.2"/>
<line x1="1713.7" x2="1718.5" y1="147.73" y2="147.73" stroke="#000" stroke-width="1.2"/>
<line x1="1713.7" x2="1718.5" y1="136.39" y2="136.39" stroke="#000" stroke-width="1.2"/>
<line x1="1713.7" x2="1718.5" y1="127.60" y2="127.60" stroke="#000" stroke-width="1.2"/>
<line x1="1713.7" x2="1718.5" y1="120.42" y2="120.42" stroke="#000" stroke-width="1.2"/>
<line x1="1713.7" x2="1718.5" y1="114.35" y2="114.35" stroke="#000" stroke-width="1.2"/>
<line x1="1713.7" x2="1718.5" y1="109.09" y2="109.09" stroke="#000" stroke-width="1.2"/>
<line x1="1713.7" x2="1718.5" y1="104.45" y2="104.45" stroke="#000" stroke-width="1.2"/>
<line x1="1713.7" x2="1722.2" y1="100.30" y2="100.30" stroke="#000" stroke-width="1.6"/>
<text x="1728.7" y="113.7" style="font-family:'DejaVu Sans',sans-serif;font-size:27.8px">10<tspan dx="0.8" dy="-10.3" style="font-size:20.5px">1</tspan></text>
<line x1="1713.7" x2="1718.5" y1="73.00" y2="73.00" stroke="#000" stroke-width="1.2"/>
<line x1="1713.7" x2="1718.5" y1="57.03" y2="57.03" stroke="#000" stroke-width="1.2"/>
<line x1="1713.7" x2="1718.5" y1="45.69" y2="45.69" stroke="#000" stroke-width="1.2"/>
<line x1="1713.7" x2="1718.5" y1="36.90" y2="36.90" stroke="#000" stroke-width="1.2"/>
<line x1="1713.7" x2="1718.5" y1="29.72" y2="29.72" stroke="#000" stroke-width="1.2"/>
<line x1="1713.7" x2="1718.5" y1="23.65" y2="23.65" stroke="#000" stroke-width="1.2"/>
<line x1="1713.7" x2="1718.5" y1="18.39" y2="18.39" stroke="#000" stroke-width="1.2"/>
<text transform="translate(1825.7,244.4) rotate(-90)" text-anchor="middle" style="font-family:'DejaVu Sans',sans-serif;font-size:29.2px">LDOS [a.u.]</text>
<text x="978.2" y="567" style="font-family:'Liberation Serif',serif;font-size:42px">(b)</text>
<g clip-path="url(#clipc)">
<rect x="140.3" y="593.0" width="558.7" height="454.5" fill="#440154"/>
<g clip-path="url(#cl24)"><rect x="140.3" y="593.0" width="558.7" height="454.5" filter="url(#nzSc)" /></g>
<g clip-path="url(#cl25)"><rect x="140.3" y="593.0" width="558.7" height="454.5" filter="url(#nzLc)" /></g>
<rect x="140.3" y="982.7" width="561.5" height="70.1" fill="url(#fdc)"/>
<g clip-path="url(#cbc)"><ellipse cx="342.8" cy="1033.4" rx="62.8" ry="29.1" fill="url(#glow)" opacity="0.8"/><ellipse cx="461.6" cy="1014.1" rx="55.8" ry="25.8" fill="url(#glow)" opacity="0.4"/></g>
<g clip-path="url(#cuc)"><ellipse cx="391.7" cy="632.8" rx="27.9" ry="38.8" fill="url(#glow)" opacity="0.8"/><ellipse cx="321.9" cy="607.0" rx="69.8" ry="16.2" fill="url(#glow)" opacity="0.4"/></g>
<path d="M140.3 820.2 C148.1 820.3 171.3 820.4 186.9 820.5 C202.4 820.7 217.9 820.8 233.4 820.9 C248.9 821.0 264.5 821.1 280.0 821.2 C295.5 821.3 311.0 821.4 326.5 821.6 C342.1 821.7 357.6 821.8 373.1 821.9 C388.6 822.0 404.1 822.1 419.7 822.2 C435.2 822.4 450.7 822.5 466.2 822.6 C481.7 822.7 497.2 822.8 512.8 822.9 C528.3 823.0 543.8 823.1 559.3 823.3 C574.8 823.4 590.4 823.5 605.9 823.6 C621.4 823.7 636.9 823.8 652.4 823.9 C668.0 824.0 691.2 824.2 699.0 824.3" fill="none" stroke="#23888e" stroke-width="2.2" stroke-opacity="0.85" stroke-dasharray="7.9 10.7" stroke-dashoffset="0.9"/>
<path d="M140.3 820.2 C148.1 820.3 171.3 820.7 186.9 821.0 C202.4 821.3 217.9 821.5 233.4 821.8 C248.9 822.1 264.5 822.4 280.0 822.6 C295.5 822.9 311.0 823.2 326.5 823.4 C342.1 823.7 357.6 824.0 373.1 824.2 C388.6 824.5 404.1 824.8 419.7 825.1 C435.2 825.3 450.7 825.6 466.2 825.9 C481.7 826.1 497.2 826.4 512.8 826.7 C528.3 826.9 543.8 827.2 559.3 827.5 C574.8 827.7 590.4 828.0 605.9 828.3 C621.4 828.6 636.9 828.8 652.4 829.1 C668.0 829.4 691.2 829.8 699.0 829.9" fill="none" stroke="#25838e" stroke-width="2.2" stroke-opacity="0.85" stroke-dasharray="7.5 9.6" stroke-dashoffset="13.1"/>
<path d="M140.3 820.2 C148.1 820.4 171.3 821.0 186.9 821.4 C202.4 821.8 217.9 822.2 233.4 822.6 C248.9 823.0 264.5 823.4 280.0 823.8 C295.5 824.2 311.0 824.6 326.5 824.9 C342.1 825.3 357.6 825.7 373.1 826.1 C388.6 826.5 404.1 826.9 419.7 827.3 C435.2 827.7 450.7 828.1 466.2 828.5 C481.7 828.9 497.2 829.3 512.8 829.7 C528.3 830.1 543.8 830.5 559.3 830.9 C574.8 831.3 590.4 831.7 605.9 832.1 C621.4 832.5 636.9 832.9 652.4 833.3 C668.0 833.7 691.2 834.2 699.0 834.4" fill="none" stroke="#2a788e" stroke-width="2.2" stroke-opacity="0.85" stroke-dasharray="10.7 12.9" stroke-dashoffset="8.0"/>
<path d="M140.3 820.2 C148.1 820.5 171.3 821.3 186.9 821.9 C202.4 822.5 217.9 823.0 233.4 823.6 C248.9 824.1 264.5 824.7 280.0 825.3 C295.5 825.8 311.0 826.4 326.5 827.0 C342.1 827.5 357.6 828.1 373.1 828.6 C388.6 829.2 404.1 829.8 419.7 830.3 C435.2 830.9 450.7 831.5 466.2 832.0 C481.7 832.6 497.2 833.2 512.8 833.7 C528.3 834.3 543.8 834.8 559.3 835.4 C574.8 836.0 590.4 836.5 605.9 837.1 C621.4 837.7 636.9 838.2 652.4 838.8 C668.0 839.3 691.2 840.2 699.0 840.5" fill="none" stroke="#287d8e" stroke-width="2.2" stroke-opacity="0.85" stroke-dasharray="6.3 8.1" stroke-dashoffset="17.7"/>
<path d="M140.3 820.2 C148.1 820.5 171.3 821.6 186.9 822.3 C202.4 823.0 217.9 823.7 233.4 824.4 C248.9 825.0 264.5 825.7 280.0 826.4 C295.5 827.1 311.0 827.8 326.5 828.5 C342.1 829.2 357.6 829.9 373.1 830.6 C388.6 831.3 404.1 832.0 419.7 832.7 C435.2 833.3 450.7 834.0 466.2 834.7 C481.7 835.4 497.2 836.1 512.8 836.8 C528.3 837.5 543.8 838.2 559.3 838.9 C574.8 839.6 590.4 840.3 605.9 841.0 C621.4 841.6 636.9 842.3 652.4 843.0 C668.0 843.7 691.2 844.8 699.0 845.1" fill="none" stroke="#33638d" stroke-width="2.2" stroke-opacity="0.85" stroke-dasharray="10.0 11.2" stroke-dashoffset="7.4"/>
<ellipse cx="664.1" cy="836.4" rx="41.9" ry="12.9" fill="url(#glow)" opacity="0.5"/>
<path d="M140.3 820.2 C148.1 820.5 171.3 821.4 186.9 822.0 C202.4 822.6 217.9 823.3 233.4 823.9 C248.9 824.5 264.5 825.1 280.0 825.7 C295.5 826.3 311.0 826.9 326.5 827.5 C342.1 828.1 357.6 828.7 373.1 829.4 C388.6 830.0 404.1 830.6 419.7 831.2 C435.2 831.8 450.7 832.4 466.2 833.0 C481.7 833.6 497.2 834.2 512.8 834.8 C528.3 835.5 543.8 836.1 559.3 836.7 C574.8 837.3 590.4 837.9 605.9 838.5 C621.4 839.1 636.9 839.7 652.4 840.3 C668.0 841.0 691.2 841.9 699.0 842.2" fill="none" stroke="#2c738e" stroke-width="1.8" stroke-opacity="0.85" stroke-dasharray="5 3.5" />
<path d="M140.3 820.2 C148.1 820.6 171.3 821.9 186.9 822.8 C202.4 823.6 217.9 824.5 233.4 825.4 C248.9 826.2 264.5 827.1 280.0 828.0 C295.5 828.8 311.0 829.7 326.5 830.5 C342.1 831.4 357.6 832.3 373.1 833.1 C388.6 834.0 404.1 834.8 419.7 835.7 C435.2 836.6 450.7 837.4 466.2 838.3 C481.7 839.2 497.2 840.0 512.8 840.9 C528.3 841.7 543.8 842.6 559.3 843.5 C574.8 844.3 590.4 845.2 605.9 846.0 C621.4 846.9 636.9 847.8 652.4 848.6 C668.0 849.5 691.2 850.8 699.0 851.2" fill="none" stroke="#2c738e" stroke-width="1.8" stroke-opacity="0.85" stroke-dasharray="5 3.5" />
<path d="M140.3 820.2 C148.1 820.9 171.3 822.9 186.9 824.3 C202.4 825.7 217.9 827.0 233.4 828.4 C248.9 829.7 264.5 831.1 280.0 832.5 C295.5 833.8 311.0 835.2 326.5 836.6 C342.1 837.9 357.6 839.3 373.1 840.7 C388.6 842.0 404.1 843.4 419.7 844.8 C435.2 846.1 450.7 847.5 466.2 848.8 C481.7 850.2 497.2 851.6 512.8 852.9 C528.3 854.3 543.8 855.7 559.3 857.0 C574.8 858.4 590.4 859.8 605.9 861.1 C621.4 862.5 636.9 863.9 652.4 865.2 C668.0 866.6 691.2 868.6 699.0 869.3" fill="none" stroke="#25848e" stroke-width="1.9" stroke-opacity="0.95" stroke-dasharray="6 2.5" />
<path d="M140.3 820.2 C148.1 821.1 171.3 823.9 186.9 825.7 C202.4 827.5 217.9 829.4 233.4 831.2 C248.9 833.0 264.5 834.8 280.0 836.7 C295.5 838.5 311.0 840.3 326.5 842.2 C342.1 844.0 357.6 845.8 373.1 847.7 C388.6 849.5 404.1 851.3 419.7 853.2 C435.2 855.0 450.7 856.8 466.2 858.6 C481.7 860.5 497.2 862.3 512.8 864.1 C528.3 866.0 543.8 867.8 559.3 869.6 C574.8 871.5 590.4 873.3 605.9 875.1 C621.4 877.0 636.9 878.8 652.4 880.6 C668.0 882.5 691.2 885.2 699.0 886.1" fill="none" stroke="#2c738e" stroke-width="1.8" stroke-opacity="0.85" stroke-dasharray="5 3.5" />
<path d="M140.3 820.2 C148.1 821.2 171.3 824.4 186.9 826.4 C202.4 828.5 217.9 830.6 233.4 832.7 C248.9 834.8 264.5 836.9 280.0 838.9 C295.5 841.0 311.0 843.1 326.5 845.2 C342.1 847.3 357.6 849.4 373.1 851.4 C388.6 853.5 404.1 855.6 419.7 857.7 C435.2 859.8 450.7 861.8 466.2 863.9 C481.7 866.0 497.2 868.1 512.8 870.2 C528.3 872.3 543.8 874.3 559.3 876.4 C574.8 878.5 590.4 880.6 605.9 882.7 C621.4 884.7 636.9 886.8 652.4 888.9 C668.0 891.0 691.2 894.1 699.0 895.2" fill="none" stroke="#2c738e" stroke-width="1.8" stroke-opacity="0.85" stroke-dasharray="5 3.5" />
<path d="M140.3 820.2 C148.2 822.0 171.7 827.5 187.4 831.1 C203.2 834.7 218.9 838.4 234.6 842.0 C250.3 845.6 266.0 849.3 281.7 852.9 C297.4 856.5 313.1 860.2 328.9 863.8 C344.6 867.5 360.3 871.1 376.0 874.7 C391.7 878.4 407.4 882.0 423.1 885.6 C438.9 889.3 454.6 892.9 470.3 896.5 C486.0 900.2 501.7 903.8 517.4 907.4 C533.1 911.1 548.8 914.7 564.6 918.3 C580.3 922.0 596.0 925.6 611.7 929.2 C627.4 932.9 643.1 936.5 658.8 940.2 C674.6 943.8 698.1 949.2 706.0 951.1" fill="none" stroke="#287c8e" stroke-width="2.3" stroke-opacity="0.9445010331785133" stroke-dasharray="3.2 1.2" stroke-dashoffset="2.8"/><path d="M140.3 820.2 C148.2 822.0 171.7 827.5 187.4 831.1 C203.2 834.7 218.9 838.4 234.6 842.0 C250.3 845.6 266.0 849.3 281.7 852.9 C297.4 856.5 313.1 860.2 328.9 863.8 C344.6 867.5 360.3 871.1 376.0 874.7 C391.7 878.4 407.4 882.0 423.1 885.6 C438.9 889.3 454.6 892.9 470.3 896.5 C486.0 900.2 501.7 903.8 517.4 907.4 C533.1 911.1 548.8 914.7 564.6 918.3 C580.3 922.0 596.0 925.6 611.7 929.2 C627.4 932.9 643.1 936.5 658.8 940.2 C674.6 943.8 698.1 949.2 706.0 951.1" fill="none" stroke="#28ae80" stroke-width="2.3" stroke-opacity="0.9445010331785133" stroke-dasharray="2 5.4" stroke-dashoffset="4.3"/><path d="M140.3 820.2 C148.2 822.1 171.7 827.9 187.4 831.8 C203.2 835.6 218.9 839.5 234.6 843.3 C250.3 847.2 266.0 851.0 281.7 854.9 C297.4 858.7 313.1 862.6 328.9 866.4 C344.6 870.3 360.3 874.1 376.0 878.0 C391.7 881.8 407.4 885.7 423.1 889.6 C438.9 893.4 454.6 897.3 470.3 901.1 C486.0 905.0 501.7 908.8 517.4 912.7 C533.1 916.5 548.8 920.4 564.6 924.2 C580.3 928.1 596.0 931.9 611.7 935.8 C627.4 939.6 643.1 943.5 658.8 947.3 C674.6 951.2 698.1 957.0 706.0 958.9" fill="none" stroke="#2c738e" stroke-width="2.0" stroke-opacity="0.666695568543898" stroke-dasharray="3.9 2.6" stroke-dashoffset="4.2"/>
<path d="M140.3 820.2 C148.2 822.2 171.7 828.1 187.4 832.0 C203.2 835.9 218.9 839.8 234.6 843.8 C250.3 847.7 266.0 851.6 281.7 855.5 C297.4 859.5 313.1 863.4 328.9 867.3 C344.6 871.2 360.3 875.2 376.0 879.1 C391.7 883.0 407.4 886.9 423.1 890.9 C438.9 894.8 454.6 898.7 470.3 902.6 C486.0 906.6 501.7 910.5 517.4 914.4 C533.1 918.3 548.8 922.3 564.6 926.2 C580.3 930.1 596.0 934.0 611.7 938.0 C627.4 941.9 643.1 945.8 658.8 949.7 C674.6 953.7 698.1 959.6 706.0 961.5" fill="none" stroke="#20928c" stroke-width="2.3" stroke-opacity="0.709160342481223" stroke-dasharray="3.2 1.3" stroke-dashoffset="2.2"/><path d="M140.3 820.2 C148.2 822.2 171.7 828.1 187.4 832.0 C203.2 835.9 218.9 839.8 234.6 843.8 C250.3 847.7 266.0 851.6 281.7 855.5 C297.4 859.5 313.1 863.4 328.9 867.3 C344.6 871.2 360.3 875.2 376.0 879.1 C391.7 883.0 407.4 886.9 423.1 890.9 C438.9 894.8 454.6 898.7 470.3 902.6 C486.0 906.6 501.7 910.5 517.4 914.4 C533.1 918.3 548.8 922.3 564.6 926.2 C580.3 930.1 596.0 934.0 611.7 938.0 C627.4 941.9 643.1 945.8 658.8 949.7 C674.6 953.7 698.1 959.6 706.0 961.5" fill="none" stroke="#4ac16d" stroke-width="2.3" stroke-opacity="0.709160342481223" stroke-dasharray="2 5.4" stroke-dashoffset="0.9"/><path d="M140.3 820.2 C148.2 822.3 171.7 828.5 187.4 832.6 C203.2 836.8 218.9 840.9 234.6 845.1 C250.3 849.2 266.0 853.4 281.7 857.5 C297.4 861.6 313.1 865.8 328.9 869.9 C344.6 874.1 360.3 878.2 376.0 882.4 C391.7 886.5 407.4 890.6 423.1 894.8 C438.9 898.9 454.6 903.1 470.3 907.2 C486.0 911.4 501.7 915.5 517.4 919.7 C533.1 923.8 548.8 927.9 564.6 932.1 C580.3 936.2 596.0 940.4 611.7 944.5 C627.4 948.7 643.1 952.8 658.8 956.9 C674.6 961.1 698.1 967.3 706.0 969.4" fill="none" stroke="#287c8e" stroke-width="2.0" stroke-opacity="0.6496888582506473" stroke-dasharray="3.9 2.2" stroke-dashoffset="4.6"/>
<path d="M140.3 820.2 C148.2 822.5 171.7 829.4 187.4 834.0 C203.2 838.7 218.9 843.3 234.6 847.9 C250.3 852.5 266.0 857.1 281.7 861.7 C297.4 866.4 313.1 871.0 328.9 875.6 C344.6 880.2 360.3 884.8 376.0 889.4 C391.7 894.1 407.4 898.7 423.1 903.3 C438.9 907.9 454.6 912.5 470.3 917.1 C486.0 921.8 501.7 926.4 517.4 931.0 C533.1 935.6 548.8 940.2 564.6 944.8 C580.3 949.5 596.0 954.1 611.7 958.7 C627.4 963.3 643.1 967.9 658.8 972.5 C674.6 977.2 698.1 984.1 706.0 986.4" fill="none" stroke="#23888e" stroke-width="2.3" stroke-opacity="0.918474353436038" stroke-dasharray="2.5 1.5" stroke-dashoffset="0.7"/><path d="M140.3 820.2 C148.2 822.5 171.7 829.4 187.4 834.0 C203.2 838.7 218.9 843.3 234.6 847.9 C250.3 852.5 266.0 857.1 281.7 861.7 C297.4 866.4 313.1 871.0 328.9 875.6 C344.6 880.2 360.3 884.8 376.0 889.4 C391.7 894.1 407.4 898.7 423.1 903.3 C438.9 907.9 454.6 912.5 470.3 917.1 C486.0 921.8 501.7 926.4 517.4 931.0 C533.1 935.6 548.8 940.2 564.6 944.8 C580.3 949.5 596.0 954.1 611.7 958.7 C627.4 963.3 643.1 967.9 658.8 972.5 C674.6 977.2 698.1 984.1 706.0 986.4" fill="none" stroke="#26ad81" stroke-width="2.3" stroke-opacity="0.918474353436038" stroke-dasharray="2 5.1" stroke-dashoffset="1.8"/><path d="M140.3 820.2 C148.2 822.6 171.7 829.9 187.4 834.7 C203.2 839.5 218.9 844.4 234.6 849.2 C250.3 854.0 266.0 858.9 281.7 863.7 C297.4 868.5 313.1 873.4 328.9 878.2 C344.6 883.0 360.3 887.9 376.0 892.7 C391.7 897.6 407.4 902.4 423.1 907.2 C438.9 912.1 454.6 916.9 470.3 921.7 C486.0 926.6 501.7 931.4 517.4 936.2 C533.1 941.1 548.8 945.9 564.6 950.7 C580.3 955.6 596.0 960.4 611.7 965.2 C627.4 970.1 643.1 974.9 658.8 979.7 C674.6 984.6 698.1 991.8 706.0 994.2" fill="none" stroke="#27808e" stroke-width="2.0" stroke-opacity="0.6721480811741284" stroke-dasharray="3.4 2.6" stroke-dashoffset="1.5"/>
<path d="M140.3 820.2 C148.2 822.6 171.7 829.7 187.4 834.5 C203.2 839.2 218.9 844.0 234.6 848.8 C250.3 853.5 266.0 858.3 281.7 863.1 C297.4 867.8 313.1 872.6 328.9 877.3 C344.6 882.1 360.3 886.9 376.0 891.6 C391.7 896.4 407.4 901.1 423.1 905.9 C438.9 910.7 454.6 915.4 470.3 920.2 C486.0 925.0 501.7 929.7 517.4 934.5 C533.1 939.2 548.8 944.0 564.6 948.8 C580.3 953.5 596.0 958.3 611.7 963.1 C627.4 967.8 643.1 972.6 658.8 977.3 C674.6 982.1 698.1 989.2 706.0 991.6" fill="none" stroke="#26818e" stroke-width="2.3" stroke-opacity="0.7319156301638924" stroke-dasharray="3.0 1.1" stroke-dashoffset="0.9"/><path d="M140.3 820.2 C148.2 822.6 171.7 829.7 187.4 834.5 C203.2 839.2 218.9 844.0 234.6 848.8 C250.3 853.5 266.0 858.3 281.7 863.1 C297.4 867.8 313.1 872.6 328.9 877.3 C344.6 882.1 360.3 886.9 376.0 891.6 C391.7 896.4 407.4 901.1 423.1 905.9 C438.9 910.7 454.6 915.4 470.3 920.2 C486.0 925.0 501.7 929.7 517.4 934.5 C533.1 939.2 548.8 944.0 564.6 948.8 C580.3 953.5 596.0 958.3 611.7 963.1 C627.4 967.8 643.1 972.6 658.8 977.3 C674.6 982.1 698.1 989.2 706.0 991.6" fill="none" stroke="#24aa83" stroke-width="2.3" stroke-opacity="0.7319156301638924" stroke-dasharray="2 4.8" stroke-dashoffset="4.4"/><path d="M140.3 820.2 C148.2 822.7 171.7 830.2 187.4 835.1 C203.2 840.1 218.9 845.1 234.6 850.1 C250.3 855.1 266.0 860.0 281.7 865.0 C297.4 870.0 313.1 875.0 328.9 880.0 C344.6 884.9 360.3 889.9 376.0 894.9 C391.7 899.9 407.4 904.9 423.1 909.8 C438.9 914.8 454.6 919.8 470.3 924.8 C486.0 929.8 501.7 934.7 517.4 939.7 C533.1 944.7 548.8 949.7 564.6 954.7 C580.3 959.6 596.0 964.6 611.7 969.6 C627.4 974.6 643.1 979.6 658.8 984.5 C674.6 989.5 698.1 997.0 706.0 999.5" fill="none" stroke="#2d708e" stroke-width="2.0" stroke-opacity="0.6104140307630459" stroke-dasharray="3.4 2.7" stroke-dashoffset="4.8"/>
<path d="M140.3 820.2 C148.2 823.1 171.7 831.7 187.4 837.4 C203.2 843.2 218.9 848.9 234.6 854.7 C250.3 860.4 266.0 866.1 281.7 871.9 C297.4 877.6 313.1 883.4 328.9 889.1 C344.6 894.9 360.3 900.6 376.0 906.3 C391.7 912.1 407.4 917.8 423.1 923.6 C438.9 929.3 454.6 935.1 470.3 940.8 C486.0 946.5 501.7 952.3 517.4 958.0 C533.1 963.8 548.8 969.5 564.6 975.3 C580.3 981.0 596.0 986.7 611.7 992.5 C627.4 998.2 643.1 1004.0 658.8 1009.7 C674.6 1015.5 698.1 1024.1 706.0 1027.0" fill="none" stroke="#277f8e" stroke-width="2.3" stroke-opacity="0.8839536870471105" stroke-dasharray="3.7 1.1" stroke-dashoffset="3.5"/><path d="M140.3 820.2 C148.2 823.1 171.7 831.7 187.4 837.4 C203.2 843.2 218.9 848.9 234.6 854.7 C250.3 860.4 266.0 866.1 281.7 871.9 C297.4 877.6 313.1 883.4 328.9 889.1 C344.6 894.9 360.3 900.6 376.0 906.3 C391.7 912.1 407.4 917.8 423.1 923.6 C438.9 929.3 454.6 935.1 470.3 940.8 C486.0 946.5 501.7 952.3 517.4 958.0 C533.1 963.8 548.8 969.5 564.6 975.3 C580.3 981.0 596.0 986.7 611.7 992.5 C627.4 998.2 643.1 1004.0 658.8 1009.7 C674.6 1015.5 698.1 1024.1 706.0 1027.0" fill="none" stroke="#25ac82" stroke-width="2.3" stroke-opacity="0.8839536870471105" stroke-dasharray="2 4.2" stroke-dashoffset="2.5"/><path d="M140.3 820.2 C148.2 823.2 171.7 832.1 187.4 838.1 C203.2 844.0 218.9 850.0 234.6 856.0 C250.3 861.9 266.0 867.9 281.7 873.9 C297.4 879.8 313.1 885.8 328.9 891.7 C344.6 897.7 360.3 903.7 376.0 909.6 C391.7 915.6 407.4 921.5 423.1 927.5 C438.9 933.5 454.6 939.4 470.3 945.4 C486.0 951.3 501.7 957.3 517.4 963.3 C533.1 969.2 548.8 975.2 564.6 981.2 C580.3 987.1 596.0 993.1 611.7 999.0 C627.4 1005.0 643.1 1011.0 658.8 1016.9 C674.6 1022.9 698.1 1031.8 706.0 1034.8" fill="none" stroke="#2b748e" stroke-width="2.0" stroke-opacity="0.6505792736413438" stroke-dasharray="2.5 2.7" stroke-dashoffset="2.3"/>
<path d="M140.3 820.2 C148.2 823.2 171.7 832.0 187.4 838.0 C203.2 843.9 218.9 849.8 234.6 855.7 C250.3 861.7 266.0 867.6 281.7 873.5 C297.4 879.4 313.1 885.4 328.9 891.3 C344.6 897.2 360.3 903.1 376.0 909.1 C391.7 915.0 407.4 920.9 423.1 926.8 C438.9 932.8 454.6 938.7 470.3 944.6 C486.0 950.5 501.7 956.5 517.4 962.4 C533.1 968.3 548.8 974.2 564.6 980.2 C580.3 986.1 596.0 992.0 611.7 997.9 C627.4 1003.9 643.1 1009.8 658.8 1015.7 C674.6 1021.6 698.1 1030.5 706.0 1033.5" fill="none" stroke="#297a8e" stroke-width="2.3" stroke-opacity="0.8739798234170529" stroke-dasharray="3.4 1.3" stroke-dashoffset="3.0"/><path d="M140.3 820.2 C148.2 823.2 171.7 832.0 187.4 838.0 C203.2 843.9 218.9 849.8 234.6 855.7 C250.3 861.7 266.0 867.6 281.7 873.5 C297.4 879.4 313.1 885.4 328.9 891.3 C344.6 897.2 360.3 903.1 376.0 909.1 C391.7 915.0 407.4 920.9 423.1 926.8 C438.9 932.8 454.6 938.7 470.3 944.6 C486.0 950.5 501.7 956.5 517.4 962.4 C533.1 968.3 548.8 974.2 564.6 980.2 C580.3 986.1 596.0 992.0 611.7 997.9 C627.4 1003.9 643.1 1009.8 658.8 1015.7 C674.6 1021.6 698.1 1030.5 706.0 1033.5" fill="none" stroke="#56c667" stroke-width="2.3" stroke-opacity="0.8739798234170529" stroke-dasharray="2 6.0" stroke-dashoffset="0.2"/><path d="M140.3 820.2 C148.2 823.3 171.7 832.5 187.4 838.6 C203.2 844.8 218.9 850.9 234.6 857.1 C250.3 863.2 266.0 869.3 281.7 875.5 C297.4 881.6 313.1 887.8 328.9 893.9 C344.6 900.1 360.3 906.2 376.0 912.3 C391.7 918.5 407.4 924.6 423.1 930.8 C438.9 936.9 454.6 943.1 470.3 949.2 C486.0 955.3 501.7 961.5 517.4 967.6 C533.1 973.8 548.8 979.9 564.6 986.1 C580.3 992.2 596.0 998.3 611.7 1004.5 C627.4 1010.6 643.1 1016.8 658.8 1022.9 C674.6 1029.1 698.1 1038.3 706.0 1041.3" fill="none" stroke="#26818e" stroke-width="2.0" stroke-opacity="0.8572763476082648" stroke-dasharray="2.6 2.1" stroke-dashoffset="2.9"/>
<path d="M140.3 820.2 C145.2 823.4 159.9 833.1 169.7 839.6 C179.5 846.0 189.3 852.5 199.1 859.0 C208.9 865.4 218.7 871.9 228.5 878.4 C238.3 884.8 248.1 891.3 257.9 897.7 C267.7 904.2 277.5 910.7 287.3 917.1 C297.1 923.6 306.9 930.1 316.7 936.5 C326.5 943.0 336.3 949.4 346.1 955.9 C355.9 962.4 365.7 968.8 375.5 975.3 C385.3 981.8 395.1 988.2 404.9 994.7 C414.7 1001.1 424.6 1007.6 434.4 1014.1 C444.2 1020.5 454.0 1027.0 463.8 1033.4 C473.6 1039.9 488.3 1049.6 493.2 1052.8" fill="none" stroke="#26818e" stroke-width="2.3" stroke-opacity="0.9756520692912137" stroke-dasharray="3.8 1.8" stroke-dashoffset="0.8"/><path d="M140.3 820.2 C145.2 823.4 159.9 833.1 169.7 839.6 C179.5 846.0 189.3 852.5 199.1 859.0 C208.9 865.4 218.7 871.9 228.5 878.4 C238.3 884.8 248.1 891.3 257.9 897.7 C267.7 904.2 277.5 910.7 287.3 917.1 C297.1 923.6 306.9 930.1 316.7 936.5 C326.5 943.0 336.3 949.4 346.1 955.9 C355.9 962.4 365.7 968.8 375.5 975.3 C385.3 981.8 395.1 988.2 404.9 994.7 C414.7 1001.1 424.6 1007.6 434.4 1014.1 C444.2 1020.5 454.0 1027.0 463.8 1033.4 C473.6 1039.9 488.3 1049.6 493.2 1052.8" fill="none" stroke="#56c667" stroke-width="2.3" stroke-opacity="0.9756520692912137" stroke-dasharray="2 3.0" stroke-dashoffset="0.7"/>
<path d="M140.3 820.2 C144.4 823.4 156.8 833.1 165.1 839.6 C173.4 846.0 181.6 852.5 189.9 859.0 C198.2 865.4 206.4 871.9 214.7 878.4 C222.9 884.8 231.2 891.3 239.5 897.7 C247.7 904.2 256.0 910.7 264.3 917.1 C272.5 923.6 280.8 930.1 289.1 936.5 C297.3 943.0 305.6 949.4 313.9 955.9 C322.1 962.4 330.4 968.8 338.7 975.3 C346.9 981.8 355.2 988.2 363.4 994.7 C371.7 1001.1 380.0 1007.6 388.2 1014.1 C396.5 1020.5 404.8 1027.0 413.0 1033.4 C421.3 1039.9 433.7 1049.6 437.8 1052.8" fill="none" stroke="#2b758e" stroke-width="2.3" stroke-opacity="0.8994433638660062" stroke-dasharray="2.8 1.1" stroke-dashoffset="2.3"/><path d="M140.3 820.2 C144.4 823.4 156.8 833.1 165.1 839.6 C173.4 846.0 181.6 852.5 189.9 859.0 C198.2 865.4 206.4 871.9 214.7 878.4 C222.9 884.8 231.2 891.3 239.5 897.7 C247.7 904.2 256.0 910.7 264.3 917.1 C272.5 923.6 280.8 930.1 289.1 936.5 C297.3 943.0 305.6 949.4 313.9 955.9 C322.1 962.4 330.4 968.8 338.7 975.3 C346.9 981.8 355.2 988.2 363.4 994.7 C371.7 1001.1 380.0 1007.6 388.2 1014.1 C396.5 1020.5 404.8 1027.0 413.0 1033.4 C421.3 1039.9 433.7 1049.6 437.8 1052.8" fill="none" stroke="#50c46a" stroke-width="2.3" stroke-opacity="0.8994433638660062" stroke-dasharray="2 5.7" stroke-dashoffset="0.2"/>
<path d="M140.3 820.2 C143.4 823.4 152.7 833.1 159.0 839.6 C165.2 846.0 171.4 852.5 177.6 859.0 C183.9 865.4 190.1 871.9 196.3 878.4 C202.5 884.8 208.7 891.3 215.0 897.7 C221.2 904.2 227.4 910.7 233.6 917.1 C239.8 923.6 246.1 930.1 252.3 936.5 C258.5 943.0 264.7 949.4 271.0 955.9 C277.2 962.4 283.4 968.8 289.6 975.3 C295.8 981.8 302.1 988.2 308.3 994.7 C314.5 1001.1 320.7 1007.6 326.9 1014.1 C333.2 1020.5 339.4 1027.0 345.6 1033.4 C351.8 1039.9 361.2 1049.6 364.3 1052.8" fill="none" stroke="#21918c" stroke-width="2.3" stroke-opacity="0.95" /><path d="M140.3 820.2 C143.4 823.4 152.7 833.1 159.0 839.6 C165.2 846.0 171.4 852.5 177.6 859.0 C183.9 865.4 190.1 871.9 196.3 878.4 C202.5 884.8 208.7 891.3 215.0 897.7 C221.2 904.2 227.4 910.7 233.6 917.1 C239.8 923.6 246.1 930.1 252.3 936.5 C258.5 943.0 264.7 949.4 271.0 955.9 C277.2 962.4 283.4 968.8 289.6 975.3 C295.8 981.8 302.1 988.2 308.3 994.7 C314.5 1001.1 320.7 1007.6 326.9 1014.1 C333.2 1020.5 339.4 1027.0 345.6 1033.4 C351.8 1039.9 361.2 1049.6 364.3 1052.8" fill="none" stroke="#d2e21b" stroke-width="2.3" stroke-dasharray="2 2.6" />
<path d="M140.3 820.2 C142.3 823.4 148.3 833.1 152.3 839.6 C156.3 846.0 160.3 852.5 164.2 859.0 C168.2 865.4 172.2 871.9 176.2 878.4 C180.2 884.8 184.2 891.3 188.2 897.7 C192.2 904.2 196.2 910.7 200.2 917.1 C204.2 923.6 208.1 930.1 212.1 936.5 C216.1 943.0 220.1 949.4 224.1 955.9 C228.1 962.4 232.1 968.8 236.1 975.3 C240.1 981.8 244.1 988.2 248.0 994.7 C252.0 1001.1 256.0 1007.6 260.0 1014.1 C264.0 1020.5 268.0 1027.0 272.0 1033.4 C276.0 1039.9 282.0 1049.6 284.0 1052.8" fill="none" stroke="#21918c" stroke-width="2.3" stroke-opacity="0.95" /><path d="M140.3 820.2 C142.3 823.4 148.3 833.1 152.3 839.6 C156.3 846.0 160.3 852.5 164.2 859.0 C168.2 865.4 172.2 871.9 176.2 878.4 C180.2 884.8 184.2 891.3 188.2 897.7 C192.2 904.2 196.2 910.7 200.2 917.1 C204.2 923.6 208.1 930.1 212.1 936.5 C216.1 943.0 220.1 949.4 224.1 955.9 C228.1 962.4 232.1 968.8 236.1 975.3 C240.1 981.8 244.1 988.2 248.0 994.7 C252.0 1001.1 256.0 1007.6 260.0 1014.1 C264.0 1020.5 268.0 1027.0 272.0 1033.4 C276.0 1039.9 282.0 1049.6 284.0 1052.8" fill="none" stroke="#d2e21b" stroke-width="2.3" stroke-dasharray="2 2.6" />
<path d="M400.9 658.4 C403.0 659.5 409.2 662.7 413.3 664.9 C417.4 667.2 421.5 669.6 425.6 672.0 C429.8 674.5 433.9 677.0 438.0 679.6 C442.1 682.2 446.2 685.0 450.4 687.7 C454.5 690.5 458.6 693.3 462.7 696.2 C466.8 699.1 470.9 702.1 475.1 705.0 C479.2 708.0 483.3 711.1 487.4 714.1 C491.5 717.2 495.7 720.3 499.8 723.4 C503.9 726.5 508.0 729.6 512.1 732.8 C516.3 735.9 520.4 739.1 524.5 742.2 C528.6 745.3 532.7 748.5 536.8 751.6 C541.0 754.7 545.1 757.8 549.2 760.9 C553.3 764.0 557.4 767.1 561.6 770.1 C565.7 773.1 569.8 776.1 573.9 779.0 C578.0 781.9 582.1 784.8 586.3 787.6 C590.4 790.4 594.5 793.1 598.6 795.8 C602.7 798.5 606.9 801.1 611.0 803.6 C615.1 806.1 619.2 808.5 623.3 810.8 C627.4 813.1 631.6 815.4 635.7 817.5 C639.8 819.6 643.9 821.6 648.0 823.5 C652.2 825.4 656.3 827.1 660.4 828.8 C664.5 830.4 668.6 831.9 672.8 833.2 C676.9 834.6 681.0 835.8 685.1 836.8 C689.2 837.9 695.4 839.0 697.5 839.5" fill="none" stroke="#21918c" stroke-width="2.3" stroke-opacity="0.95" /><path d="M400.9 658.4 C403.0 659.5 409.2 662.7 413.3 664.9 C417.4 667.2 421.5 669.6 425.6 672.0 C429.8 674.5 433.9 677.0 438.0 679.6 C442.1 682.2 446.2 685.0 450.4 687.7 C454.5 690.5 458.6 693.3 462.7 696.2 C466.8 699.1 470.9 702.1 475.1 705.0 C479.2 708.0 483.3 711.1 487.4 714.1 C491.5 717.2 495.7 720.3 499.8 723.4 C503.9 726.5 508.0 729.6 512.1 732.8 C516.3 735.9 520.4 739.1 524.5 742.2 C528.6 745.3 532.7 748.5 536.8 751.6 C541.0 754.7 545.1 757.8 549.2 760.9 C553.3 764.0 557.4 767.1 561.6 770.1 C565.7 773.1 569.8 776.1 573.9 779.0 C578.0 781.9 582.1 784.8 586.3 787.6 C590.4 790.4 594.5 793.1 598.6 795.8 C602.7 798.5 606.9 801.1 611.0 803.6 C615.1 806.1 619.2 808.5 623.3 810.8 C627.4 813.1 631.6 815.4 635.7 817.5 C639.8 819.6 643.9 821.6 648.0 823.5 C652.2 825.4 656.3 827.1 660.4 828.8 C664.5 830.4 668.6 831.9 672.8 833.2 C676.9 834.6 681.0 835.8 685.1 836.8 C689.2 837.9 695.4 839.0 697.5 839.5" fill="none" stroke="#d2e21b" stroke-width="2.3" stroke-dasharray="2 2.6" />
<path d="M225.6 657.7 C228.9 658.0 238.7 658.7 245.3 659.3 C251.9 659.9 258.4 660.4 265.0 661.1 C271.5 661.7 278.1 662.4 284.6 663.1 C291.2 663.8 297.7 664.5 304.3 665.2 C310.8 666.0 317.4 666.8 323.9 667.7 C330.5 668.5 337.0 669.4 343.6 670.3 C350.2 671.2 356.7 672.2 363.3 673.2 C369.8 674.2 376.4 675.3 382.9 676.4 C389.5 677.4 396.0 678.6 402.6 679.8 C409.1 681.0 415.7 682.2 422.2 683.5 C428.8 684.8 435.3 686.1 441.9 687.5 C448.4 688.9 455.0 690.3 461.6 691.8 C468.1 693.3 474.7 694.8 481.2 696.4 C487.8 698.0 494.3 699.7 500.9 701.4 C507.4 703.1 514.0 704.8 520.5 706.7 C527.1 708.5 533.6 710.4 540.2 712.3 C546.7 714.2 553.3 716.3 559.8 718.3 C566.4 720.4 573.0 722.5 579.5 724.7 C586.1 726.9 592.6 729.2 599.2 731.5 C605.7 733.8 612.3 736.2 618.8 738.7 C625.4 741.1 631.9 743.7 638.5 746.3 C645.0 748.9 651.6 751.6 658.1 754.3 C664.7 757.1 671.3 759.9 677.8 762.8 C684.4 765.7 694.2 770.2 697.5 771.7" fill="none" stroke="#21908d" stroke-width="2.3" stroke-opacity="0.7182555270006593" stroke-dasharray="2.1 1.3" stroke-dashoffset="0.6"/><path d="M225.6 657.7 C228.9 658.0 238.7 658.7 245.3 659.3 C251.9 659.9 258.4 660.4 265.0 661.1 C271.5 661.7 278.1 662.4 284.6 663.1 C291.2 663.8 297.7 664.5 304.3 665.2 C310.8 666.0 317.4 666.8 323.9 667.7 C330.5 668.5 337.0 669.4 343.6 670.3 C350.2 671.2 356.7 672.2 363.3 673.2 C369.8 674.2 376.4 675.3 382.9 676.4 C389.5 677.4 396.0 678.6 402.6 679.8 C409.1 681.0 415.7 682.2 422.2 683.5 C428.8 684.8 435.3 686.1 441.9 687.5 C448.4 688.9 455.0 690.3 461.6 691.8 C468.1 693.3 474.7 694.8 481.2 696.4 C487.8 698.0 494.3 699.7 500.9 701.4 C507.4 703.1 514.0 704.8 520.5 706.7 C527.1 708.5 533.6 710.4 540.2 712.3 C546.7 714.2 553.3 716.3 559.8 718.3 C566.4 720.4 573.0 722.5 579.5 724.7 C586.1 726.9 592.6 729.2 599.2 731.5 C605.7 733.8 612.3 736.2 618.8 738.7 C625.4 741.1 631.9 743.7 638.5 746.3 C645.0 748.9 651.6 751.6 658.1 754.3 C664.7 757.1 671.3 759.9 677.8 762.8 C684.4 765.7 694.2 770.2 697.5 771.7" fill="none" stroke="#25ac82" stroke-width="2.3" stroke-opacity="0.7182555270006593" stroke-dasharray="2 3.1" stroke-dashoffset="3.2"/>
<line x1="139.0" x2="701.0" y1="656.4" y2="656.4" stroke="#d80018" stroke-width="3.8" stroke-dasharray="11.6 5.2"/>
<line x1="139.0" x2="701.0" y1="982.2" y2="982.2" stroke="#d80018" stroke-width="3.8" stroke-dasharray="11.6 5.2"/>
</g>
<rect x="140.3" y="593.0" width="558.7" height="454.5" fill="none" stroke="#000" stroke-width="1.6"/>
<line x1="132.8" x2="140.3" y1="626.34" y2="626.34" stroke="#000" stroke-width="1.6"/>
<text x="124.8" y="637.5" text-anchor="end" style="font-family:'DejaVu Sans',sans-serif;font-size:27.8px">0.6</text>
<line x1="132.8" x2="140.3" y1="690.96" y2="690.96" stroke="#000" stroke-width="1.6"/>
<text x="124.8" y="702.2" text-anchor="end" style="font-family:'DejaVu Sans',sans-serif;font-size:27.8px">0.4</text>
<line x1="132.8" x2="140.3" y1="755.58" y2="755.58" stroke="#000" stroke-width="1.6"/>
<text x="124.8" y="766.8" text-anchor="end" style="font-family:'DejaVu Sans',sans-serif;font-size:27.8px">0.2</text>
<line x1="132.8" x2="140.3" y1="820.20" y2="820.20" stroke="#000" stroke-width="1.6"/>
<text x="124.8" y="831.4" text-anchor="end" style="font-family:'DejaVu Sans',sans-serif;font-size:27.8px">0.0</text>
<line x1="132.8" x2="140.3" y1="884.82" y2="884.82" stroke="#000" stroke-width="1.6"/>
<text x="124.8" y="896.0" text-anchor="end" style="font-family:'DejaVu Sans',sans-serif;font-size:27.8px">−0.2</text>
<line x1="132.8" x2="140.3" y1="949.44" y2="949.44" stroke="#000" stroke-width="1.6"/>
<text x="124.8" y="960.6" text-anchor="end" style="font-family:'DejaVu Sans',sans-serif;font-size:27.8px">−0.4</text>
<line x1="132.8" x2="140.3" y1="1014.06" y2="1014.06" stroke="#000" stroke-width="1.6"/>
<text x="124.8" y="1025.3" text-anchor="end" style="font-family:'DejaVu Sans',sans-serif;font-size:27.8px">−0.6</text>
<line x1="140.30" x2="140.30" y1="1047.5" y2="1056.0" stroke="#000" stroke-width="1.6"/>
<text x="141.30" y="1086.0" text-anchor="middle" style="font-family:'DejaVu Sans',sans-serif;font-size:27.8px">0</text>
<line x1="279.98" x2="279.98" y1="1047.5" y2="1056.0" stroke="#000" stroke-width="1.6"/>
<text x="280.98" y="1086.0" text-anchor="middle" style="font-family:'DejaVu Sans',sans-serif;font-size:27.8px">1</text>
<line x1="419.65" x2="419.65" y1="1047.5" y2="1056.0" stroke="#000" stroke-width="1.6"/>
<text x="420.65" y="1086.0" text-anchor="middle" style="font-family:'DejaVu Sans',sans-serif;font-size:27.8px">2</text>
<line x1="559.33" x2="559.33" y1="1047.5" y2="1056.0" stroke="#000" stroke-width="1.6"/>
<text x="560.33" y="1086.0" text-anchor="middle" style="font-family:'DejaVu Sans',sans-serif;font-size:27.8px">3</text>
<line x1="699.00" x2="699.00" y1="1047.5" y2="1056.0" stroke="#000" stroke-width="1.6"/>
<text x="700.00" y="1086.0" text-anchor="middle" style="font-family:'DejaVu Sans',sans-serif;font-size:27.8px">4</text>
<text x="418.1" y="1123.1" text-anchor="middle" style="font-family:'DejaVu Sans',sans-serif;font-size:29.2px">V/t</text>
<text transform="translate(36.9,823.2) rotate(-90)" text-anchor="middle" style="font-family:'DejaVu Sans',sans-serif;font-size:29.2px">energy [t]</text>
<rect x="734.8" y="593.0" width="22.7" height="454.5" fill="url(#cbc)" stroke="#000" stroke-width="1.6"/>
<line x1="757.5" x2="766.0" y1="1033.10" y2="1033.10" stroke="#000" stroke-width="1.6"/>
<text x="772.5" y="1046.5" style="font-family:'DejaVu Sans',sans-serif;font-size:27.8px">10<tspan dx="0.7" dy="-10.3" style="font-size:20.5px">−</tspan><tspan dx="2" style="font-size:20.5px">3</tspan></text>
<line x1="757.5" x2="762.3" y1="1005.95" y2="1005.95" stroke="#000" stroke-width="1.2"/>
<line x1="757.5" x2="762.3" y1="990.06" y2="990.06" stroke="#000" stroke-width="1.2"/>
<line x1="757.5" x2="762.3" y1="978.79" y2="978.79" stroke="#000" stroke-width="1.2"/>
<line x1="757.5" x2="762.3" y1="970.05" y2="970.05" stroke="#000" stroke-width="1.2"/>
<line x1="757.5" x2="762.3" y1="962.91" y2="962.91" stroke="#000" stroke-width="1.2"/>
<line x1="757.5" x2="762.3" y1="956.87" y2="956.87" stroke="#000" stroke-width="1.2"/>
<line x1="757.5" x2="762.3" y1="951.64" y2="951.64" stroke="#000" stroke-width="1.2"/>
<line x1="757.5" x2="762.3" y1="947.03" y2="947.03" stroke="#000" stroke-width="1.2"/>
<line x1="757.5" x2="766.0" y1="942.90" y2="942.90" stroke="#000" stroke-width="1.6"/>
<text x="772.5" y="956.3" style="font-family:'DejaVu Sans',sans-serif;font-size:27.8px">10<tspan dx="0.7" dy="-10.3" style="font-size:20.5px">−</tspan><tspan dx="2" style="font-size:20.5px">2</tspan></text>
<line x1="757.5" x2="762.3" y1="915.75" y2="915.75" stroke="#000" stroke-width="1.2"/>
<line x1="757.5" x2="762.3" y1="899.86" y2="899.86" stroke="#000" stroke-width="1.2"/>
<line x1="757.5" x2="762.3" y1="888.59" y2="888.59" stroke="#000" stroke-width="1.2"/>
<line x1="757.5" x2="762.3" y1="879.85" y2="879.85" stroke="#000" stroke-width="1.2"/>
<line x1="757.5" x2="762.3" y1="872.71" y2="872.71" stroke="#000" stroke-width="1.2"/>
<line x1="757.5" x2="762.3" y1="866.67" y2="866.67" stroke="#000" stroke-width="1.2"/>
<line x1="757.5" x2="762.3" y1="861.44" y2="861.44" stroke="#000" stroke-width="1.2"/>
<line x1="757.5" x2="762.3" y1="856.83" y2="856.83" stroke="#000" stroke-width="1.2"/>
<line x1="757.5" x2="766.0" y1="852.70" y2="852.70" stroke="#000" stroke-width="1.6"/>
<text x="772.5" y="866.1" style="font-family:'DejaVu Sans',sans-serif;font-size:27.8px">10<tspan dx="0.7" dy="-10.3" style="font-size:20.5px">−</tspan><tspan dx="2" style="font-size:20.5px">1</tspan></text>
<line x1="757.5" x2="762.3" y1="825.55" y2="825.55" stroke="#000" stroke-width="1.2"/>
<line x1="757.5" x2="762.3" y1="809.66" y2="809.66" stroke="#000" stroke-width="1.2"/>
<line x1="757.5" x2="762.3" y1="798.39" y2="798.39" stroke="#000" stroke-width="1.2"/>
<line x1="757.5" x2="762.3" y1="789.65" y2="789.65" stroke="#000" stroke-width="1.2"/>
<line x1="757.5" x2="762.3" y1="782.51" y2="782.51" stroke="#000" stroke-width="1.2"/>
<line x1="757.5" x2="762.3" y1="776.47" y2="776.47" stroke="#000" stroke-width="1.2"/>
<line x1="757.5" x2="762.3" y1="771.24" y2="771.24" stroke="#000" stroke-width="1.2"/>
<line x1="757.5" x2="762.3" y1="766.63" y2="766.63" stroke="#000" stroke-width="1.2"/>
<line x1="757.5" x2="766.0" y1="762.50" y2="762.50" stroke="#000" stroke-width="1.6"/>
<text x="772.5" y="775.9" style="font-family:'DejaVu Sans',sans-serif;font-size:27.8px">10<tspan dx="0.8" dy="-10.3" style="font-size:20.5px">0</tspan></text>
<line x1="757.5" x2="762.3" y1="735.35" y2="735.35" stroke="#000" stroke-width="1.2"/>
<line x1="757.5" x2="762.3" y1="719.46" y2="719.46" stroke="#000" stroke-width="1.2"/>
<line x1="757.5" x2="762.3" y1="708.19" y2="708.19" stroke="#000" stroke-width="1.2"/>
<line x1="757.5" x2="762.3" y1="699.45" y2="699.45" stroke="#000" stroke-width="1.2"/>
<line x1="757.5" x2="762.3" y1="692.31" y2="692.31" stroke="#000" stroke-width="1.2"/>
<line x1="757.5" x2="762.3" y1="686.27" y2="686.27" stroke="#000" stroke-width="1.2"/>
<line x1="757.5" x2="762.3" y1="681.04" y2="681.04" stroke="#000" stroke-width="1.2"/>
<line x1="757.5" x2="762.3" y1="676.43" y2="676.43" stroke="#000" stroke-width="1.2"/>
<line x1="757.5" x2="766.0" y1="672.30" y2="672.30" stroke="#000" stroke-width="1.6"/>
<text x="772.5" y="685.7" style="font-family:'DejaVu Sans',sans-serif;font-size:27.8px">10<tspan dx="0.8" dy="-10.3" style="font-size:20.5px">1</tspan></text>
<line x1="757.5" x2="762.3" y1="645.15" y2="645.15" stroke="#000" stroke-width="1.2"/>
<line x1="757.5" x2="762.3" y1="629.26" y2="629.26" stroke="#000" stroke-width="1.2"/>
<line x1="757.5" x2="762.3" y1="617.99" y2="617.99" stroke="#000" stroke-width="1.2"/>
<line x1="757.5" x2="762.3" y1="609.25" y2="609.25" stroke="#000" stroke-width="1.2"/>
<line x1="757.5" x2="762.3" y1="602.11" y2="602.11" stroke="#000" stroke-width="1.2"/>
<line x1="757.5" x2="762.3" y1="596.07" y2="596.07" stroke="#000" stroke-width="1.2"/>
<text transform="translate(869.5,822.6) rotate(-90)" text-anchor="middle" style="font-family:'DejaVu Sans',sans-serif;font-size:29.2px">LDOS [a.u.]</text>
<text x="25.0" y="1145" style="font-family:'Liberation Serif',serif;font-size:42px">(c)</text>
<g clip-path="url(#clipd)">
<rect x="1096.5" y="593.0" width="558.0" height="454.5" fill="#440154"/>
<g clip-path="url(#cl29)"><rect x="1096.5" y="593.0" width="558.0" height="454.5" filter="url(#nzSd)" /></g>
<g clip-path="url(#cl30)"><rect x="1096.5" y="593.0" width="558.0" height="454.5" filter="url(#nzLd)" /></g>
<rect x="1096.5" y="982.7" width="560.8" height="70.1" fill="url(#fdd)"/>
<g clip-path="url(#cbd)"><ellipse cx="1333.7" cy="1033.4" rx="83.8" ry="29.1" fill="url(#glow)" opacity="0.8"/><ellipse cx="1459.2" cy="1014.1" rx="55.8" ry="25.8" fill="url(#glow)" opacity="0.5"/></g>
<g clip-path="url(#cud)"><ellipse cx="1396.4" cy="636.0" rx="30.7" ry="38.8" fill="url(#glow)" opacity="0.8"/><ellipse cx="1347.6" cy="603.7" rx="55.8" ry="12.9" fill="url(#glow)" opacity="0.5"/></g>
<path d="M1096.5 820.2 C1104.2 820.3 1127.5 820.5 1143.0 820.6 C1158.5 820.7 1174.0 820.9 1189.5 821.0 C1205.0 821.1 1220.5 821.3 1236.0 821.4 C1251.5 821.5 1267.0 821.7 1282.5 821.8 C1298.0 821.9 1313.5 822.1 1329.0 822.2 C1344.5 822.4 1360.0 822.5 1375.5 822.6 C1391.0 822.8 1406.5 822.9 1422.0 823.0 C1437.5 823.2 1453.0 823.3 1468.5 823.4 C1484.0 823.6 1499.5 823.7 1515.0 823.8 C1530.5 824.0 1546.0 824.1 1561.5 824.2 C1577.0 824.4 1592.5 824.5 1608.0 824.6 C1623.5 824.8 1646.8 825.0 1654.5 825.0" fill="none" stroke="#26818e" stroke-width="2.2" stroke-opacity="0.85" stroke-dasharray="10.1 12.6" stroke-dashoffset="7.8"/>
<path d="M1096.5 820.2 C1104.2 820.4 1127.5 820.9 1143.0 821.2 C1158.5 821.5 1174.0 821.8 1189.5 822.2 C1205.0 822.5 1220.5 822.8 1236.0 823.2 C1251.5 823.5 1267.0 823.8 1282.5 824.1 C1298.0 824.5 1313.5 824.8 1329.0 825.1 C1344.5 825.4 1360.0 825.8 1375.5 826.1 C1391.0 826.4 1406.5 826.8 1422.0 827.1 C1437.5 827.4 1453.0 827.7 1468.5 828.1 C1484.0 828.4 1499.5 828.7 1515.0 829.1 C1530.5 829.4 1546.0 829.7 1561.5 830.0 C1577.0 830.4 1592.5 830.7 1608.0 831.0 C1623.5 831.3 1646.8 831.8 1654.5 832.0" fill="none" stroke="#218f8d" stroke-width="2.2" stroke-opacity="0.85" stroke-dasharray="8.8 8.4" stroke-dashoffset="1.2"/>
<path d="M1096.5 820.2 C1104.2 820.5 1127.5 821.3 1143.0 821.8 C1158.5 822.3 1174.0 822.9 1189.5 823.4 C1205.0 824.0 1220.5 824.5 1236.0 825.0 C1251.5 825.6 1267.0 826.1 1282.5 826.6 C1298.0 827.2 1313.5 827.7 1329.0 828.2 C1344.5 828.8 1360.0 829.3 1375.5 829.9 C1391.0 830.4 1406.5 830.9 1422.0 831.5 C1437.5 832.0 1453.0 832.5 1468.5 833.1 C1484.0 833.6 1499.5 834.1 1515.0 834.7 C1530.5 835.2 1546.0 835.7 1561.5 836.3 C1577.0 836.8 1592.5 837.4 1608.0 837.9 C1623.5 838.4 1646.8 839.2 1654.5 839.5" fill="none" stroke="#287d8e" stroke-width="2.2" stroke-opacity="0.85" stroke-dasharray="7.1 12.1" stroke-dashoffset="11.2"/>
<path d="M1096.5 820.2 C1104.2 820.6 1127.5 821.6 1143.0 822.4 C1158.5 823.1 1174.0 823.8 1189.5 824.5 C1205.0 825.2 1220.5 826.0 1236.0 826.7 C1251.5 827.4 1267.0 828.1 1282.5 828.8 C1298.0 829.5 1313.5 830.3 1329.0 831.0 C1344.5 831.7 1360.0 832.4 1375.5 833.1 C1391.0 833.9 1406.5 834.6 1422.0 835.3 C1437.5 836.0 1453.0 836.7 1468.5 837.5 C1484.0 838.2 1499.5 838.9 1515.0 839.6 C1530.5 840.3 1546.0 841.0 1561.5 841.8 C1577.0 842.5 1592.5 843.2 1608.0 843.9 C1623.5 844.6 1646.8 845.7 1654.5 846.1" fill="none" stroke="#33628d" stroke-width="2.2" stroke-opacity="0.85" stroke-dasharray="7.1 10.1" stroke-dashoffset="4.0"/>
<path d="M1096.5 820.2 C1104.2 820.6 1127.5 821.6 1143.0 822.4 C1158.5 823.1 1174.0 823.8 1189.5 824.5 C1205.0 825.2 1220.5 825.9 1236.0 826.7 C1251.5 827.4 1267.0 828.1 1282.5 828.8 C1298.0 829.5 1313.5 830.3 1329.0 831.0 C1344.5 831.7 1360.0 832.4 1375.5 833.1 C1391.0 833.8 1406.5 834.6 1422.0 835.3 C1437.5 836.0 1453.0 836.7 1468.5 837.4 C1484.0 838.1 1499.5 838.9 1515.0 839.6 C1530.5 840.3 1546.0 841.0 1561.5 841.7 C1577.0 842.5 1592.5 843.2 1608.0 843.9 C1623.5 844.6 1646.8 845.7 1654.5 846.0" fill="none" stroke="#25848e" stroke-width="1.9" stroke-opacity="0.95" stroke-dasharray="6 2.5" />
<path d="M1096.5 820.2 C1104.2 821.1 1127.5 823.8 1143.0 825.6 C1158.5 827.4 1174.0 829.2 1189.5 831.0 C1205.0 832.8 1220.5 834.6 1236.0 836.4 C1251.5 838.1 1267.0 839.9 1282.5 841.7 C1298.0 843.5 1313.5 845.3 1329.0 847.1 C1344.5 848.9 1360.0 850.7 1375.5 852.5 C1391.0 854.3 1406.5 856.1 1422.0 857.9 C1437.5 859.7 1453.0 861.5 1468.5 863.3 C1484.0 865.1 1499.5 866.9 1515.0 868.7 C1530.5 870.5 1546.0 872.3 1561.5 874.1 C1577.0 875.8 1592.5 877.6 1608.0 879.4 C1623.5 881.2 1646.8 883.9 1654.5 884.8" fill="none" stroke="#25848e" stroke-width="1.9" stroke-opacity="0.95" stroke-dasharray="6 2.5" />
<path d="M1096.5 820.2 C1104.3 821.6 1127.9 825.7 1143.6 828.5 C1159.3 831.3 1175.0 834.0 1190.7 836.8 C1206.4 839.5 1222.1 842.3 1237.7 845.1 C1253.4 847.8 1269.1 850.6 1284.8 853.4 C1300.5 856.1 1316.2 858.9 1331.9 861.6 C1347.6 864.4 1363.3 867.2 1379.0 869.9 C1394.7 872.7 1410.4 875.5 1426.1 878.2 C1441.8 881.0 1457.5 883.7 1473.2 886.5 C1488.8 889.3 1504.5 892.0 1520.2 894.8 C1535.9 897.6 1551.6 900.3 1567.3 903.1 C1583.0 905.8 1598.7 908.6 1614.4 911.4 C1630.1 914.1 1653.6 918.3 1661.5 919.7" fill="none" stroke="#26828e" stroke-width="2.3" stroke-opacity="0.964031569368552" stroke-dasharray="3.3 1.7" stroke-dashoffset="3.7"/><path d="M1096.5 820.2 C1104.3 821.6 1127.9 825.7 1143.6 828.5 C1159.3 831.3 1175.0 834.0 1190.7 836.8 C1206.4 839.5 1222.1 842.3 1237.7 845.1 C1253.4 847.8 1269.1 850.6 1284.8 853.4 C1300.5 856.1 1316.2 858.9 1331.9 861.6 C1347.6 864.4 1363.3 867.2 1379.0 869.9 C1394.7 872.7 1410.4 875.5 1426.1 878.2 C1441.8 881.0 1457.5 883.7 1473.2 886.5 C1488.8 889.3 1504.5 892.0 1520.2 894.8 C1535.9 897.6 1551.6 900.3 1567.3 903.1 C1583.0 905.8 1598.7 908.6 1614.4 911.4 C1630.1 914.1 1653.6 918.3 1661.5 919.7" fill="none" stroke="#48c16e" stroke-width="2.3" stroke-opacity="0.964031569368552" stroke-dasharray="2 5.3" stroke-dashoffset="1.3"/><path d="M1096.5 820.2 C1104.3 821.7 1127.9 826.2 1143.6 829.1 C1159.3 832.1 1175.0 835.1 1190.7 838.1 C1206.4 841.1 1222.1 844.0 1237.7 847.0 C1253.4 850.0 1269.1 853.0 1284.8 856.0 C1300.5 858.9 1316.2 861.9 1331.9 864.9 C1347.6 867.9 1363.3 870.9 1379.0 873.9 C1394.7 876.8 1410.4 879.8 1426.1 882.8 C1441.8 885.8 1457.5 888.8 1473.2 891.7 C1488.8 894.7 1504.5 897.7 1520.2 900.7 C1535.9 903.7 1551.6 906.6 1567.3 909.6 C1583.0 912.6 1598.7 915.6 1614.4 918.6 C1630.1 921.5 1653.6 926.0 1661.5 927.5" fill="none" stroke="#24868e" stroke-width="2.0" stroke-opacity="0.6453029261351579" stroke-dasharray="3.8 2.8" stroke-dashoffset="4.3"/>
<path d="M1096.5 820.2 C1104.3 821.7 1127.9 826.2 1143.6 829.3 C1159.3 832.3 1175.0 835.3 1190.7 838.3 C1206.4 841.3 1222.1 844.3 1237.7 847.4 C1253.4 850.4 1269.1 853.4 1284.8 856.4 C1300.5 859.4 1316.2 862.4 1331.9 865.5 C1347.6 868.5 1363.3 871.5 1379.0 874.5 C1394.7 877.5 1410.4 880.5 1426.1 883.6 C1441.8 886.6 1457.5 889.6 1473.2 892.6 C1488.8 895.6 1504.5 898.6 1520.2 901.7 C1535.9 904.7 1551.6 907.7 1567.3 910.7 C1583.0 913.7 1598.7 916.7 1614.4 919.8 C1630.1 922.8 1653.6 927.3 1661.5 928.8" fill="none" stroke="#2a768e" stroke-width="2.3" stroke-opacity="0.7158433764512602" stroke-dasharray="3.6 1.5" stroke-dashoffset="1.9"/><path d="M1096.5 820.2 C1104.3 821.7 1127.9 826.2 1143.6 829.3 C1159.3 832.3 1175.0 835.3 1190.7 838.3 C1206.4 841.3 1222.1 844.3 1237.7 847.4 C1253.4 850.4 1269.1 853.4 1284.8 856.4 C1300.5 859.4 1316.2 862.4 1331.9 865.5 C1347.6 868.5 1363.3 871.5 1379.0 874.5 C1394.7 877.5 1410.4 880.5 1426.1 883.6 C1441.8 886.6 1457.5 889.6 1473.2 892.6 C1488.8 895.6 1504.5 898.6 1520.2 901.7 C1535.9 904.7 1551.6 907.7 1567.3 910.7 C1583.0 913.7 1598.7 916.7 1614.4 919.8 C1630.1 922.8 1653.6 927.3 1661.5 928.8" fill="none" stroke="#5cc863" stroke-width="2.3" stroke-opacity="0.7158433764512602" stroke-dasharray="2 3.1" stroke-dashoffset="2.7"/><path d="M1096.5 820.2 C1104.3 821.8 1127.9 826.7 1143.6 829.9 C1159.3 833.1 1175.0 836.4 1190.7 839.6 C1206.4 842.8 1222.1 846.1 1237.7 849.3 C1253.4 852.6 1269.1 855.8 1284.8 859.0 C1300.5 862.3 1316.2 865.5 1331.9 868.7 C1347.6 872.0 1363.3 875.2 1379.0 878.4 C1394.7 881.7 1410.4 884.9 1426.1 888.1 C1441.8 891.4 1457.5 894.6 1473.2 897.8 C1488.8 901.1 1504.5 904.3 1520.2 907.5 C1535.9 910.8 1551.6 914.0 1567.3 917.3 C1583.0 920.5 1598.7 923.7 1614.4 927.0 C1630.1 930.2 1653.6 935.0 1661.5 936.7" fill="none" stroke="#2a768e" stroke-width="2.0" stroke-opacity="0.6384609369086033" stroke-dasharray="2.8 2.6" stroke-dashoffset="4.4"/>
<path d="M1096.5 820.2 C1104.3 821.8 1127.9 826.7 1143.6 829.9 C1159.3 833.1 1175.0 836.4 1190.7 839.6 C1206.4 842.8 1222.1 846.1 1237.7 849.3 C1253.4 852.6 1269.1 855.8 1284.8 859.0 C1300.5 862.3 1316.2 865.5 1331.9 868.7 C1347.6 872.0 1363.3 875.2 1379.0 878.4 C1394.7 881.7 1410.4 884.9 1426.1 888.1 C1441.8 891.4 1457.5 894.6 1473.2 897.8 C1488.8 901.1 1504.5 904.3 1520.2 907.5 C1535.9 910.8 1551.6 914.0 1567.3 917.3 C1583.0 920.5 1598.7 923.7 1614.4 927.0 C1630.1 930.2 1653.6 935.0 1661.5 936.7" fill="none" stroke="#25858e" stroke-width="2.3" stroke-opacity="0.707385913439003" stroke-dasharray="2.2 1.8" stroke-dashoffset="0.4"/><path d="M1096.5 820.2 C1104.3 821.8 1127.9 826.7 1143.6 829.9 C1159.3 833.1 1175.0 836.4 1190.7 839.6 C1206.4 842.8 1222.1 846.1 1237.7 849.3 C1253.4 852.6 1269.1 855.8 1284.8 859.0 C1300.5 862.3 1316.2 865.5 1331.9 868.7 C1347.6 872.0 1363.3 875.2 1379.0 878.4 C1394.7 881.7 1410.4 884.9 1426.1 888.1 C1441.8 891.4 1457.5 894.6 1473.2 897.8 C1488.8 901.1 1504.5 904.3 1520.2 907.5 C1535.9 910.8 1551.6 914.0 1567.3 917.3 C1583.0 920.5 1598.7 923.7 1614.4 927.0 C1630.1 930.2 1653.6 935.0 1661.5 936.7" fill="none" stroke="#23a983" stroke-width="2.3" stroke-opacity="0.707385913439003" stroke-dasharray="2 4.2" stroke-dashoffset="3.7"/><path d="M1096.5 820.2 C1104.3 821.9 1127.9 827.1 1143.6 830.6 C1159.3 834.0 1175.0 837.5 1190.7 840.9 C1206.4 844.4 1222.1 847.8 1237.7 851.3 C1253.4 854.7 1269.1 858.2 1284.8 861.6 C1300.5 865.1 1316.2 868.5 1331.9 872.0 C1347.6 875.5 1363.3 878.9 1379.0 882.4 C1394.7 885.8 1410.4 889.3 1426.1 892.7 C1441.8 896.2 1457.5 899.6 1473.2 903.1 C1488.8 906.5 1504.5 910.0 1520.2 913.4 C1535.9 916.9 1551.6 920.3 1567.3 923.8 C1583.0 927.2 1598.7 930.7 1614.4 934.2 C1630.1 937.6 1653.6 942.8 1661.5 944.5" fill="none" stroke="#2c728e" stroke-width="2.0" stroke-opacity="0.6390014698959142" stroke-dasharray="3.6 2.7" stroke-dashoffset="4.3"/>
<path d="M1096.5 820.2 C1104.3 822.2 1127.9 828.1 1143.6 832.0 C1159.3 835.9 1175.0 839.8 1190.7 843.8 C1206.4 847.7 1222.1 851.6 1237.7 855.5 C1253.4 859.5 1269.1 863.4 1284.8 867.3 C1300.5 871.2 1316.2 875.2 1331.9 879.1 C1347.6 883.0 1363.3 886.9 1379.0 890.9 C1394.7 894.8 1410.4 898.7 1426.1 902.6 C1441.8 906.6 1457.5 910.5 1473.2 914.4 C1488.8 918.3 1504.5 922.3 1520.2 926.2 C1535.9 930.1 1551.6 934.0 1567.3 938.0 C1583.0 941.9 1598.7 945.8 1614.4 949.7 C1630.1 953.7 1653.6 959.6 1661.5 961.5" fill="none" stroke="#26828e" stroke-width="2.3" stroke-opacity="0.791123341979217" stroke-dasharray="2.5 1.6" stroke-dashoffset="1.7"/><path d="M1096.5 820.2 C1104.3 822.2 1127.9 828.1 1143.6 832.0 C1159.3 835.9 1175.0 839.8 1190.7 843.8 C1206.4 847.7 1222.1 851.6 1237.7 855.5 C1253.4 859.5 1269.1 863.4 1284.8 867.3 C1300.5 871.2 1316.2 875.2 1331.9 879.1 C1347.6 883.0 1363.3 886.9 1379.0 890.9 C1394.7 894.8 1410.4 898.7 1426.1 902.6 C1441.8 906.6 1457.5 910.5 1473.2 914.4 C1488.8 918.3 1504.5 922.3 1520.2 926.2 C1535.9 930.1 1551.6 934.0 1567.3 938.0 C1583.0 941.9 1598.7 945.8 1614.4 949.7 C1630.1 953.7 1653.6 959.6 1661.5 961.5" fill="none" stroke="#2fb47c" stroke-width="2.3" stroke-opacity="0.791123341979217" stroke-dasharray="2 5.4" stroke-dashoffset="4.8"/><path d="M1096.5 820.2 C1104.3 822.3 1127.9 828.5 1143.6 832.6 C1159.3 836.8 1175.0 840.9 1190.7 845.1 C1206.4 849.2 1222.1 853.4 1237.7 857.5 C1253.4 861.6 1269.1 865.8 1284.8 869.9 C1300.5 874.1 1316.2 878.2 1331.9 882.4 C1347.6 886.5 1363.3 890.6 1379.0 894.8 C1394.7 898.9 1410.4 903.1 1426.1 907.2 C1441.8 911.4 1457.5 915.5 1473.2 919.7 C1488.8 923.8 1504.5 927.9 1520.2 932.1 C1535.9 936.2 1551.6 940.4 1567.3 944.5 C1583.0 948.7 1598.7 952.8 1614.4 956.9 C1630.1 961.1 1653.6 967.3 1661.5 969.4" fill="none" stroke="#297a8e" stroke-width="2.0" stroke-opacity="0.6314063790359873" stroke-dasharray="3.3 2.2" stroke-dashoffset="4.9"/>
<path d="M1096.5 820.2 C1103.5 823.4 1124.5 833.1 1138.6 839.6 C1152.6 846.0 1166.6 852.5 1180.6 859.0 C1194.6 865.4 1208.7 871.9 1222.7 878.4 C1236.7 884.8 1250.7 891.3 1264.7 897.7 C1278.8 904.2 1292.8 910.7 1306.8 917.1 C1320.8 923.6 1334.8 930.1 1348.9 936.5 C1362.9 943.0 1376.9 949.4 1390.9 955.9 C1404.9 962.4 1419.0 968.8 1433.0 975.3 C1447.0 981.8 1461.0 988.2 1475.0 994.7 C1489.1 1001.1 1503.1 1007.6 1517.1 1014.1 C1531.1 1020.5 1545.1 1027.0 1559.2 1033.4 C1573.2 1039.9 1594.2 1049.6 1601.2 1052.8" fill="none" stroke="#21908d" stroke-width="2.3" stroke-opacity="0.915814448544396" stroke-dasharray="3.4 1.5" stroke-dashoffset="4.5"/><path d="M1096.5 820.2 C1103.5 823.4 1124.5 833.1 1138.6 839.6 C1152.6 846.0 1166.6 852.5 1180.6 859.0 C1194.6 865.4 1208.7 871.9 1222.7 878.4 C1236.7 884.8 1250.7 891.3 1264.7 897.7 C1278.8 904.2 1292.8 910.7 1306.8 917.1 C1320.8 923.6 1334.8 930.1 1348.9 936.5 C1362.9 943.0 1376.9 949.4 1390.9 955.9 C1404.9 962.4 1419.0 968.8 1433.0 975.3 C1447.0 981.8 1461.0 988.2 1475.0 994.7 C1489.1 1001.1 1503.1 1007.6 1517.1 1014.1 C1531.1 1020.5 1545.1 1027.0 1559.2 1033.4 C1573.2 1039.9 1594.2 1049.6 1601.2 1052.8" fill="none" stroke="#50c46a" stroke-width="2.3" stroke-opacity="0.915814448544396" stroke-dasharray="2 3.9" stroke-dashoffset="0.8"/>
<path d="M1096.5 820.2 C1102.1 823.4 1118.9 833.1 1130.1 839.6 C1141.3 846.0 1152.5 852.5 1163.7 859.0 C1174.9 865.4 1186.1 871.9 1197.3 878.4 C1208.5 884.8 1219.8 891.3 1231.0 897.7 C1242.2 904.2 1253.4 910.7 1264.6 917.1 C1275.8 923.6 1287.0 930.1 1298.2 936.5 C1309.4 943.0 1320.6 949.4 1331.8 955.9 C1343.0 962.4 1354.2 968.8 1365.4 975.3 C1376.6 981.8 1387.8 988.2 1399.0 994.7 C1410.2 1001.1 1421.4 1007.6 1432.6 1014.1 C1443.8 1020.5 1455.1 1027.0 1466.3 1033.4 C1477.5 1039.9 1494.3 1049.6 1499.9 1052.8" fill="none" stroke="#25848e" stroke-width="2.3" stroke-opacity="0.8111055606363085" stroke-dasharray="2.2 1.3" stroke-dashoffset="2.9"/><path d="M1096.5 820.2 C1102.1 823.4 1118.9 833.1 1130.1 839.6 C1141.3 846.0 1152.5 852.5 1163.7 859.0 C1174.9 865.4 1186.1 871.9 1197.3 878.4 C1208.5 884.8 1219.8 891.3 1231.0 897.7 C1242.2 904.2 1253.4 910.7 1264.6 917.1 C1275.8 923.6 1287.0 930.1 1298.2 936.5 C1309.4 943.0 1320.6 949.4 1331.8 955.9 C1343.0 962.4 1354.2 968.8 1365.4 975.3 C1376.6 981.8 1387.8 988.2 1399.0 994.7 C1410.2 1001.1 1421.4 1007.6 1432.6 1014.1 C1443.8 1020.5 1455.1 1027.0 1466.3 1033.4 C1477.5 1039.9 1494.3 1049.6 1499.9 1052.8" fill="none" stroke="#24aa83" stroke-width="2.3" stroke-opacity="0.8111055606363085" stroke-dasharray="2 5.4" stroke-dashoffset="3.3"/>
<path d="M1096.5 820.2 C1100.3 823.4 1111.8 833.1 1119.4 839.6 C1127.1 846.0 1134.7 852.5 1142.4 859.0 C1150.0 865.4 1157.7 871.9 1165.3 878.4 C1172.9 884.8 1180.6 891.3 1188.2 897.7 C1195.9 904.2 1203.5 910.7 1211.2 917.1 C1218.8 923.6 1226.4 930.1 1234.1 936.5 C1241.7 943.0 1249.4 949.4 1257.0 955.9 C1264.7 962.4 1272.3 968.8 1280.0 975.3 C1287.6 981.8 1295.2 988.2 1302.9 994.7 C1310.5 1001.1 1318.2 1007.6 1325.8 1014.1 C1333.5 1020.5 1341.1 1027.0 1348.7 1033.4 C1356.4 1039.9 1367.9 1049.6 1371.7 1052.8" fill="none" stroke="#21918c" stroke-width="2.3" stroke-opacity="0.95" /><path d="M1096.5 820.2 C1100.3 823.4 1111.8 833.1 1119.4 839.6 C1127.1 846.0 1134.7 852.5 1142.4 859.0 C1150.0 865.4 1157.7 871.9 1165.3 878.4 C1172.9 884.8 1180.6 891.3 1188.2 897.7 C1195.9 904.2 1203.5 910.7 1211.2 917.1 C1218.8 923.6 1226.4 930.1 1234.1 936.5 C1241.7 943.0 1249.4 949.4 1257.0 955.9 C1264.7 962.4 1272.3 968.8 1280.0 975.3 C1287.6 981.8 1295.2 988.2 1302.9 994.7 C1310.5 1001.1 1318.2 1007.6 1325.8 1014.1 C1333.5 1020.5 1341.1 1027.0 1348.7 1033.4 C1356.4 1039.9 1367.9 1049.6 1371.7 1052.8" fill="none" stroke="#d2e21b" stroke-width="2.3" stroke-dasharray="2 2.6" />
<path d="M1096.5 820.2 C1098.8 823.4 1105.7 833.1 1110.3 839.6 C1114.9 846.0 1119.4 852.5 1124.0 859.0 C1128.6 865.4 1133.2 871.9 1137.8 878.4 C1142.4 884.8 1147.0 891.3 1151.6 897.7 C1156.2 904.2 1160.7 910.7 1165.3 917.1 C1169.9 923.6 1174.5 930.1 1179.1 936.5 C1183.7 943.0 1188.3 949.4 1192.9 955.9 C1197.5 962.4 1202.0 968.8 1206.6 975.3 C1211.2 981.8 1215.8 988.2 1220.4 994.7 C1225.0 1001.1 1229.6 1007.6 1234.2 1014.1 C1238.8 1020.5 1243.3 1027.0 1247.9 1033.4 C1252.5 1039.9 1259.4 1049.6 1261.7 1052.8" fill="none" stroke="#21918c" stroke-width="2.3" stroke-opacity="0.95" /><path d="M1096.5 820.2 C1098.8 823.4 1105.7 833.1 1110.3 839.6 C1114.9 846.0 1119.4 852.5 1124.0 859.0 C1128.6 865.4 1133.2 871.9 1137.8 878.4 C1142.4 884.8 1147.0 891.3 1151.6 897.7 C1156.2 904.2 1160.7 910.7 1165.3 917.1 C1169.9 923.6 1174.5 930.1 1179.1 936.5 C1183.7 943.0 1188.3 949.4 1192.9 955.9 C1197.5 962.4 1202.0 968.8 1206.6 975.3 C1211.2 981.8 1215.8 988.2 1220.4 994.7 C1225.0 1001.1 1229.6 1007.6 1234.2 1014.1 C1238.8 1020.5 1243.3 1027.0 1247.9 1033.4 C1252.5 1039.9 1259.4 1049.6 1261.7 1052.8" fill="none" stroke="#d2e21b" stroke-width="2.3" stroke-dasharray="2 2.6" />
<path d="M1405.6 658.6 C1407.4 659.8 1412.5 663.7 1416.0 666.2 C1419.4 668.7 1422.9 671.2 1426.3 673.7 C1429.8 676.1 1433.3 678.6 1436.7 681.0 C1440.2 683.4 1443.6 685.7 1447.1 688.1 C1450.5 690.4 1454.0 692.7 1457.4 695.0 C1460.9 697.3 1464.3 699.5 1467.8 701.7 C1471.2 704.0 1474.7 706.2 1478.1 708.3 C1481.6 710.5 1485.0 712.6 1488.5 714.7 C1491.9 716.8 1495.4 718.9 1498.9 721.0 C1502.3 723.0 1505.8 725.0 1509.2 727.0 C1512.7 729.0 1516.1 731.0 1519.6 732.9 C1523.0 734.9 1526.5 736.8 1529.9 738.7 C1533.4 740.6 1536.8 742.5 1540.3 744.3 C1543.7 746.1 1547.2 748.0 1550.6 749.8 C1554.1 751.5 1557.5 753.3 1561.0 755.1 C1564.5 756.8 1567.9 758.5 1571.4 760.2 C1574.8 761.9 1578.3 763.6 1581.7 765.2 C1585.2 766.9 1588.6 768.5 1592.1 770.1 C1595.5 771.7 1599.0 773.3 1602.4 774.8 C1605.9 776.4 1609.3 777.9 1612.8 779.4 C1616.2 781.0 1619.7 782.4 1623.1 783.9 C1626.6 785.4 1630.1 786.8 1633.5 788.3 C1637.0 789.7 1640.4 791.1 1643.9 792.5 C1647.3 793.9 1652.5 795.9 1654.2 796.6" fill="none" stroke="#21918c" stroke-width="2.3" stroke-opacity="0.95" /><path d="M1405.6 658.6 C1407.4 659.8 1412.5 663.7 1416.0 666.2 C1419.4 668.7 1422.9 671.2 1426.3 673.7 C1429.8 676.1 1433.3 678.6 1436.7 681.0 C1440.2 683.4 1443.6 685.7 1447.1 688.1 C1450.5 690.4 1454.0 692.7 1457.4 695.0 C1460.9 697.3 1464.3 699.5 1467.8 701.7 C1471.2 704.0 1474.7 706.2 1478.1 708.3 C1481.6 710.5 1485.0 712.6 1488.5 714.7 C1491.9 716.8 1495.4 718.9 1498.9 721.0 C1502.3 723.0 1505.8 725.0 1509.2 727.0 C1512.7 729.0 1516.1 731.0 1519.6 732.9 C1523.0 734.9 1526.5 736.8 1529.9 738.7 C1533.4 740.6 1536.8 742.5 1540.3 744.3 C1543.7 746.1 1547.2 748.0 1550.6 749.8 C1554.1 751.5 1557.5 753.3 1561.0 755.1 C1564.5 756.8 1567.9 758.5 1571.4 760.2 C1574.8 761.9 1578.3 763.6 1581.7 765.2 C1585.2 766.9 1588.6 768.5 1592.1 770.1 C1595.5 771.7 1599.0 773.3 1602.4 774.8 C1605.9 776.4 1609.3 777.9 1612.8 779.4 C1616.2 781.0 1619.7 782.4 1623.1 783.9 C1626.6 785.4 1630.1 786.8 1633.5 788.3 C1637.0 789.7 1640.4 791.1 1643.9 792.5 C1647.3 793.9 1652.5 795.9 1654.2 796.6" fill="none" stroke="#d2e21b" stroke-width="2.3" stroke-dasharray="2 2.6" />
<path d="M1405.6 659.8 C1407.4 660.2 1412.5 661.5 1416.0 662.4 C1419.4 663.2 1422.9 664.1 1426.3 664.9 C1429.8 665.8 1433.3 666.6 1436.7 667.4 C1440.2 668.2 1443.6 669.0 1447.1 669.8 C1450.5 670.6 1454.0 671.4 1457.4 672.2 C1460.9 672.9 1464.3 673.7 1467.8 674.4 C1471.2 675.2 1474.7 675.9 1478.1 676.6 C1481.6 677.4 1485.0 678.1 1488.5 678.8 C1491.9 679.5 1495.4 680.2 1498.9 680.9 C1502.3 681.5 1505.8 682.2 1509.2 682.8 C1512.7 683.5 1516.1 684.1 1519.6 684.8 C1523.0 685.4 1526.5 686.0 1529.9 686.6 C1533.4 687.2 1536.8 687.8 1540.3 688.4 C1543.7 689.0 1547.2 689.6 1550.6 690.1 C1554.1 690.7 1557.5 691.3 1561.0 691.8 C1564.5 692.3 1567.9 692.9 1571.4 693.4 C1574.8 693.9 1578.3 694.4 1581.7 694.9 C1585.2 695.4 1588.6 695.9 1592.1 696.3 C1595.5 696.8 1599.0 697.2 1602.4 697.7 C1605.9 698.1 1609.3 698.6 1612.8 699.0 C1616.2 699.4 1619.7 699.8 1623.1 700.2 C1626.6 700.6 1630.1 701.0 1633.5 701.4 C1637.0 701.8 1640.4 702.1 1643.9 702.5 C1647.3 702.8 1652.5 703.3 1654.2 703.5" fill="none" stroke="#287d8e" stroke-width="2.3" stroke-opacity="0.794095051476929" stroke-dasharray="2.7 1.3" stroke-dashoffset="3.7"/><path d="M1405.6 659.8 C1407.4 660.2 1412.5 661.5 1416.0 662.4 C1419.4 663.2 1422.9 664.1 1426.3 664.9 C1429.8 665.8 1433.3 666.6 1436.7 667.4 C1440.2 668.2 1443.6 669.0 1447.1 669.8 C1450.5 670.6 1454.0 671.4 1457.4 672.2 C1460.9 672.9 1464.3 673.7 1467.8 674.4 C1471.2 675.2 1474.7 675.9 1478.1 676.6 C1481.6 677.4 1485.0 678.1 1488.5 678.8 C1491.9 679.5 1495.4 680.2 1498.9 680.9 C1502.3 681.5 1505.8 682.2 1509.2 682.8 C1512.7 683.5 1516.1 684.1 1519.6 684.8 C1523.0 685.4 1526.5 686.0 1529.9 686.6 C1533.4 687.2 1536.8 687.8 1540.3 688.4 C1543.7 689.0 1547.2 689.6 1550.6 690.1 C1554.1 690.7 1557.5 691.3 1561.0 691.8 C1564.5 692.3 1567.9 692.9 1571.4 693.4 C1574.8 693.9 1578.3 694.4 1581.7 694.9 C1585.2 695.4 1588.6 695.9 1592.1 696.3 C1595.5 696.8 1599.0 697.2 1602.4 697.7 C1605.9 698.1 1609.3 698.6 1612.8 699.0 C1616.2 699.4 1619.7 699.8 1623.1 700.2 C1626.6 700.6 1630.1 701.0 1633.5 701.4 C1637.0 701.8 1640.4 702.1 1643.9 702.5 C1647.3 702.8 1652.5 703.3 1654.2 703.5" fill="none" stroke="#38b977" stroke-width="2.3" stroke-opacity="0.794095051476929" stroke-dasharray="2 4.6" stroke-dashoffset="0.7"/>
<line x1="1095.2" x2="1656.5" y1="656.4" y2="656.4" stroke="#d80018" stroke-width="3.8" stroke-dasharray="11.6 5.2"/>
<line x1="1095.2" x2="1656.5" y1="982.2" y2="982.2" stroke="#d80018" stroke-width="3.8" stroke-dasharray="11.6 5.2"/>
</g>
<rect x="1096.5" y="593.0" width="558.0" height="454.5" fill="none" stroke="#000" stroke-width="1.6"/>
<line x1="1089.0" x2="1096.5" y1="626.34" y2="626.34" stroke="#000" stroke-width="1.6"/>
<text x="1081.0" y="637.5" text-anchor="end" style="font-family:'DejaVu Sans',sans-serif;font-size:27.8px">0.6</text>
<line x1="1089.0" x2="1096.5" y1="690.96" y2="690.96" stroke="#000" stroke-width="1.6"/>
<text x="1081.0" y="702.2" text-anchor="end" style="font-family:'DejaVu Sans',sans-serif;font-size:27.8px">0.4</text>
<line x1="1089.0" x2="1096.5" y1="755.58" y2="755.58" stroke="#000" stroke-width="1.6"/>
<text x="1081.0" y="766.8" text-anchor="end" style="font-family:'DejaVu Sans',sans-serif;font-size:27.8px">0.2</text>
<line x1="1089.0" x2="1096.5" y1="820.20" y2="820.20" stroke="#000" stroke-width="1.6"/>
<text x="1081.0" y="831.4" text-anchor="end" style="font-family:'DejaVu Sans',sans-serif;font-size:27.8px">0.0</text>
<line x1="1089.0" x2="1096.5" y1="884.82" y2="884.82" stroke="#000" stroke-width="1.6"/>
<text x="1081.0" y="896.0" text-anchor="end" style="font-family:'DejaVu Sans',sans-serif;font-size:27.8px">−0.2</text>
<line x1="1089.0" x2="1096.5" y1="949.44" y2="949.44" stroke="#000" stroke-width="1.6"/>
<text x="1081.0" y="960.6" text-anchor="end" style="font-family:'DejaVu Sans',sans-serif;font-size:27.8px">−0.4</text>
<line x1="1089.0" x2="1096.5" y1="1014.06" y2="1014.06" stroke="#000" stroke-width="1.6"/>
<text x="1081.0" y="1025.3" text-anchor="end" style="font-family:'DejaVu Sans',sans-serif;font-size:27.8px">−0.6</text>
<line x1="1096.50" x2="1096.50" y1="1047.5" y2="1056.0" stroke="#000" stroke-width="1.6"/>
<text x="1097.50" y="1086.0" text-anchor="middle" style="font-family:'DejaVu Sans',sans-serif;font-size:27.8px">0</text>
<line x1="1236.00" x2="1236.00" y1="1047.5" y2="1056.0" stroke="#000" stroke-width="1.6"/>
<text x="1237.00" y="1086.0" text-anchor="middle" style="font-family:'DejaVu Sans',sans-serif;font-size:27.8px">1</text>
<line x1="1375.50" x2="1375.50" y1="1047.5" y2="1056.0" stroke="#000" stroke-width="1.6"/>
<text x="1376.50" y="1086.0" text-anchor="middle" style="font-family:'DejaVu Sans',sans-serif;font-size:27.8px">2</text>
<line x1="1515.00" x2="1515.00" y1="1047.5" y2="1056.0" stroke="#000" stroke-width="1.6"/>
<text x="1516.00" y="1086.0" text-anchor="middle" style="font-family:'DejaVu Sans',sans-serif;font-size:27.8px">3</text>
<line x1="1654.50" x2="1654.50" y1="1047.5" y2="1056.0" stroke="#000" stroke-width="1.6"/>
<text x="1655.50" y="1086.0" text-anchor="middle" style="font-family:'DejaVu Sans',sans-serif;font-size:27.8px">4</text>
<text x="1374.0" y="1123.1" text-anchor="middle" style="font-family:'DejaVu Sans',sans-serif;font-size:29.2px">V/t</text>
<text transform="translate(993.1,823.2) rotate(-90)" text-anchor="middle" style="font-family:'DejaVu Sans',sans-serif;font-size:29.2px">energy [t]</text>
<rect x="1690.0" y="593.0" width="23.0" height="454.5" fill="url(#cbd)" stroke="#000" stroke-width="1.6"/>
<line x1="1713.0" x2="1721.5" y1="1039.10" y2="1039.10" stroke="#000" stroke-width="1.6"/>
<text x="1728.0" y="1052.5" style="font-family:'DejaVu Sans',sans-serif;font-size:27.8px">10<tspan dx="0.7" dy="-10.3" style="font-size:20.5px">−</tspan><tspan dx="2" style="font-size:20.5px">3</tspan></text>
<line x1="1713.0" x2="1717.8" y1="1011.95" y2="1011.95" stroke="#000" stroke-width="1.2"/>
<line x1="1713.0" x2="1717.8" y1="996.06" y2="996.06" stroke="#000" stroke-width="1.2"/>
<line x1="1713.0" x2="1717.8" y1="984.79" y2="984.79" stroke="#000" stroke-width="1.2"/>
<line x1="1713.0" x2="1717.8" y1="976.05" y2="976.05" stroke="#000" stroke-width="1.2"/>
<line x1="1713.0" x2="1717.8" y1="968.91" y2="968.91" stroke="#000" stroke-width="1.2"/>
<line x1="1713.0" x2="1717.8" y1="962.87" y2="962.87" stroke="#000" stroke-width="1.2"/>
<line x1="1713.0" x2="1717.8" y1="957.64" y2="957.64" stroke="#000" stroke-width="1.2"/>
<line x1="1713.0" x2="1717.8" y1="953.03" y2="953.03" stroke="#000" stroke-width="1.2"/>
<line x1="1713.0" x2="1721.5" y1="948.90" y2="948.90" stroke="#000" stroke-width="1.6"/>
<text x="1728.0" y="962.3" style="font-family:'DejaVu Sans',sans-serif;font-size:27.8px">10<tspan dx="0.7" dy="-10.3" style="font-size:20.5px">−</tspan><tspan dx="2" style="font-size:20.5px">2</tspan></text>
<line x1="1713.0" x2="1717.8" y1="921.75" y2="921.75" stroke="#000" stroke-width="1.2"/>
<line x1="1713.0" x2="1717.8" y1="905.86" y2="905.86" stroke="#000" stroke-width="1.2"/>
<line x1="1713.0" x2="1717.8" y1="894.59" y2="894.59" stroke="#000" stroke-width="1.2"/>
<line x1="1713.0" x2="1717.8" y1="885.85" y2="885.85" stroke="#000" stroke-width="1.2"/>
<line x1="1713.0" x2="1717.8" y1="878.71" y2="878.71" stroke="#000" stroke-width="1.2"/>
<line x1="1713.0" x2="1717.8" y1="872.67" y2="872.67" stroke="#000" stroke-width="1.2"/>
<line x1="1713.0" x2="1717.8" y1="867.44" y2="867.44" stroke="#000" stroke-width="1.2"/>
<line x1="1713.0" x2="1717.8" y1="862.83" y2="862.83" stroke="#000" stroke-width="1.2"/>
<line x1="1713.0" x2="1721.5" y1="858.70" y2="858.70" stroke="#000" stroke-width="1.6"/>
<text x="1728.0" y="872.1" style="font-family:'DejaVu Sans',sans-serif;font-size:27.8px">10<tspan dx="0.7" dy="-10.3" style="font-size:20.5px">−</tspan><tspan dx="2" style="font-size:20.5px">1</tspan></text>
<line x1="1713.0" x2="1717.8" y1="831.55" y2="831.55" stroke="#000" stroke-width="1.2"/>
<line x1="1713.0" x2="1717.8" y1="815.66" y2="815.66" stroke="#000" stroke-width="1.2"/>
<line x1="1713.0" x2="1717.8" y1="804.39" y2="804.39" stroke="#000" stroke-width="1.2"/>
<line x1="1713.0" x2="1717.8" y1="795.65" y2="795.65" stroke="#000" stroke-width="1.2"/>
<line x1="1713.0" x2="1717.8" y1="788.51" y2="788.51" stroke="#000" stroke-width="1.2"/>
<line x1="1713.0" x2="1717.8" y1="782.47" y2="782.47" stroke="#000" stroke-width="1.2"/>
<line x1="1713.0" x2="1717.8" y1="777.24" y2="777.24" stroke="#000" stroke-width="1.2"/>
<line x1="1713.0" x2="1717.8" y1="772.63" y2="772.63" stroke="#000" stroke-width="1.2"/>
<line x1="1713.0" x2="1721.5" y1="768.50" y2="768.50" stroke="#000" stroke-width="1.6"/>
<text x="1728.0" y="781.9" style="font-family:'DejaVu Sans',sans-serif;font-size:27.8px">10<tspan dx="0.8" dy="-10.3" style="font-size:20.5px">0</tspan></text>
<line x1="1713.0" x2="1717.8" y1="741.35" y2="741.35" stroke="#000" stroke-width="1.2"/>
<line x1="1713.0" x2="1717.8" y1="725.46" y2="725.46" stroke="#000" stroke-width="1.2"/>
<line x1="1713.0" x2="1717.8" y1="714.19" y2="714.19" stroke="#000" stroke-width="1.2"/>
<line x1="1713.0" x2="1717.8" y1="705.45" y2="705.45" stroke="#000" stroke-width="1.2"/>
<line x1="1713.0" x2="1717.8" y1="698.31" y2="698.31" stroke="#000" stroke-width="1.2"/>
<line x1="1713.0" x2="1717.8" y1="692.27" y2="692.27" stroke="#000" stroke-width="1.2"/>
<line x1="1713.0" x2="1717.8" y1="687.04" y2="687.04" stroke="#000" stroke-width="1.2"/>
<line x1="1713.0" x2="1717.8" y1="682.43" y2="682.43" stroke="#000" stroke-width="1.2"/>
<line x1="1713.0" x2="1721.5" y1="678.30" y2="678.30" stroke="#000" stroke-width="1.6"/>
<text x="1728.0" y="691.7" style="font-family:'DejaVu Sans',sans-serif;font-size:27.8px">10<tspan dx="0.8" dy="-10.3" style="font-size:20.5px">1</tspan></text>
<line x1="1713.0" x2="1717.8" y1="651.15" y2="651.15" stroke="#000" stroke-width="1.2"/>
<line x1="1713.0" x2="1717.8" y1="635.26" y2="635.26" stroke="#000" stroke-width="1.2"/>
<line x1="1713.0" x2="1717.8" y1="623.99" y2="623.99" stroke="#000" stroke-width="1.2"/>
<line x1="1713.0" x2="1717.8" y1="615.25" y2="615.25" stroke="#000" stroke-width="1.2"/>
<line x1="1713.0" x2="1717.8" y1="608.11" y2="608.11" stroke="#000" stroke-width="1.2"/>
<line x1="1713.0" x2="1717.8" y1="602.07" y2="602.07" stroke="#000" stroke-width="1.2"/>
<line x1="1713.0" x2="1717.8" y1="596.84" y2="596.84" stroke="#000" stroke-width="1.2"/>
<text transform="translate(1825.0,822.6) rotate(-90)" text-anchor="middle" style="font-family:'DejaVu Sans',sans-serif;font-size:29.2px">LDOS [a.u.]</text>
<text x="978.2" y="1145" style="font-family:'Liberation Serif',serif;font-size:42px">(d)</text>
</g></svg>
</body></html>
